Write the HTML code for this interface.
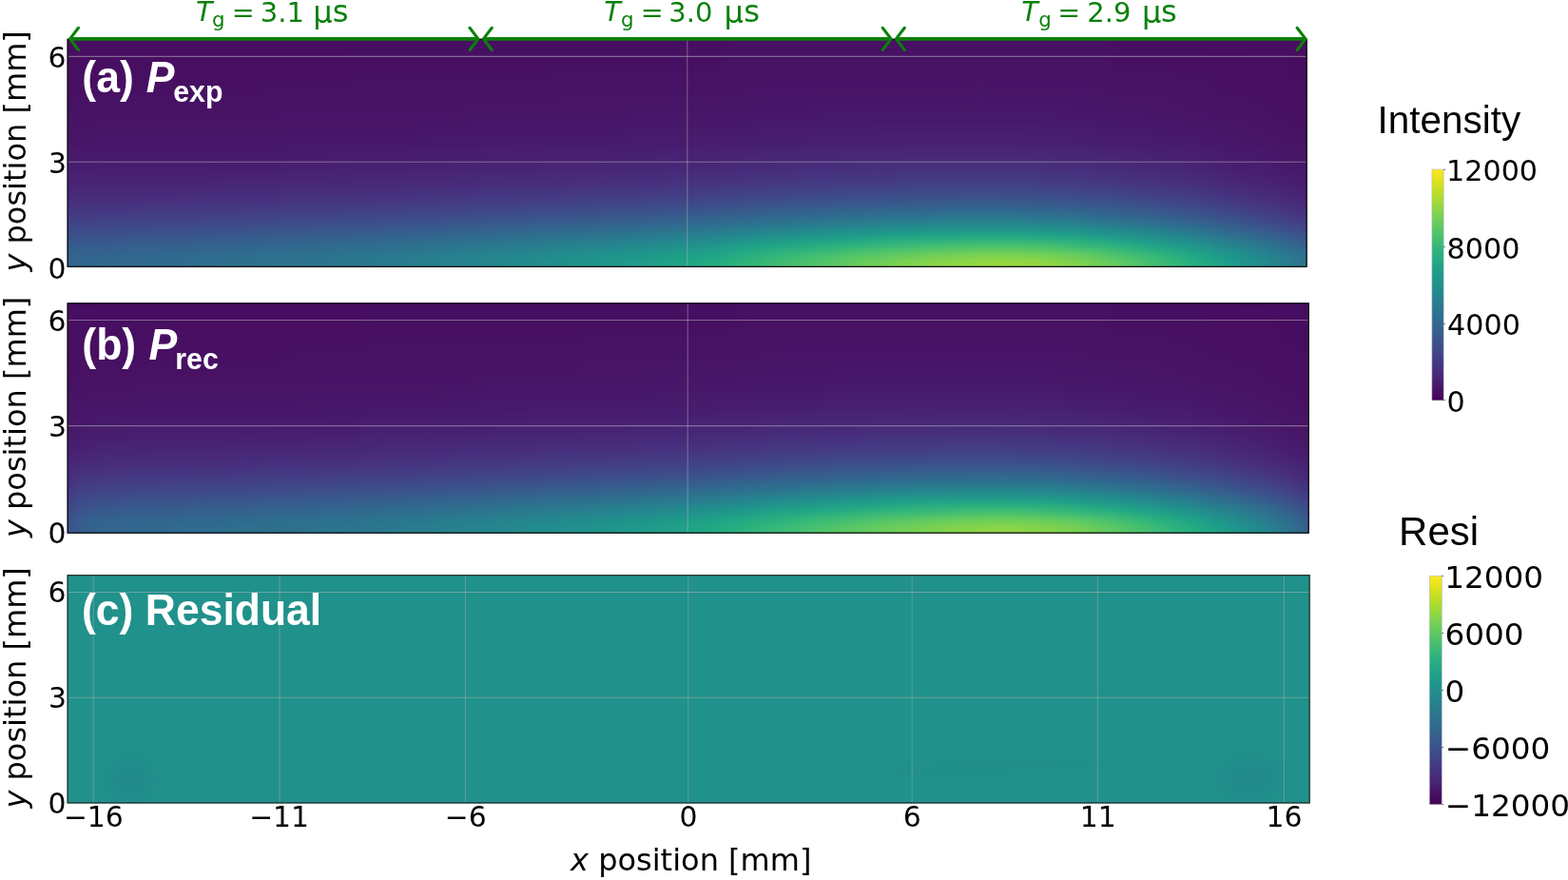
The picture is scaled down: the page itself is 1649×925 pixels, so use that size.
<!DOCTYPE html>
<html><head><meta charset="utf-8"><title>Figure</title><style>html,body{margin:0;padding:0;background:#fff;overflow:hidden}svg{display:block}</style></head><body>
<svg width="1649" height="925" viewBox="0 0 1649 925" role="img" aria-label="Intensity maps: (a) P exp, (b) P rec, (c) Residual">
<defs>
<filter id="hb" filterUnits="userSpaceOnUse" x="0" y="0" width="1649" height="925" color-interpolation-filters="sRGB"><feGaussianBlur stdDeviation="5 0"/></filter>
<linearGradient id="a0" x1="0" y1="0" x2="0" y2="1"><stop offset="0.00" stop-color="#470e61"/><stop offset="0.12" stop-color="#470e61"/><stop offset="0.24" stop-color="#471063"/><stop offset="0.36" stop-color="#471365"/><stop offset="0.46" stop-color="#481668"/><stop offset="0.55" stop-color="#481b6d"/><stop offset="0.63" stop-color="#482374"/><stop offset="0.70" stop-color="#472c7a"/><stop offset="0.76" stop-color="#453882"/><stop offset="0.81" stop-color="#414487"/><stop offset="0.86" stop-color="#3c508b"/><stop offset="0.90" stop-color="#375a8c"/><stop offset="0.94" stop-color="#34618d"/><stop offset="0.97" stop-color="#32648e"/><stop offset="1.00" stop-color="#31668e"/></linearGradient><linearGradient id="a1" x1="0" y1="0" x2="0" y2="1"><stop offset="0.00" stop-color="#470e61"/><stop offset="0.12" stop-color="#470e61"/><stop offset="0.24" stop-color="#471063"/><stop offset="0.36" stop-color="#471365"/><stop offset="0.46" stop-color="#481668"/><stop offset="0.55" stop-color="#481b6d"/><stop offset="0.63" stop-color="#482374"/><stop offset="0.70" stop-color="#472c7a"/><stop offset="0.76" stop-color="#453882"/><stop offset="0.81" stop-color="#414487"/><stop offset="0.86" stop-color="#3c508b"/><stop offset="0.90" stop-color="#375a8c"/><stop offset="0.94" stop-color="#34618d"/><stop offset="0.97" stop-color="#32648e"/><stop offset="1.00" stop-color="#31668e"/></linearGradient><linearGradient id="a2" x1="0" y1="0" x2="0" y2="1"><stop offset="0.00" stop-color="#470e61"/><stop offset="0.12" stop-color="#470e61"/><stop offset="0.24" stop-color="#471063"/><stop offset="0.36" stop-color="#471365"/><stop offset="0.46" stop-color="#481668"/><stop offset="0.55" stop-color="#481b6d"/><stop offset="0.63" stop-color="#482374"/><stop offset="0.70" stop-color="#472d7b"/><stop offset="0.76" stop-color="#453882"/><stop offset="0.81" stop-color="#414487"/><stop offset="0.86" stop-color="#3c508b"/><stop offset="0.90" stop-color="#375a8c"/><stop offset="0.94" stop-color="#34618d"/><stop offset="0.97" stop-color="#32658e"/><stop offset="1.00" stop-color="#31668e"/></linearGradient><linearGradient id="a3" x1="0" y1="0" x2="0" y2="1"><stop offset="0.00" stop-color="#470e61"/><stop offset="0.12" stop-color="#470e61"/><stop offset="0.24" stop-color="#471063"/><stop offset="0.36" stop-color="#471365"/><stop offset="0.46" stop-color="#481668"/><stop offset="0.55" stop-color="#481b6d"/><stop offset="0.63" stop-color="#482374"/><stop offset="0.70" stop-color="#472d7b"/><stop offset="0.76" stop-color="#453882"/><stop offset="0.81" stop-color="#414487"/><stop offset="0.86" stop-color="#3c508b"/><stop offset="0.90" stop-color="#375a8c"/><stop offset="0.94" stop-color="#33628d"/><stop offset="0.97" stop-color="#32658e"/><stop offset="1.00" stop-color="#31678e"/></linearGradient><linearGradient id="a4" x1="0" y1="0" x2="0" y2="1"><stop offset="0.00" stop-color="#470e61"/><stop offset="0.12" stop-color="#470e61"/><stop offset="0.24" stop-color="#471063"/><stop offset="0.36" stop-color="#471365"/><stop offset="0.46" stop-color="#481769"/><stop offset="0.55" stop-color="#481b6d"/><stop offset="0.63" stop-color="#482374"/><stop offset="0.70" stop-color="#472d7b"/><stop offset="0.76" stop-color="#453882"/><stop offset="0.81" stop-color="#414487"/><stop offset="0.86" stop-color="#3b518b"/><stop offset="0.90" stop-color="#375b8d"/><stop offset="0.94" stop-color="#33628d"/><stop offset="0.97" stop-color="#31668e"/><stop offset="1.00" stop-color="#31678e"/></linearGradient><linearGradient id="a5" x1="0" y1="0" x2="0" y2="1"><stop offset="0.00" stop-color="#470e61"/><stop offset="0.12" stop-color="#470e61"/><stop offset="0.24" stop-color="#471063"/><stop offset="0.36" stop-color="#471365"/><stop offset="0.46" stop-color="#481769"/><stop offset="0.55" stop-color="#481c6e"/><stop offset="0.63" stop-color="#482374"/><stop offset="0.70" stop-color="#472d7b"/><stop offset="0.76" stop-color="#443983"/><stop offset="0.81" stop-color="#404588"/><stop offset="0.86" stop-color="#3b518b"/><stop offset="0.90" stop-color="#375b8d"/><stop offset="0.94" stop-color="#33638d"/><stop offset="0.97" stop-color="#31678e"/><stop offset="1.00" stop-color="#31688e"/></linearGradient><linearGradient id="a6" x1="0" y1="0" x2="0" y2="1"><stop offset="0.00" stop-color="#470e61"/><stop offset="0.12" stop-color="#470e61"/><stop offset="0.24" stop-color="#471063"/><stop offset="0.36" stop-color="#471365"/><stop offset="0.46" stop-color="#481769"/><stop offset="0.55" stop-color="#481c6e"/><stop offset="0.63" stop-color="#482374"/><stop offset="0.70" stop-color="#472d7b"/><stop offset="0.76" stop-color="#443983"/><stop offset="0.81" stop-color="#404588"/><stop offset="0.86" stop-color="#3b528b"/><stop offset="0.90" stop-color="#365c8d"/><stop offset="0.94" stop-color="#32648e"/><stop offset="0.97" stop-color="#31678e"/><stop offset="1.00" stop-color="#30698e"/></linearGradient><linearGradient id="a7" x1="0" y1="0" x2="0" y2="1"><stop offset="0.00" stop-color="#470e61"/><stop offset="0.12" stop-color="#470e61"/><stop offset="0.24" stop-color="#471063"/><stop offset="0.36" stop-color="#471365"/><stop offset="0.46" stop-color="#481769"/><stop offset="0.55" stop-color="#481c6e"/><stop offset="0.63" stop-color="#482475"/><stop offset="0.70" stop-color="#472d7b"/><stop offset="0.76" stop-color="#443983"/><stop offset="0.81" stop-color="#404588"/><stop offset="0.86" stop-color="#3b528b"/><stop offset="0.90" stop-color="#365c8d"/><stop offset="0.94" stop-color="#32648e"/><stop offset="0.97" stop-color="#31688e"/><stop offset="1.00" stop-color="#30698e"/></linearGradient><linearGradient id="a8" x1="0" y1="0" x2="0" y2="1"><stop offset="0.00" stop-color="#470e61"/><stop offset="0.12" stop-color="#470e61"/><stop offset="0.24" stop-color="#471063"/><stop offset="0.36" stop-color="#471365"/><stop offset="0.46" stop-color="#481769"/><stop offset="0.55" stop-color="#481c6e"/><stop offset="0.63" stop-color="#482475"/><stop offset="0.70" stop-color="#472e7c"/><stop offset="0.76" stop-color="#443983"/><stop offset="0.81" stop-color="#404688"/><stop offset="0.86" stop-color="#3a538b"/><stop offset="0.90" stop-color="#365d8d"/><stop offset="0.94" stop-color="#32658e"/><stop offset="0.97" stop-color="#31688e"/><stop offset="1.00" stop-color="#306a8e"/></linearGradient><linearGradient id="a9" x1="0" y1="0" x2="0" y2="1"><stop offset="0.00" stop-color="#470e61"/><stop offset="0.12" stop-color="#470e61"/><stop offset="0.24" stop-color="#471063"/><stop offset="0.36" stop-color="#471365"/><stop offset="0.46" stop-color="#481769"/><stop offset="0.55" stop-color="#481c6e"/><stop offset="0.63" stop-color="#482475"/><stop offset="0.70" stop-color="#472e7c"/><stop offset="0.76" stop-color="#443a83"/><stop offset="0.81" stop-color="#404688"/><stop offset="0.86" stop-color="#3a538b"/><stop offset="0.90" stop-color="#365d8d"/><stop offset="0.94" stop-color="#32658e"/><stop offset="0.97" stop-color="#30698e"/><stop offset="1.00" stop-color="#306a8e"/></linearGradient><linearGradient id="a10" x1="0" y1="0" x2="0" y2="1"><stop offset="0.00" stop-color="#470e61"/><stop offset="0.12" stop-color="#470e61"/><stop offset="0.24" stop-color="#471063"/><stop offset="0.36" stop-color="#471365"/><stop offset="0.46" stop-color="#481769"/><stop offset="0.55" stop-color="#481c6e"/><stop offset="0.63" stop-color="#482475"/><stop offset="0.70" stop-color="#472e7c"/><stop offset="0.76" stop-color="#443a83"/><stop offset="0.81" stop-color="#404688"/><stop offset="0.86" stop-color="#3a538b"/><stop offset="0.90" stop-color="#355e8d"/><stop offset="0.94" stop-color="#31668e"/><stop offset="0.97" stop-color="#306a8e"/><stop offset="1.00" stop-color="#2f6b8e"/></linearGradient><linearGradient id="a11" x1="0" y1="0" x2="0" y2="1"><stop offset="0.00" stop-color="#470e61"/><stop offset="0.12" stop-color="#470e61"/><stop offset="0.24" stop-color="#471063"/><stop offset="0.36" stop-color="#471365"/><stop offset="0.46" stop-color="#481769"/><stop offset="0.55" stop-color="#481c6e"/><stop offset="0.63" stop-color="#482475"/><stop offset="0.70" stop-color="#472e7c"/><stop offset="0.76" stop-color="#443a83"/><stop offset="0.81" stop-color="#3f4788"/><stop offset="0.86" stop-color="#3a548c"/><stop offset="0.90" stop-color="#355e8d"/><stop offset="0.94" stop-color="#31668e"/><stop offset="0.97" stop-color="#306a8e"/><stop offset="1.00" stop-color="#2f6b8e"/></linearGradient><linearGradient id="a12" x1="0" y1="0" x2="0" y2="1"><stop offset="0.00" stop-color="#470e61"/><stop offset="0.12" stop-color="#470e61"/><stop offset="0.24" stop-color="#471063"/><stop offset="0.36" stop-color="#471365"/><stop offset="0.46" stop-color="#481769"/><stop offset="0.55" stop-color="#481c6e"/><stop offset="0.63" stop-color="#482475"/><stop offset="0.70" stop-color="#472e7c"/><stop offset="0.76" stop-color="#443a83"/><stop offset="0.81" stop-color="#3f4788"/><stop offset="0.86" stop-color="#3a548c"/><stop offset="0.90" stop-color="#355f8d"/><stop offset="0.94" stop-color="#31678e"/><stop offset="0.97" stop-color="#2f6b8e"/><stop offset="1.00" stop-color="#2f6c8e"/></linearGradient><linearGradient id="a13" x1="0" y1="0" x2="0" y2="1"><stop offset="0.00" stop-color="#470e61"/><stop offset="0.12" stop-color="#470e61"/><stop offset="0.24" stop-color="#471063"/><stop offset="0.36" stop-color="#471365"/><stop offset="0.46" stop-color="#481769"/><stop offset="0.55" stop-color="#481c6e"/><stop offset="0.63" stop-color="#482475"/><stop offset="0.70" stop-color="#472e7c"/><stop offset="0.76" stop-color="#443b84"/><stop offset="0.81" stop-color="#3f4788"/><stop offset="0.86" stop-color="#39558c"/><stop offset="0.90" stop-color="#355f8d"/><stop offset="0.94" stop-color="#31678e"/><stop offset="0.97" stop-color="#2f6b8e"/><stop offset="1.00" stop-color="#2e6d8e"/></linearGradient><linearGradient id="a14" x1="0" y1="0" x2="0" y2="1"><stop offset="0.00" stop-color="#470e61"/><stop offset="0.12" stop-color="#470e61"/><stop offset="0.24" stop-color="#471063"/><stop offset="0.36" stop-color="#471365"/><stop offset="0.46" stop-color="#481769"/><stop offset="0.55" stop-color="#481c6e"/><stop offset="0.63" stop-color="#482475"/><stop offset="0.70" stop-color="#472f7d"/><stop offset="0.76" stop-color="#443b84"/><stop offset="0.81" stop-color="#3f4889"/><stop offset="0.86" stop-color="#39558c"/><stop offset="0.90" stop-color="#34608d"/><stop offset="0.94" stop-color="#31688e"/><stop offset="0.97" stop-color="#2f6c8e"/><stop offset="1.00" stop-color="#2e6d8e"/></linearGradient><linearGradient id="a15" x1="0" y1="0" x2="0" y2="1"><stop offset="0.00" stop-color="#470e61"/><stop offset="0.12" stop-color="#470e61"/><stop offset="0.24" stop-color="#471063"/><stop offset="0.36" stop-color="#471365"/><stop offset="0.46" stop-color="#481769"/><stop offset="0.55" stop-color="#481c6e"/><stop offset="0.63" stop-color="#482475"/><stop offset="0.70" stop-color="#472f7d"/><stop offset="0.76" stop-color="#443b84"/><stop offset="0.81" stop-color="#3f4889"/><stop offset="0.86" stop-color="#39558c"/><stop offset="0.90" stop-color="#34608d"/><stop offset="0.94" stop-color="#30698e"/><stop offset="0.97" stop-color="#2f6c8e"/><stop offset="1.00" stop-color="#2e6e8e"/></linearGradient><linearGradient id="a16" x1="0" y1="0" x2="0" y2="1"><stop offset="0.00" stop-color="#470e61"/><stop offset="0.12" stop-color="#470e61"/><stop offset="0.24" stop-color="#471063"/><stop offset="0.36" stop-color="#471365"/><stop offset="0.46" stop-color="#481769"/><stop offset="0.55" stop-color="#481c6e"/><stop offset="0.63" stop-color="#482576"/><stop offset="0.70" stop-color="#472f7d"/><stop offset="0.76" stop-color="#443b84"/><stop offset="0.81" stop-color="#3f4889"/><stop offset="0.86" stop-color="#39568c"/><stop offset="0.90" stop-color="#34618d"/><stop offset="0.94" stop-color="#30698e"/><stop offset="0.97" stop-color="#2e6d8e"/><stop offset="1.00" stop-color="#2e6e8e"/></linearGradient><linearGradient id="a17" x1="0" y1="0" x2="0" y2="1"><stop offset="0.00" stop-color="#470e61"/><stop offset="0.12" stop-color="#470e61"/><stop offset="0.24" stop-color="#471063"/><stop offset="0.36" stop-color="#471365"/><stop offset="0.46" stop-color="#481769"/><stop offset="0.55" stop-color="#481c6e"/><stop offset="0.63" stop-color="#482576"/><stop offset="0.70" stop-color="#472f7d"/><stop offset="0.76" stop-color="#433d84"/><stop offset="0.81" stop-color="#3e4989"/><stop offset="0.86" stop-color="#39568c"/><stop offset="0.90" stop-color="#34618d"/><stop offset="0.94" stop-color="#306a8e"/><stop offset="0.97" stop-color="#2e6e8e"/><stop offset="1.00" stop-color="#2e6f8e"/></linearGradient><linearGradient id="a18" x1="0" y1="0" x2="0" y2="1"><stop offset="0.00" stop-color="#470e61"/><stop offset="0.12" stop-color="#470e61"/><stop offset="0.24" stop-color="#471063"/><stop offset="0.36" stop-color="#471365"/><stop offset="0.46" stop-color="#481769"/><stop offset="0.55" stop-color="#481d6f"/><stop offset="0.63" stop-color="#482576"/><stop offset="0.70" stop-color="#472f7d"/><stop offset="0.76" stop-color="#433d84"/><stop offset="0.81" stop-color="#3e4989"/><stop offset="0.86" stop-color="#38588c"/><stop offset="0.90" stop-color="#33628d"/><stop offset="0.94" stop-color="#306a8e"/><stop offset="0.97" stop-color="#2e6e8e"/><stop offset="1.00" stop-color="#2d708e"/></linearGradient><linearGradient id="a19" x1="0" y1="0" x2="0" y2="1"><stop offset="0.00" stop-color="#470e61"/><stop offset="0.12" stop-color="#470e61"/><stop offset="0.24" stop-color="#471063"/><stop offset="0.36" stop-color="#471365"/><stop offset="0.46" stop-color="#481769"/><stop offset="0.55" stop-color="#481d6f"/><stop offset="0.63" stop-color="#482576"/><stop offset="0.70" stop-color="#46307e"/><stop offset="0.76" stop-color="#433d84"/><stop offset="0.81" stop-color="#3e4989"/><stop offset="0.86" stop-color="#38588c"/><stop offset="0.90" stop-color="#33628d"/><stop offset="0.94" stop-color="#2f6b8e"/><stop offset="0.97" stop-color="#2e6f8e"/><stop offset="1.00" stop-color="#2d708e"/></linearGradient><linearGradient id="a20" x1="0" y1="0" x2="0" y2="1"><stop offset="0.00" stop-color="#470e61"/><stop offset="0.12" stop-color="#470e61"/><stop offset="0.24" stop-color="#471063"/><stop offset="0.36" stop-color="#471365"/><stop offset="0.46" stop-color="#481769"/><stop offset="0.55" stop-color="#481d6f"/><stop offset="0.63" stop-color="#482576"/><stop offset="0.70" stop-color="#46307e"/><stop offset="0.76" stop-color="#433d84"/><stop offset="0.81" stop-color="#3e4a89"/><stop offset="0.86" stop-color="#38598c"/><stop offset="0.90" stop-color="#33638d"/><stop offset="0.94" stop-color="#2f6c8e"/><stop offset="0.97" stop-color="#2d708e"/><stop offset="1.00" stop-color="#2d718e"/></linearGradient><linearGradient id="a21" x1="0" y1="0" x2="0" y2="1"><stop offset="0.00" stop-color="#470e61"/><stop offset="0.12" stop-color="#470e61"/><stop offset="0.24" stop-color="#471063"/><stop offset="0.36" stop-color="#471365"/><stop offset="0.46" stop-color="#481769"/><stop offset="0.55" stop-color="#481d6f"/><stop offset="0.63" stop-color="#482576"/><stop offset="0.70" stop-color="#46307e"/><stop offset="0.76" stop-color="#433e85"/><stop offset="0.81" stop-color="#3e4a89"/><stop offset="0.86" stop-color="#38598c"/><stop offset="0.90" stop-color="#32648e"/><stop offset="0.94" stop-color="#2f6c8e"/><stop offset="0.97" stop-color="#2d708e"/><stop offset="1.00" stop-color="#2c718e"/></linearGradient><linearGradient id="a22" x1="0" y1="0" x2="0" y2="1"><stop offset="0.00" stop-color="#470e61"/><stop offset="0.12" stop-color="#470e61"/><stop offset="0.24" stop-color="#471164"/><stop offset="0.36" stop-color="#471365"/><stop offset="0.46" stop-color="#481769"/><stop offset="0.55" stop-color="#481d6f"/><stop offset="0.63" stop-color="#482576"/><stop offset="0.70" stop-color="#46307e"/><stop offset="0.76" stop-color="#433e85"/><stop offset="0.81" stop-color="#3e4a89"/><stop offset="0.86" stop-color="#375a8c"/><stop offset="0.90" stop-color="#32648e"/><stop offset="0.94" stop-color="#2e6d8e"/><stop offset="0.97" stop-color="#2d718e"/><stop offset="1.00" stop-color="#2c718e"/></linearGradient><linearGradient id="a23" x1="0" y1="0" x2="0" y2="1"><stop offset="0.00" stop-color="#470e61"/><stop offset="0.12" stop-color="#470e61"/><stop offset="0.24" stop-color="#471164"/><stop offset="0.36" stop-color="#481467"/><stop offset="0.46" stop-color="#481769"/><stop offset="0.55" stop-color="#481d6f"/><stop offset="0.63" stop-color="#482576"/><stop offset="0.70" stop-color="#46307e"/><stop offset="0.76" stop-color="#433e85"/><stop offset="0.81" stop-color="#3e4c8a"/><stop offset="0.86" stop-color="#375a8c"/><stop offset="0.90" stop-color="#32658e"/><stop offset="0.94" stop-color="#2e6d8e"/><stop offset="0.97" stop-color="#2c718e"/><stop offset="1.00" stop-color="#2c728e"/></linearGradient><linearGradient id="a24" x1="0" y1="0" x2="0" y2="1"><stop offset="0.00" stop-color="#470e61"/><stop offset="0.12" stop-color="#470e61"/><stop offset="0.24" stop-color="#471164"/><stop offset="0.36" stop-color="#481467"/><stop offset="0.46" stop-color="#48186a"/><stop offset="0.55" stop-color="#481d6f"/><stop offset="0.63" stop-color="#482677"/><stop offset="0.70" stop-color="#46327e"/><stop offset="0.76" stop-color="#433e85"/><stop offset="0.81" stop-color="#3e4c8a"/><stop offset="0.86" stop-color="#375b8d"/><stop offset="0.90" stop-color="#32658e"/><stop offset="0.94" stop-color="#2e6e8e"/><stop offset="0.97" stop-color="#2c718e"/><stop offset="1.00" stop-color="#2c738e"/></linearGradient><linearGradient id="a25" x1="0" y1="0" x2="0" y2="1"><stop offset="0.00" stop-color="#470e61"/><stop offset="0.12" stop-color="#470e61"/><stop offset="0.24" stop-color="#471164"/><stop offset="0.36" stop-color="#481467"/><stop offset="0.46" stop-color="#48186a"/><stop offset="0.55" stop-color="#481d6f"/><stop offset="0.63" stop-color="#482677"/><stop offset="0.70" stop-color="#46327e"/><stop offset="0.76" stop-color="#423f85"/><stop offset="0.81" stop-color="#3d4d8a"/><stop offset="0.86" stop-color="#375b8d"/><stop offset="0.90" stop-color="#31668e"/><stop offset="0.94" stop-color="#2e6f8e"/><stop offset="0.97" stop-color="#2c728e"/><stop offset="1.00" stop-color="#2b748e"/></linearGradient><linearGradient id="a26" x1="0" y1="0" x2="0" y2="1"><stop offset="0.00" stop-color="#470e61"/><stop offset="0.12" stop-color="#470e61"/><stop offset="0.24" stop-color="#471164"/><stop offset="0.36" stop-color="#481467"/><stop offset="0.46" stop-color="#48186a"/><stop offset="0.55" stop-color="#481d6f"/><stop offset="0.63" stop-color="#482677"/><stop offset="0.70" stop-color="#46327e"/><stop offset="0.76" stop-color="#423f85"/><stop offset="0.81" stop-color="#3d4d8a"/><stop offset="0.86" stop-color="#365c8d"/><stop offset="0.90" stop-color="#31668e"/><stop offset="0.94" stop-color="#2e6f8e"/><stop offset="0.97" stop-color="#2c738e"/><stop offset="1.00" stop-color="#2b748e"/></linearGradient><linearGradient id="a27" x1="0" y1="0" x2="0" y2="1"><stop offset="0.00" stop-color="#470e61"/><stop offset="0.12" stop-color="#470e61"/><stop offset="0.24" stop-color="#471164"/><stop offset="0.36" stop-color="#481467"/><stop offset="0.46" stop-color="#48186a"/><stop offset="0.55" stop-color="#481d6f"/><stop offset="0.63" stop-color="#482677"/><stop offset="0.70" stop-color="#46327e"/><stop offset="0.76" stop-color="#423f85"/><stop offset="0.81" stop-color="#3d4d8a"/><stop offset="0.86" stop-color="#365c8d"/><stop offset="0.90" stop-color="#31678e"/><stop offset="0.94" stop-color="#2d708e"/><stop offset="0.97" stop-color="#2c738e"/><stop offset="1.00" stop-color="#2b758e"/></linearGradient><linearGradient id="a28" x1="0" y1="0" x2="0" y2="1"><stop offset="0.00" stop-color="#470e61"/><stop offset="0.12" stop-color="#470e61"/><stop offset="0.24" stop-color="#471164"/><stop offset="0.36" stop-color="#481467"/><stop offset="0.46" stop-color="#48186a"/><stop offset="0.55" stop-color="#481d6f"/><stop offset="0.63" stop-color="#482677"/><stop offset="0.70" stop-color="#46327e"/><stop offset="0.76" stop-color="#424086"/><stop offset="0.81" stop-color="#3d4e8a"/><stop offset="0.86" stop-color="#365d8d"/><stop offset="0.90" stop-color="#31688e"/><stop offset="0.94" stop-color="#2d718e"/><stop offset="0.97" stop-color="#2b748e"/><stop offset="1.00" stop-color="#2a768e"/></linearGradient><linearGradient id="a29" x1="0" y1="0" x2="0" y2="1"><stop offset="0.00" stop-color="#470e61"/><stop offset="0.12" stop-color="#470e61"/><stop offset="0.24" stop-color="#471164"/><stop offset="0.36" stop-color="#481467"/><stop offset="0.46" stop-color="#48186a"/><stop offset="0.55" stop-color="#481d6f"/><stop offset="0.63" stop-color="#482677"/><stop offset="0.70" stop-color="#46337f"/><stop offset="0.76" stop-color="#424086"/><stop offset="0.81" stop-color="#3d4e8a"/><stop offset="0.86" stop-color="#365d8d"/><stop offset="0.90" stop-color="#31688e"/><stop offset="0.94" stop-color="#2c718e"/><stop offset="0.97" stop-color="#2b758e"/><stop offset="1.00" stop-color="#2a778e"/></linearGradient><linearGradient id="a30" x1="0" y1="0" x2="0" y2="1"><stop offset="0.00" stop-color="#470e61"/><stop offset="0.12" stop-color="#470e61"/><stop offset="0.24" stop-color="#471164"/><stop offset="0.36" stop-color="#481467"/><stop offset="0.46" stop-color="#48186a"/><stop offset="0.55" stop-color="#481f70"/><stop offset="0.63" stop-color="#482677"/><stop offset="0.70" stop-color="#46337f"/><stop offset="0.76" stop-color="#424086"/><stop offset="0.81" stop-color="#3c4f8a"/><stop offset="0.86" stop-color="#355e8d"/><stop offset="0.90" stop-color="#30698e"/><stop offset="0.94" stop-color="#2c718e"/><stop offset="0.97" stop-color="#2a768e"/><stop offset="1.00" stop-color="#2a778e"/></linearGradient><linearGradient id="a31" x1="0" y1="0" x2="0" y2="1"><stop offset="0.00" stop-color="#470e61"/><stop offset="0.12" stop-color="#471063"/><stop offset="0.24" stop-color="#471164"/><stop offset="0.36" stop-color="#481467"/><stop offset="0.46" stop-color="#48186a"/><stop offset="0.55" stop-color="#481f70"/><stop offset="0.63" stop-color="#482878"/><stop offset="0.70" stop-color="#46337f"/><stop offset="0.76" stop-color="#424186"/><stop offset="0.81" stop-color="#3c4f8a"/><stop offset="0.86" stop-color="#355e8d"/><stop offset="0.90" stop-color="#306a8e"/><stop offset="0.94" stop-color="#2c728e"/><stop offset="0.97" stop-color="#2a778e"/><stop offset="1.00" stop-color="#2a788e"/></linearGradient><linearGradient id="a32" x1="0" y1="0" x2="0" y2="1"><stop offset="0.00" stop-color="#470e61"/><stop offset="0.12" stop-color="#471063"/><stop offset="0.24" stop-color="#471164"/><stop offset="0.36" stop-color="#481467"/><stop offset="0.46" stop-color="#48186a"/><stop offset="0.55" stop-color="#481f70"/><stop offset="0.63" stop-color="#482878"/><stop offset="0.70" stop-color="#46337f"/><stop offset="0.76" stop-color="#424186"/><stop offset="0.81" stop-color="#3c4f8a"/><stop offset="0.86" stop-color="#355f8d"/><stop offset="0.90" stop-color="#306a8e"/><stop offset="0.94" stop-color="#2c738e"/><stop offset="0.97" stop-color="#2a778e"/><stop offset="1.00" stop-color="#29798e"/></linearGradient><linearGradient id="a33" x1="0" y1="0" x2="0" y2="1"><stop offset="0.00" stop-color="#470e61"/><stop offset="0.12" stop-color="#471063"/><stop offset="0.24" stop-color="#471164"/><stop offset="0.36" stop-color="#481467"/><stop offset="0.46" stop-color="#48186a"/><stop offset="0.55" stop-color="#481f70"/><stop offset="0.63" stop-color="#482878"/><stop offset="0.70" stop-color="#463480"/><stop offset="0.76" stop-color="#424186"/><stop offset="0.81" stop-color="#3c508b"/><stop offset="0.86" stop-color="#355f8d"/><stop offset="0.90" stop-color="#2f6b8e"/><stop offset="0.94" stop-color="#2b748e"/><stop offset="0.97" stop-color="#2a788e"/><stop offset="1.00" stop-color="#297a8e"/></linearGradient><linearGradient id="a34" x1="0" y1="0" x2="0" y2="1"><stop offset="0.00" stop-color="#470e61"/><stop offset="0.12" stop-color="#471063"/><stop offset="0.24" stop-color="#471164"/><stop offset="0.36" stop-color="#481467"/><stop offset="0.46" stop-color="#48186a"/><stop offset="0.55" stop-color="#481f70"/><stop offset="0.63" stop-color="#482878"/><stop offset="0.70" stop-color="#463480"/><stop offset="0.76" stop-color="#414287"/><stop offset="0.81" stop-color="#3c508b"/><stop offset="0.86" stop-color="#34608d"/><stop offset="0.90" stop-color="#2f6c8e"/><stop offset="0.94" stop-color="#2b758e"/><stop offset="0.97" stop-color="#29798e"/><stop offset="1.00" stop-color="#297b8e"/></linearGradient><linearGradient id="a35" x1="0" y1="0" x2="0" y2="1"><stop offset="0.00" stop-color="#470e61"/><stop offset="0.12" stop-color="#471063"/><stop offset="0.24" stop-color="#471164"/><stop offset="0.36" stop-color="#481467"/><stop offset="0.46" stop-color="#48186a"/><stop offset="0.55" stop-color="#481f70"/><stop offset="0.63" stop-color="#482878"/><stop offset="0.70" stop-color="#463480"/><stop offset="0.76" stop-color="#414287"/><stop offset="0.81" stop-color="#3b518b"/><stop offset="0.86" stop-color="#34618d"/><stop offset="0.90" stop-color="#2e6d8e"/><stop offset="0.94" stop-color="#2b758e"/><stop offset="0.97" stop-color="#297a8e"/><stop offset="1.00" stop-color="#287c8e"/></linearGradient><linearGradient id="a36" x1="0" y1="0" x2="0" y2="1"><stop offset="0.00" stop-color="#470e61"/><stop offset="0.12" stop-color="#471063"/><stop offset="0.24" stop-color="#471164"/><stop offset="0.36" stop-color="#481467"/><stop offset="0.46" stop-color="#48186a"/><stop offset="0.55" stop-color="#481f70"/><stop offset="0.63" stop-color="#482878"/><stop offset="0.70" stop-color="#463480"/><stop offset="0.76" stop-color="#414487"/><stop offset="0.81" stop-color="#3b528b"/><stop offset="0.86" stop-color="#33628d"/><stop offset="0.90" stop-color="#2e6d8e"/><stop offset="0.94" stop-color="#2a768e"/><stop offset="0.97" stop-color="#297b8e"/><stop offset="1.00" stop-color="#287d8e"/></linearGradient><linearGradient id="a37" x1="0" y1="0" x2="0" y2="1"><stop offset="0.00" stop-color="#470e61"/><stop offset="0.12" stop-color="#471063"/><stop offset="0.24" stop-color="#471164"/><stop offset="0.36" stop-color="#481467"/><stop offset="0.46" stop-color="#48186a"/><stop offset="0.55" stop-color="#481f70"/><stop offset="0.63" stop-color="#482979"/><stop offset="0.70" stop-color="#453581"/><stop offset="0.76" stop-color="#414487"/><stop offset="0.81" stop-color="#3b528b"/><stop offset="0.86" stop-color="#33628d"/><stop offset="0.90" stop-color="#2e6e8e"/><stop offset="0.94" stop-color="#2a778e"/><stop offset="0.97" stop-color="#287c8e"/><stop offset="1.00" stop-color="#277e8e"/></linearGradient><linearGradient id="a38" x1="0" y1="0" x2="0" y2="1"><stop offset="0.00" stop-color="#470e61"/><stop offset="0.12" stop-color="#471063"/><stop offset="0.24" stop-color="#471164"/><stop offset="0.36" stop-color="#481467"/><stop offset="0.46" stop-color="#48186a"/><stop offset="0.55" stop-color="#482071"/><stop offset="0.63" stop-color="#482979"/><stop offset="0.70" stop-color="#453581"/><stop offset="0.76" stop-color="#414487"/><stop offset="0.81" stop-color="#3a538b"/><stop offset="0.86" stop-color="#33638d"/><stop offset="0.90" stop-color="#2e6f8e"/><stop offset="0.94" stop-color="#2a788e"/><stop offset="0.97" stop-color="#287d8e"/><stop offset="1.00" stop-color="#277f8e"/></linearGradient><linearGradient id="a39" x1="0" y1="0" x2="0" y2="1"><stop offset="0.00" stop-color="#470e61"/><stop offset="0.12" stop-color="#471063"/><stop offset="0.24" stop-color="#471164"/><stop offset="0.36" stop-color="#481467"/><stop offset="0.46" stop-color="#481a6c"/><stop offset="0.55" stop-color="#482071"/><stop offset="0.63" stop-color="#482979"/><stop offset="0.70" stop-color="#453581"/><stop offset="0.76" stop-color="#404588"/><stop offset="0.81" stop-color="#3a538b"/><stop offset="0.86" stop-color="#32648e"/><stop offset="0.90" stop-color="#2d708e"/><stop offset="0.94" stop-color="#297a8e"/><stop offset="0.97" stop-color="#277e8e"/><stop offset="1.00" stop-color="#27808e"/></linearGradient><linearGradient id="a40" x1="0" y1="0" x2="0" y2="1"><stop offset="0.00" stop-color="#470e61"/><stop offset="0.12" stop-color="#471063"/><stop offset="0.24" stop-color="#471164"/><stop offset="0.36" stop-color="#481467"/><stop offset="0.46" stop-color="#481a6c"/><stop offset="0.55" stop-color="#482071"/><stop offset="0.63" stop-color="#482979"/><stop offset="0.70" stop-color="#453781"/><stop offset="0.76" stop-color="#404588"/><stop offset="0.81" stop-color="#3a548c"/><stop offset="0.86" stop-color="#32658e"/><stop offset="0.90" stop-color="#2d718e"/><stop offset="0.94" stop-color="#297b8e"/><stop offset="0.97" stop-color="#27808e"/><stop offset="1.00" stop-color="#26818e"/></linearGradient><linearGradient id="a41" x1="0" y1="0" x2="0" y2="1"><stop offset="0.00" stop-color="#470e61"/><stop offset="0.12" stop-color="#471063"/><stop offset="0.24" stop-color="#471164"/><stop offset="0.36" stop-color="#481467"/><stop offset="0.46" stop-color="#481a6c"/><stop offset="0.55" stop-color="#482071"/><stop offset="0.63" stop-color="#472a7a"/><stop offset="0.70" stop-color="#453781"/><stop offset="0.76" stop-color="#404688"/><stop offset="0.81" stop-color="#39558c"/><stop offset="0.86" stop-color="#31668e"/><stop offset="0.90" stop-color="#2c718e"/><stop offset="0.94" stop-color="#287c8e"/><stop offset="0.97" stop-color="#26818e"/><stop offset="1.00" stop-color="#26828e"/></linearGradient><linearGradient id="a42" x1="0" y1="0" x2="0" y2="1"><stop offset="0.00" stop-color="#470e61"/><stop offset="0.12" stop-color="#471063"/><stop offset="0.24" stop-color="#471164"/><stop offset="0.36" stop-color="#481467"/><stop offset="0.46" stop-color="#481a6c"/><stop offset="0.55" stop-color="#482071"/><stop offset="0.63" stop-color="#472a7a"/><stop offset="0.70" stop-color="#453781"/><stop offset="0.76" stop-color="#404688"/><stop offset="0.81" stop-color="#39558c"/><stop offset="0.86" stop-color="#31678e"/><stop offset="0.90" stop-color="#2c728e"/><stop offset="0.94" stop-color="#287d8e"/><stop offset="0.97" stop-color="#26828e"/><stop offset="1.00" stop-color="#25838e"/></linearGradient><linearGradient id="a43" x1="0" y1="0" x2="0" y2="1"><stop offset="0.00" stop-color="#470e61"/><stop offset="0.12" stop-color="#471063"/><stop offset="0.24" stop-color="#471164"/><stop offset="0.36" stop-color="#481668"/><stop offset="0.46" stop-color="#481a6c"/><stop offset="0.55" stop-color="#482071"/><stop offset="0.63" stop-color="#472a7a"/><stop offset="0.70" stop-color="#453882"/><stop offset="0.76" stop-color="#3f4788"/><stop offset="0.81" stop-color="#39568c"/><stop offset="0.86" stop-color="#31678e"/><stop offset="0.90" stop-color="#2b748e"/><stop offset="0.94" stop-color="#277e8e"/><stop offset="0.97" stop-color="#25838e"/><stop offset="1.00" stop-color="#25848e"/></linearGradient><linearGradient id="a44" x1="0" y1="0" x2="0" y2="1"><stop offset="0.00" stop-color="#470e61"/><stop offset="0.12" stop-color="#471063"/><stop offset="0.24" stop-color="#471164"/><stop offset="0.36" stop-color="#481668"/><stop offset="0.46" stop-color="#481a6c"/><stop offset="0.55" stop-color="#482071"/><stop offset="0.63" stop-color="#472a7a"/><stop offset="0.70" stop-color="#453882"/><stop offset="0.76" stop-color="#3f4889"/><stop offset="0.81" stop-color="#38588c"/><stop offset="0.86" stop-color="#31688e"/><stop offset="0.90" stop-color="#2b758e"/><stop offset="0.94" stop-color="#27808e"/><stop offset="0.97" stop-color="#25848e"/><stop offset="1.00" stop-color="#24868e"/></linearGradient><linearGradient id="a45" x1="0" y1="0" x2="0" y2="1"><stop offset="0.00" stop-color="#470e61"/><stop offset="0.12" stop-color="#471063"/><stop offset="0.24" stop-color="#471164"/><stop offset="0.36" stop-color="#481668"/><stop offset="0.46" stop-color="#481a6c"/><stop offset="0.55" stop-color="#482173"/><stop offset="0.63" stop-color="#472c7a"/><stop offset="0.70" stop-color="#443983"/><stop offset="0.76" stop-color="#3f4889"/><stop offset="0.81" stop-color="#38598c"/><stop offset="0.86" stop-color="#30698e"/><stop offset="0.90" stop-color="#2a768e"/><stop offset="0.94" stop-color="#26818e"/><stop offset="0.97" stop-color="#25858e"/><stop offset="1.00" stop-color="#24878e"/></linearGradient><linearGradient id="a46" x1="0" y1="0" x2="0" y2="1"><stop offset="0.00" stop-color="#470e61"/><stop offset="0.12" stop-color="#471063"/><stop offset="0.24" stop-color="#471164"/><stop offset="0.36" stop-color="#481668"/><stop offset="0.46" stop-color="#481a6c"/><stop offset="0.55" stop-color="#482173"/><stop offset="0.63" stop-color="#472c7a"/><stop offset="0.70" stop-color="#443983"/><stop offset="0.76" stop-color="#3e4989"/><stop offset="0.81" stop-color="#38598c"/><stop offset="0.86" stop-color="#306a8e"/><stop offset="0.90" stop-color="#2a778e"/><stop offset="0.94" stop-color="#26828e"/><stop offset="0.97" stop-color="#24868e"/><stop offset="1.00" stop-color="#23888e"/></linearGradient><linearGradient id="a47" x1="0" y1="0" x2="0" y2="1"><stop offset="0.00" stop-color="#470e61"/><stop offset="0.12" stop-color="#471063"/><stop offset="0.24" stop-color="#471164"/><stop offset="0.36" stop-color="#481668"/><stop offset="0.46" stop-color="#481a6c"/><stop offset="0.55" stop-color="#482173"/><stop offset="0.63" stop-color="#472c7a"/><stop offset="0.70" stop-color="#443983"/><stop offset="0.76" stop-color="#3e4989"/><stop offset="0.81" stop-color="#375a8c"/><stop offset="0.86" stop-color="#2f6b8e"/><stop offset="0.90" stop-color="#2a788e"/><stop offset="0.94" stop-color="#26828e"/><stop offset="0.97" stop-color="#23888e"/><stop offset="1.00" stop-color="#238a8d"/></linearGradient><linearGradient id="a48" x1="0" y1="0" x2="0" y2="1"><stop offset="0.00" stop-color="#470e61"/><stop offset="0.12" stop-color="#471063"/><stop offset="0.24" stop-color="#471164"/><stop offset="0.36" stop-color="#481668"/><stop offset="0.46" stop-color="#481a6c"/><stop offset="0.55" stop-color="#482173"/><stop offset="0.63" stop-color="#472c7a"/><stop offset="0.70" stop-color="#443a83"/><stop offset="0.76" stop-color="#3e4a89"/><stop offset="0.81" stop-color="#375b8d"/><stop offset="0.86" stop-color="#2f6c8e"/><stop offset="0.90" stop-color="#29798e"/><stop offset="0.94" stop-color="#25848e"/><stop offset="0.97" stop-color="#23898e"/><stop offset="1.00" stop-color="#228b8d"/></linearGradient><linearGradient id="a49" x1="0" y1="0" x2="0" y2="1"><stop offset="0.00" stop-color="#470e61"/><stop offset="0.12" stop-color="#471063"/><stop offset="0.24" stop-color="#471164"/><stop offset="0.36" stop-color="#481668"/><stop offset="0.46" stop-color="#481b6d"/><stop offset="0.55" stop-color="#482173"/><stop offset="0.63" stop-color="#472d7b"/><stop offset="0.70" stop-color="#443a83"/><stop offset="0.76" stop-color="#3e4a89"/><stop offset="0.81" stop-color="#375b8d"/><stop offset="0.86" stop-color="#2e6d8e"/><stop offset="0.90" stop-color="#297a8e"/><stop offset="0.94" stop-color="#25858e"/><stop offset="0.97" stop-color="#228b8d"/><stop offset="1.00" stop-color="#228d8d"/></linearGradient><linearGradient id="a50" x1="0" y1="0" x2="0" y2="1"><stop offset="0.00" stop-color="#470e61"/><stop offset="0.12" stop-color="#471063"/><stop offset="0.24" stop-color="#471164"/><stop offset="0.36" stop-color="#481668"/><stop offset="0.46" stop-color="#481b6d"/><stop offset="0.55" stop-color="#482173"/><stop offset="0.63" stop-color="#472d7b"/><stop offset="0.70" stop-color="#443a83"/><stop offset="0.76" stop-color="#3e4c8a"/><stop offset="0.81" stop-color="#365c8d"/><stop offset="0.86" stop-color="#2e6e8e"/><stop offset="0.90" stop-color="#297b8e"/><stop offset="0.94" stop-color="#24868e"/><stop offset="0.97" stop-color="#228c8d"/><stop offset="1.00" stop-color="#218e8d"/></linearGradient><linearGradient id="a51" x1="0" y1="0" x2="0" y2="1"><stop offset="0.00" stop-color="#470e61"/><stop offset="0.12" stop-color="#471063"/><stop offset="0.24" stop-color="#471164"/><stop offset="0.36" stop-color="#481668"/><stop offset="0.46" stop-color="#481b6d"/><stop offset="0.55" stop-color="#482374"/><stop offset="0.63" stop-color="#472d7b"/><stop offset="0.70" stop-color="#443b84"/><stop offset="0.76" stop-color="#3e4c8a"/><stop offset="0.81" stop-color="#365d8d"/><stop offset="0.86" stop-color="#2e6f8e"/><stop offset="0.90" stop-color="#287c8e"/><stop offset="0.94" stop-color="#24878e"/><stop offset="0.97" stop-color="#228d8d"/><stop offset="1.00" stop-color="#218f8d"/></linearGradient><linearGradient id="a52" x1="0" y1="0" x2="0" y2="1"><stop offset="0.00" stop-color="#470e61"/><stop offset="0.12" stop-color="#471063"/><stop offset="0.24" stop-color="#471164"/><stop offset="0.36" stop-color="#481668"/><stop offset="0.46" stop-color="#481b6d"/><stop offset="0.55" stop-color="#482374"/><stop offset="0.63" stop-color="#472d7b"/><stop offset="0.70" stop-color="#443b84"/><stop offset="0.76" stop-color="#3d4d8a"/><stop offset="0.81" stop-color="#365d8d"/><stop offset="0.86" stop-color="#2d708e"/><stop offset="0.90" stop-color="#287d8e"/><stop offset="0.94" stop-color="#23898e"/><stop offset="0.97" stop-color="#218f8d"/><stop offset="1.00" stop-color="#21918c"/></linearGradient><linearGradient id="a53" x1="0" y1="0" x2="0" y2="1"><stop offset="0.00" stop-color="#470e61"/><stop offset="0.12" stop-color="#471063"/><stop offset="0.24" stop-color="#471365"/><stop offset="0.36" stop-color="#481668"/><stop offset="0.46" stop-color="#481b6d"/><stop offset="0.55" stop-color="#482374"/><stop offset="0.63" stop-color="#472d7b"/><stop offset="0.70" stop-color="#443b84"/><stop offset="0.76" stop-color="#3d4d8a"/><stop offset="0.81" stop-color="#355e8d"/><stop offset="0.86" stop-color="#2d718e"/><stop offset="0.90" stop-color="#277f8e"/><stop offset="0.94" stop-color="#238a8d"/><stop offset="0.97" stop-color="#21908d"/><stop offset="1.00" stop-color="#20928c"/></linearGradient><linearGradient id="a54" x1="0" y1="0" x2="0" y2="1"><stop offset="0.00" stop-color="#470e61"/><stop offset="0.12" stop-color="#471063"/><stop offset="0.24" stop-color="#471365"/><stop offset="0.36" stop-color="#481668"/><stop offset="0.46" stop-color="#481b6d"/><stop offset="0.55" stop-color="#482374"/><stop offset="0.63" stop-color="#472e7c"/><stop offset="0.70" stop-color="#433d84"/><stop offset="0.76" stop-color="#3d4e8a"/><stop offset="0.81" stop-color="#355f8d"/><stop offset="0.86" stop-color="#2c718e"/><stop offset="0.90" stop-color="#27808e"/><stop offset="0.94" stop-color="#228b8d"/><stop offset="0.97" stop-color="#21918c"/><stop offset="1.00" stop-color="#20928c"/></linearGradient><linearGradient id="a55" x1="0" y1="0" x2="0" y2="1"><stop offset="0.00" stop-color="#470e61"/><stop offset="0.12" stop-color="#471063"/><stop offset="0.24" stop-color="#471365"/><stop offset="0.36" stop-color="#481668"/><stop offset="0.46" stop-color="#481b6d"/><stop offset="0.55" stop-color="#482374"/><stop offset="0.63" stop-color="#472e7c"/><stop offset="0.70" stop-color="#433d84"/><stop offset="0.76" stop-color="#3d4e8a"/><stop offset="0.81" stop-color="#34608d"/><stop offset="0.86" stop-color="#2c718e"/><stop offset="0.90" stop-color="#26818e"/><stop offset="0.94" stop-color="#228d8d"/><stop offset="0.97" stop-color="#20928c"/><stop offset="1.00" stop-color="#1f948c"/></linearGradient><linearGradient id="a56" x1="0" y1="0" x2="0" y2="1"><stop offset="0.00" stop-color="#470e61"/><stop offset="0.12" stop-color="#471063"/><stop offset="0.24" stop-color="#471365"/><stop offset="0.36" stop-color="#481668"/><stop offset="0.46" stop-color="#481b6d"/><stop offset="0.55" stop-color="#482374"/><stop offset="0.63" stop-color="#472e7c"/><stop offset="0.70" stop-color="#433d84"/><stop offset="0.76" stop-color="#3c4f8a"/><stop offset="0.81" stop-color="#34608d"/><stop offset="0.86" stop-color="#2c728e"/><stop offset="0.90" stop-color="#26828e"/><stop offset="0.94" stop-color="#218e8d"/><stop offset="0.97" stop-color="#20938c"/><stop offset="1.00" stop-color="#1f958b"/></linearGradient><linearGradient id="a57" x1="0" y1="0" x2="0" y2="1"><stop offset="0.00" stop-color="#470e61"/><stop offset="0.12" stop-color="#471063"/><stop offset="0.24" stop-color="#471365"/><stop offset="0.36" stop-color="#481668"/><stop offset="0.46" stop-color="#481b6d"/><stop offset="0.55" stop-color="#482374"/><stop offset="0.63" stop-color="#472e7c"/><stop offset="0.70" stop-color="#433e85"/><stop offset="0.76" stop-color="#3c4f8a"/><stop offset="0.81" stop-color="#34618d"/><stop offset="0.86" stop-color="#2c738e"/><stop offset="0.90" stop-color="#26828e"/><stop offset="0.94" stop-color="#218f8d"/><stop offset="0.97" stop-color="#1f948c"/><stop offset="1.00" stop-color="#1f978b"/></linearGradient><linearGradient id="a58" x1="0" y1="0" x2="0" y2="1"><stop offset="0.00" stop-color="#470e61"/><stop offset="0.12" stop-color="#471063"/><stop offset="0.24" stop-color="#471365"/><stop offset="0.36" stop-color="#481668"/><stop offset="0.46" stop-color="#481b6d"/><stop offset="0.55" stop-color="#482475"/><stop offset="0.63" stop-color="#472f7d"/><stop offset="0.70" stop-color="#433e85"/><stop offset="0.76" stop-color="#3c508b"/><stop offset="0.81" stop-color="#33628d"/><stop offset="0.86" stop-color="#2b748e"/><stop offset="0.90" stop-color="#25838e"/><stop offset="0.94" stop-color="#21918c"/><stop offset="0.97" stop-color="#1f968b"/><stop offset="1.00" stop-color="#1f988b"/></linearGradient><linearGradient id="a59" x1="0" y1="0" x2="0" y2="1"><stop offset="0.00" stop-color="#470e61"/><stop offset="0.12" stop-color="#471063"/><stop offset="0.24" stop-color="#471365"/><stop offset="0.36" stop-color="#481668"/><stop offset="0.46" stop-color="#481b6d"/><stop offset="0.55" stop-color="#482475"/><stop offset="0.63" stop-color="#472f7d"/><stop offset="0.70" stop-color="#423f85"/><stop offset="0.76" stop-color="#3c508b"/><stop offset="0.81" stop-color="#33628d"/><stop offset="0.86" stop-color="#2b758e"/><stop offset="0.90" stop-color="#25848e"/><stop offset="0.94" stop-color="#20928c"/><stop offset="0.97" stop-color="#1f978b"/><stop offset="1.00" stop-color="#1f9a8a"/></linearGradient><linearGradient id="a60" x1="0" y1="0" x2="0" y2="1"><stop offset="0.00" stop-color="#470e61"/><stop offset="0.12" stop-color="#471063"/><stop offset="0.24" stop-color="#471365"/><stop offset="0.36" stop-color="#481769"/><stop offset="0.46" stop-color="#481c6e"/><stop offset="0.55" stop-color="#482475"/><stop offset="0.63" stop-color="#472f7d"/><stop offset="0.70" stop-color="#423f85"/><stop offset="0.76" stop-color="#3b518b"/><stop offset="0.81" stop-color="#33638d"/><stop offset="0.86" stop-color="#2a768e"/><stop offset="0.90" stop-color="#24868e"/><stop offset="0.94" stop-color="#20928c"/><stop offset="0.97" stop-color="#1f998a"/><stop offset="1.00" stop-color="#1e9b8a"/></linearGradient><linearGradient id="a61" x1="0" y1="0" x2="0" y2="1"><stop offset="0.00" stop-color="#470e61"/><stop offset="0.12" stop-color="#471063"/><stop offset="0.24" stop-color="#471365"/><stop offset="0.36" stop-color="#481769"/><stop offset="0.46" stop-color="#481c6e"/><stop offset="0.55" stop-color="#482475"/><stop offset="0.63" stop-color="#472f7d"/><stop offset="0.70" stop-color="#423f85"/><stop offset="0.76" stop-color="#3b518b"/><stop offset="0.81" stop-color="#32648e"/><stop offset="0.86" stop-color="#2a778e"/><stop offset="0.90" stop-color="#24878e"/><stop offset="0.94" stop-color="#1f948c"/><stop offset="0.97" stop-color="#1e9b8a"/><stop offset="1.00" stop-color="#1e9d89"/></linearGradient><linearGradient id="a62" x1="0" y1="0" x2="0" y2="1"><stop offset="0.00" stop-color="#470e61"/><stop offset="0.12" stop-color="#471063"/><stop offset="0.24" stop-color="#471365"/><stop offset="0.36" stop-color="#481769"/><stop offset="0.46" stop-color="#481c6e"/><stop offset="0.55" stop-color="#482475"/><stop offset="0.63" stop-color="#46307e"/><stop offset="0.70" stop-color="#424086"/><stop offset="0.76" stop-color="#3b528b"/><stop offset="0.81" stop-color="#32658e"/><stop offset="0.86" stop-color="#29798e"/><stop offset="0.90" stop-color="#23888e"/><stop offset="0.94" stop-color="#1f958b"/><stop offset="0.97" stop-color="#1e9c89"/><stop offset="1.00" stop-color="#1f9f88"/></linearGradient><linearGradient id="a63" x1="0" y1="0" x2="0" y2="1"><stop offset="0.00" stop-color="#470e61"/><stop offset="0.12" stop-color="#471063"/><stop offset="0.24" stop-color="#471365"/><stop offset="0.36" stop-color="#481769"/><stop offset="0.46" stop-color="#481c6e"/><stop offset="0.55" stop-color="#482475"/><stop offset="0.63" stop-color="#46307e"/><stop offset="0.70" stop-color="#424086"/><stop offset="0.76" stop-color="#3a538b"/><stop offset="0.81" stop-color="#31668e"/><stop offset="0.86" stop-color="#297a8e"/><stop offset="0.90" stop-color="#238a8d"/><stop offset="0.94" stop-color="#1f978b"/><stop offset="0.97" stop-color="#1f9e89"/><stop offset="1.00" stop-color="#1fa088"/></linearGradient><linearGradient id="a64" x1="0" y1="0" x2="0" y2="1"><stop offset="0.00" stop-color="#470e61"/><stop offset="0.12" stop-color="#471063"/><stop offset="0.24" stop-color="#471365"/><stop offset="0.36" stop-color="#481769"/><stop offset="0.46" stop-color="#481c6e"/><stop offset="0.55" stop-color="#482576"/><stop offset="0.63" stop-color="#46307e"/><stop offset="0.70" stop-color="#424186"/><stop offset="0.76" stop-color="#3a538b"/><stop offset="0.81" stop-color="#31678e"/><stop offset="0.86" stop-color="#297b8e"/><stop offset="0.90" stop-color="#228b8d"/><stop offset="0.94" stop-color="#1f998a"/><stop offset="0.97" stop-color="#1fa088"/><stop offset="1.00" stop-color="#1fa187"/></linearGradient><linearGradient id="a65" x1="0" y1="0" x2="0" y2="1"><stop offset="0.00" stop-color="#470e61"/><stop offset="0.12" stop-color="#471063"/><stop offset="0.24" stop-color="#471365"/><stop offset="0.36" stop-color="#481769"/><stop offset="0.46" stop-color="#481c6e"/><stop offset="0.55" stop-color="#482576"/><stop offset="0.63" stop-color="#46327e"/><stop offset="0.70" stop-color="#424186"/><stop offset="0.76" stop-color="#3a548c"/><stop offset="0.81" stop-color="#31688e"/><stop offset="0.86" stop-color="#287c8e"/><stop offset="0.90" stop-color="#228d8d"/><stop offset="0.94" stop-color="#1f9a8a"/><stop offset="0.97" stop-color="#1fa188"/><stop offset="1.00" stop-color="#20a386"/></linearGradient><linearGradient id="a66" x1="0" y1="0" x2="0" y2="1"><stop offset="0.00" stop-color="#470e61"/><stop offset="0.12" stop-color="#471063"/><stop offset="0.24" stop-color="#471365"/><stop offset="0.36" stop-color="#481769"/><stop offset="0.46" stop-color="#481c6e"/><stop offset="0.55" stop-color="#482576"/><stop offset="0.63" stop-color="#46327e"/><stop offset="0.70" stop-color="#414287"/><stop offset="0.76" stop-color="#39558c"/><stop offset="0.81" stop-color="#30698e"/><stop offset="0.86" stop-color="#287d8e"/><stop offset="0.90" stop-color="#218e8d"/><stop offset="0.94" stop-color="#1e9c89"/><stop offset="0.97" stop-color="#1fa287"/><stop offset="1.00" stop-color="#21a585"/></linearGradient><linearGradient id="a67" x1="0" y1="0" x2="0" y2="1"><stop offset="0.00" stop-color="#470e61"/><stop offset="0.12" stop-color="#471063"/><stop offset="0.24" stop-color="#471365"/><stop offset="0.36" stop-color="#481769"/><stop offset="0.46" stop-color="#481c6e"/><stop offset="0.55" stop-color="#482576"/><stop offset="0.63" stop-color="#46327e"/><stop offset="0.70" stop-color="#414287"/><stop offset="0.76" stop-color="#39568c"/><stop offset="0.81" stop-color="#306a8e"/><stop offset="0.86" stop-color="#277f8e"/><stop offset="0.90" stop-color="#21908d"/><stop offset="0.94" stop-color="#1f9e89"/><stop offset="0.97" stop-color="#21a585"/><stop offset="1.00" stop-color="#22a785"/></linearGradient><linearGradient id="a68" x1="0" y1="0" x2="0" y2="1"><stop offset="0.00" stop-color="#470e61"/><stop offset="0.12" stop-color="#471063"/><stop offset="0.24" stop-color="#471365"/><stop offset="0.36" stop-color="#481769"/><stop offset="0.46" stop-color="#481d6f"/><stop offset="0.55" stop-color="#482576"/><stop offset="0.63" stop-color="#46337f"/><stop offset="0.70" stop-color="#414487"/><stop offset="0.76" stop-color="#38588c"/><stop offset="0.81" stop-color="#2f6b8e"/><stop offset="0.86" stop-color="#26818e"/><stop offset="0.90" stop-color="#20928c"/><stop offset="0.94" stop-color="#1fa088"/><stop offset="0.97" stop-color="#22a785"/><stop offset="1.00" stop-color="#24aa83"/></linearGradient><linearGradient id="a69" x1="0" y1="0" x2="0" y2="1"><stop offset="0.00" stop-color="#470e61"/><stop offset="0.12" stop-color="#471063"/><stop offset="0.24" stop-color="#471365"/><stop offset="0.36" stop-color="#481769"/><stop offset="0.46" stop-color="#481d6f"/><stop offset="0.55" stop-color="#482677"/><stop offset="0.63" stop-color="#46337f"/><stop offset="0.70" stop-color="#414487"/><stop offset="0.76" stop-color="#38588c"/><stop offset="0.81" stop-color="#2f6c8e"/><stop offset="0.86" stop-color="#26828e"/><stop offset="0.90" stop-color="#20938c"/><stop offset="0.94" stop-color="#1fa287"/><stop offset="0.97" stop-color="#24aa83"/><stop offset="1.00" stop-color="#25ac82"/></linearGradient><linearGradient id="a70" x1="0" y1="0" x2="0" y2="1"><stop offset="0.00" stop-color="#470e61"/><stop offset="0.12" stop-color="#471164"/><stop offset="0.24" stop-color="#471365"/><stop offset="0.36" stop-color="#481769"/><stop offset="0.46" stop-color="#481d6f"/><stop offset="0.55" stop-color="#482677"/><stop offset="0.63" stop-color="#463480"/><stop offset="0.70" stop-color="#404588"/><stop offset="0.76" stop-color="#375a8c"/><stop offset="0.81" stop-color="#2e6e8e"/><stop offset="0.86" stop-color="#25838e"/><stop offset="0.90" stop-color="#1f958b"/><stop offset="0.94" stop-color="#20a486"/><stop offset="0.97" stop-color="#25ac82"/><stop offset="1.00" stop-color="#28ae80"/></linearGradient><linearGradient id="a71" x1="0" y1="0" x2="0" y2="1"><stop offset="0.00" stop-color="#471063"/><stop offset="0.12" stop-color="#471164"/><stop offset="0.24" stop-color="#471365"/><stop offset="0.36" stop-color="#48186a"/><stop offset="0.46" stop-color="#481d6f"/><stop offset="0.55" stop-color="#482677"/><stop offset="0.63" stop-color="#463480"/><stop offset="0.70" stop-color="#404688"/><stop offset="0.76" stop-color="#375b8d"/><stop offset="0.81" stop-color="#2e6f8e"/><stop offset="0.86" stop-color="#25858e"/><stop offset="0.90" stop-color="#1f988b"/><stop offset="0.94" stop-color="#22a785"/><stop offset="0.97" stop-color="#28ae80"/><stop offset="1.00" stop-color="#2cb17e"/></linearGradient><linearGradient id="a72" x1="0" y1="0" x2="0" y2="1"><stop offset="0.00" stop-color="#471063"/><stop offset="0.12" stop-color="#471164"/><stop offset="0.24" stop-color="#471365"/><stop offset="0.36" stop-color="#48186a"/><stop offset="0.46" stop-color="#481d6f"/><stop offset="0.55" stop-color="#482878"/><stop offset="0.63" stop-color="#453581"/><stop offset="0.70" stop-color="#3f4788"/><stop offset="0.76" stop-color="#365c8d"/><stop offset="0.81" stop-color="#2d718e"/><stop offset="0.86" stop-color="#24878e"/><stop offset="0.90" stop-color="#1f9a8a"/><stop offset="0.94" stop-color="#24aa83"/><stop offset="0.97" stop-color="#2cb17e"/><stop offset="1.00" stop-color="#2fb47c"/></linearGradient><linearGradient id="a73" x1="0" y1="0" x2="0" y2="1"><stop offset="0.00" stop-color="#471063"/><stop offset="0.12" stop-color="#471164"/><stop offset="0.24" stop-color="#481467"/><stop offset="0.36" stop-color="#48186a"/><stop offset="0.46" stop-color="#481f70"/><stop offset="0.55" stop-color="#482878"/><stop offset="0.63" stop-color="#453581"/><stop offset="0.70" stop-color="#3f4788"/><stop offset="0.76" stop-color="#365d8d"/><stop offset="0.81" stop-color="#2c718e"/><stop offset="0.86" stop-color="#23898e"/><stop offset="0.90" stop-color="#1e9c89"/><stop offset="0.94" stop-color="#26ad81"/><stop offset="0.97" stop-color="#2fb47c"/><stop offset="1.00" stop-color="#34b679"/></linearGradient><linearGradient id="a74" x1="0" y1="0" x2="0" y2="1"><stop offset="0.00" stop-color="#471063"/><stop offset="0.12" stop-color="#471164"/><stop offset="0.24" stop-color="#481467"/><stop offset="0.36" stop-color="#48186a"/><stop offset="0.46" stop-color="#481f70"/><stop offset="0.55" stop-color="#482878"/><stop offset="0.63" stop-color="#453781"/><stop offset="0.70" stop-color="#3f4889"/><stop offset="0.76" stop-color="#355e8d"/><stop offset="0.81" stop-color="#2c738e"/><stop offset="0.86" stop-color="#228b8d"/><stop offset="0.90" stop-color="#1f9f88"/><stop offset="0.94" stop-color="#28ae80"/><stop offset="0.97" stop-color="#34b679"/><stop offset="1.00" stop-color="#38b977"/></linearGradient><linearGradient id="a75" x1="0" y1="0" x2="0" y2="1"><stop offset="0.00" stop-color="#471063"/><stop offset="0.12" stop-color="#471164"/><stop offset="0.24" stop-color="#481467"/><stop offset="0.36" stop-color="#48186a"/><stop offset="0.46" stop-color="#481f70"/><stop offset="0.55" stop-color="#482979"/><stop offset="0.63" stop-color="#453781"/><stop offset="0.70" stop-color="#3e4989"/><stop offset="0.76" stop-color="#355f8d"/><stop offset="0.81" stop-color="#2b748e"/><stop offset="0.86" stop-color="#228d8d"/><stop offset="0.90" stop-color="#1fa188"/><stop offset="0.94" stop-color="#2cb17e"/><stop offset="0.97" stop-color="#37b878"/><stop offset="1.00" stop-color="#3dbc74"/></linearGradient><linearGradient id="a76" x1="0" y1="0" x2="0" y2="1"><stop offset="0.00" stop-color="#471063"/><stop offset="0.12" stop-color="#471164"/><stop offset="0.24" stop-color="#481467"/><stop offset="0.36" stop-color="#48186a"/><stop offset="0.46" stop-color="#481f70"/><stop offset="0.55" stop-color="#482979"/><stop offset="0.63" stop-color="#453781"/><stop offset="0.70" stop-color="#3e4a89"/><stop offset="0.76" stop-color="#34608d"/><stop offset="0.81" stop-color="#2b758e"/><stop offset="0.86" stop-color="#218f8d"/><stop offset="0.90" stop-color="#1fa287"/><stop offset="0.94" stop-color="#2eb37c"/><stop offset="0.97" stop-color="#3bbb75"/><stop offset="1.00" stop-color="#40bd72"/></linearGradient><linearGradient id="a77" x1="0" y1="0" x2="0" y2="1"><stop offset="0.00" stop-color="#471063"/><stop offset="0.12" stop-color="#471164"/><stop offset="0.24" stop-color="#481467"/><stop offset="0.36" stop-color="#48186a"/><stop offset="0.46" stop-color="#481f70"/><stop offset="0.55" stop-color="#482979"/><stop offset="0.63" stop-color="#453882"/><stop offset="0.70" stop-color="#3e4a89"/><stop offset="0.76" stop-color="#34618d"/><stop offset="0.81" stop-color="#2a768e"/><stop offset="0.86" stop-color="#21908d"/><stop offset="0.90" stop-color="#20a486"/><stop offset="0.94" stop-color="#32b67a"/><stop offset="0.97" stop-color="#40bd72"/><stop offset="1.00" stop-color="#46c06f"/></linearGradient><linearGradient id="a78" x1="0" y1="0" x2="0" y2="1"><stop offset="0.00" stop-color="#471063"/><stop offset="0.12" stop-color="#471164"/><stop offset="0.24" stop-color="#481467"/><stop offset="0.36" stop-color="#48186a"/><stop offset="0.46" stop-color="#481f70"/><stop offset="0.55" stop-color="#482979"/><stop offset="0.63" stop-color="#453882"/><stop offset="0.70" stop-color="#3e4c8a"/><stop offset="0.76" stop-color="#33628d"/><stop offset="0.81" stop-color="#2a788e"/><stop offset="0.86" stop-color="#20928c"/><stop offset="0.90" stop-color="#21a685"/><stop offset="0.94" stop-color="#35b779"/><stop offset="0.97" stop-color="#44bf70"/><stop offset="1.00" stop-color="#4ac16d"/></linearGradient><linearGradient id="a79" x1="0" y1="0" x2="0" y2="1"><stop offset="0.00" stop-color="#471063"/><stop offset="0.12" stop-color="#471164"/><stop offset="0.24" stop-color="#481467"/><stop offset="0.36" stop-color="#48186a"/><stop offset="0.46" stop-color="#482071"/><stop offset="0.55" stop-color="#472a7a"/><stop offset="0.63" stop-color="#443983"/><stop offset="0.70" stop-color="#3e4c8a"/><stop offset="0.76" stop-color="#33638d"/><stop offset="0.81" stop-color="#29798e"/><stop offset="0.86" stop-color="#20928c"/><stop offset="0.90" stop-color="#22a884"/><stop offset="0.94" stop-color="#38b977"/><stop offset="0.97" stop-color="#48c16e"/><stop offset="1.00" stop-color="#50c46a"/></linearGradient><linearGradient id="a80" x1="0" y1="0" x2="0" y2="1"><stop offset="0.00" stop-color="#471063"/><stop offset="0.12" stop-color="#471164"/><stop offset="0.24" stop-color="#481467"/><stop offset="0.36" stop-color="#481a6c"/><stop offset="0.46" stop-color="#482071"/><stop offset="0.55" stop-color="#472a7a"/><stop offset="0.63" stop-color="#443983"/><stop offset="0.70" stop-color="#3d4d8a"/><stop offset="0.76" stop-color="#33638d"/><stop offset="0.81" stop-color="#297a8e"/><stop offset="0.86" stop-color="#1f948c"/><stop offset="0.90" stop-color="#24aa83"/><stop offset="0.94" stop-color="#3bbb75"/><stop offset="0.97" stop-color="#4ec36b"/><stop offset="1.00" stop-color="#54c568"/></linearGradient><linearGradient id="a81" x1="0" y1="0" x2="0" y2="1"><stop offset="0.00" stop-color="#471063"/><stop offset="0.12" stop-color="#471164"/><stop offset="0.24" stop-color="#481467"/><stop offset="0.36" stop-color="#481a6c"/><stop offset="0.46" stop-color="#482071"/><stop offset="0.55" stop-color="#472a7a"/><stop offset="0.63" stop-color="#443983"/><stop offset="0.70" stop-color="#3d4e8a"/><stop offset="0.76" stop-color="#32648e"/><stop offset="0.81" stop-color="#297b8e"/><stop offset="0.86" stop-color="#1f968b"/><stop offset="0.90" stop-color="#25ac82"/><stop offset="0.94" stop-color="#3fbc73"/><stop offset="0.97" stop-color="#52c569"/><stop offset="1.00" stop-color="#58c765"/></linearGradient><linearGradient id="a82" x1="0" y1="0" x2="0" y2="1"><stop offset="0.00" stop-color="#471063"/><stop offset="0.12" stop-color="#471164"/><stop offset="0.24" stop-color="#481467"/><stop offset="0.36" stop-color="#481a6c"/><stop offset="0.46" stop-color="#482071"/><stop offset="0.55" stop-color="#472a7a"/><stop offset="0.63" stop-color="#443a83"/><stop offset="0.70" stop-color="#3d4e8a"/><stop offset="0.76" stop-color="#32658e"/><stop offset="0.81" stop-color="#287c8e"/><stop offset="0.86" stop-color="#1f978b"/><stop offset="0.90" stop-color="#27ad81"/><stop offset="0.94" stop-color="#42be71"/><stop offset="0.97" stop-color="#56c667"/><stop offset="1.00" stop-color="#5ec962"/></linearGradient><linearGradient id="a83" x1="0" y1="0" x2="0" y2="1"><stop offset="0.00" stop-color="#471063"/><stop offset="0.12" stop-color="#471164"/><stop offset="0.24" stop-color="#481467"/><stop offset="0.36" stop-color="#481a6c"/><stop offset="0.46" stop-color="#482071"/><stop offset="0.55" stop-color="#472c7a"/><stop offset="0.63" stop-color="#443a83"/><stop offset="0.70" stop-color="#3c4f8a"/><stop offset="0.76" stop-color="#31668e"/><stop offset="0.81" stop-color="#287d8e"/><stop offset="0.86" stop-color="#1f988b"/><stop offset="0.90" stop-color="#28ae80"/><stop offset="0.94" stop-color="#48c16e"/><stop offset="0.97" stop-color="#5ac864"/><stop offset="1.00" stop-color="#63cb5f"/></linearGradient><linearGradient id="a84" x1="0" y1="0" x2="0" y2="1"><stop offset="0.00" stop-color="#471063"/><stop offset="0.12" stop-color="#471164"/><stop offset="0.24" stop-color="#481467"/><stop offset="0.36" stop-color="#481a6c"/><stop offset="0.46" stop-color="#482071"/><stop offset="0.55" stop-color="#472c7a"/><stop offset="0.63" stop-color="#443a83"/><stop offset="0.70" stop-color="#3c4f8a"/><stop offset="0.76" stop-color="#31678e"/><stop offset="0.81" stop-color="#277e8e"/><stop offset="0.86" stop-color="#1f9a8a"/><stop offset="0.90" stop-color="#2ab07f"/><stop offset="0.94" stop-color="#4cc26c"/><stop offset="0.97" stop-color="#60ca60"/><stop offset="1.00" stop-color="#67cc5c"/></linearGradient><linearGradient id="a85" x1="0" y1="0" x2="0" y2="1"><stop offset="0.00" stop-color="#471063"/><stop offset="0.12" stop-color="#471164"/><stop offset="0.24" stop-color="#481467"/><stop offset="0.36" stop-color="#481a6c"/><stop offset="0.46" stop-color="#482071"/><stop offset="0.55" stop-color="#472c7a"/><stop offset="0.63" stop-color="#443b84"/><stop offset="0.70" stop-color="#3c508b"/><stop offset="0.76" stop-color="#31678e"/><stop offset="0.81" stop-color="#277f8e"/><stop offset="0.86" stop-color="#1e9b8a"/><stop offset="0.90" stop-color="#2db27d"/><stop offset="0.94" stop-color="#4ec36b"/><stop offset="0.97" stop-color="#65cb5e"/><stop offset="1.00" stop-color="#6ccd5a"/></linearGradient><linearGradient id="a86" x1="0" y1="0" x2="0" y2="1"><stop offset="0.00" stop-color="#471063"/><stop offset="0.12" stop-color="#471164"/><stop offset="0.24" stop-color="#481467"/><stop offset="0.36" stop-color="#481a6c"/><stop offset="0.46" stop-color="#482173"/><stop offset="0.55" stop-color="#472c7a"/><stop offset="0.63" stop-color="#443b84"/><stop offset="0.70" stop-color="#3c508b"/><stop offset="0.76" stop-color="#31688e"/><stop offset="0.81" stop-color="#27808e"/><stop offset="0.86" stop-color="#1e9c89"/><stop offset="0.90" stop-color="#2eb37c"/><stop offset="0.94" stop-color="#52c569"/><stop offset="0.97" stop-color="#69cd5b"/><stop offset="1.00" stop-color="#70cf57"/></linearGradient><linearGradient id="a87" x1="0" y1="0" x2="0" y2="1"><stop offset="0.00" stop-color="#471063"/><stop offset="0.12" stop-color="#471164"/><stop offset="0.24" stop-color="#481467"/><stop offset="0.36" stop-color="#481a6c"/><stop offset="0.46" stop-color="#482173"/><stop offset="0.55" stop-color="#472c7a"/><stop offset="0.63" stop-color="#443b84"/><stop offset="0.70" stop-color="#3c508b"/><stop offset="0.76" stop-color="#30698e"/><stop offset="0.81" stop-color="#26818e"/><stop offset="0.86" stop-color="#1f9e89"/><stop offset="0.90" stop-color="#31b57b"/><stop offset="0.94" stop-color="#56c667"/><stop offset="0.97" stop-color="#6ccd5a"/><stop offset="1.00" stop-color="#75d054"/></linearGradient><linearGradient id="a88" x1="0" y1="0" x2="0" y2="1"><stop offset="0.00" stop-color="#471063"/><stop offset="0.12" stop-color="#471164"/><stop offset="0.24" stop-color="#481467"/><stop offset="0.36" stop-color="#481a6c"/><stop offset="0.46" stop-color="#482173"/><stop offset="0.55" stop-color="#472c7a"/><stop offset="0.63" stop-color="#443b84"/><stop offset="0.70" stop-color="#3b518b"/><stop offset="0.76" stop-color="#30698e"/><stop offset="0.81" stop-color="#26828e"/><stop offset="0.86" stop-color="#1f9f88"/><stop offset="0.90" stop-color="#32b67a"/><stop offset="0.94" stop-color="#5ac864"/><stop offset="0.97" stop-color="#70cf57"/><stop offset="1.00" stop-color="#7ad151"/></linearGradient><linearGradient id="a89" x1="0" y1="0" x2="0" y2="1"><stop offset="0.00" stop-color="#471063"/><stop offset="0.12" stop-color="#471164"/><stop offset="0.24" stop-color="#481467"/><stop offset="0.36" stop-color="#481a6c"/><stop offset="0.46" stop-color="#482173"/><stop offset="0.55" stop-color="#472d7b"/><stop offset="0.63" stop-color="#433d84"/><stop offset="0.70" stop-color="#3b518b"/><stop offset="0.76" stop-color="#306a8e"/><stop offset="0.81" stop-color="#26828e"/><stop offset="0.86" stop-color="#1fa088"/><stop offset="0.90" stop-color="#35b779"/><stop offset="0.94" stop-color="#5cc863"/><stop offset="0.97" stop-color="#75d054"/><stop offset="1.00" stop-color="#7fd34e"/></linearGradient><linearGradient id="a90" x1="0" y1="0" x2="0" y2="1"><stop offset="0.00" stop-color="#471063"/><stop offset="0.12" stop-color="#471164"/><stop offset="0.24" stop-color="#481467"/><stop offset="0.36" stop-color="#481a6c"/><stop offset="0.46" stop-color="#482173"/><stop offset="0.55" stop-color="#472d7b"/><stop offset="0.63" stop-color="#433d84"/><stop offset="0.70" stop-color="#3b528b"/><stop offset="0.76" stop-color="#306a8e"/><stop offset="0.81" stop-color="#25838e"/><stop offset="0.86" stop-color="#1fa188"/><stop offset="0.90" stop-color="#37b878"/><stop offset="0.94" stop-color="#60ca60"/><stop offset="0.97" stop-color="#7ad151"/><stop offset="1.00" stop-color="#81d34d"/></linearGradient><linearGradient id="a91" x1="0" y1="0" x2="0" y2="1"><stop offset="0.00" stop-color="#471063"/><stop offset="0.12" stop-color="#471164"/><stop offset="0.24" stop-color="#481467"/><stop offset="0.36" stop-color="#481a6c"/><stop offset="0.46" stop-color="#482173"/><stop offset="0.55" stop-color="#472d7b"/><stop offset="0.63" stop-color="#433d84"/><stop offset="0.70" stop-color="#3b528b"/><stop offset="0.76" stop-color="#2f6b8e"/><stop offset="0.81" stop-color="#25838e"/><stop offset="0.86" stop-color="#1fa187"/><stop offset="0.90" stop-color="#38b977"/><stop offset="0.94" stop-color="#63cb5f"/><stop offset="0.97" stop-color="#7cd250"/><stop offset="1.00" stop-color="#86d549"/></linearGradient><linearGradient id="a92" x1="0" y1="0" x2="0" y2="1"><stop offset="0.00" stop-color="#471063"/><stop offset="0.12" stop-color="#471164"/><stop offset="0.24" stop-color="#481467"/><stop offset="0.36" stop-color="#481a6c"/><stop offset="0.46" stop-color="#482173"/><stop offset="0.55" stop-color="#472d7b"/><stop offset="0.63" stop-color="#433d84"/><stop offset="0.70" stop-color="#3b528b"/><stop offset="0.76" stop-color="#2f6b8e"/><stop offset="0.81" stop-color="#25848e"/><stop offset="0.86" stop-color="#1fa287"/><stop offset="0.90" stop-color="#3aba76"/><stop offset="0.94" stop-color="#67cc5c"/><stop offset="0.97" stop-color="#81d34d"/><stop offset="1.00" stop-color="#8bd646"/></linearGradient><linearGradient id="a93" x1="0" y1="0" x2="0" y2="1"><stop offset="0.00" stop-color="#471063"/><stop offset="0.12" stop-color="#471164"/><stop offset="0.24" stop-color="#481467"/><stop offset="0.36" stop-color="#481a6c"/><stop offset="0.46" stop-color="#482173"/><stop offset="0.55" stop-color="#472d7b"/><stop offset="0.63" stop-color="#433d84"/><stop offset="0.70" stop-color="#3b528b"/><stop offset="0.76" stop-color="#2f6c8e"/><stop offset="0.81" stop-color="#25858e"/><stop offset="0.86" stop-color="#20a386"/><stop offset="0.90" stop-color="#3bbb75"/><stop offset="0.94" stop-color="#69cd5b"/><stop offset="0.97" stop-color="#84d44b"/><stop offset="1.00" stop-color="#8ed645"/></linearGradient><linearGradient id="a94" x1="0" y1="0" x2="0" y2="1"><stop offset="0.00" stop-color="#471063"/><stop offset="0.12" stop-color="#471164"/><stop offset="0.24" stop-color="#481467"/><stop offset="0.36" stop-color="#481a6c"/><stop offset="0.46" stop-color="#482173"/><stop offset="0.55" stop-color="#472d7b"/><stop offset="0.63" stop-color="#433e85"/><stop offset="0.70" stop-color="#3a538b"/><stop offset="0.76" stop-color="#2f6c8e"/><stop offset="0.81" stop-color="#25858e"/><stop offset="0.86" stop-color="#20a386"/><stop offset="0.90" stop-color="#3dbc74"/><stop offset="0.94" stop-color="#6ccd5a"/><stop offset="0.97" stop-color="#86d549"/><stop offset="1.00" stop-color="#90d743"/></linearGradient><linearGradient id="a95" x1="0" y1="0" x2="0" y2="1"><stop offset="0.00" stop-color="#471063"/><stop offset="0.12" stop-color="#471164"/><stop offset="0.24" stop-color="#481467"/><stop offset="0.36" stop-color="#481a6c"/><stop offset="0.46" stop-color="#482173"/><stop offset="0.55" stop-color="#472d7b"/><stop offset="0.63" stop-color="#433e85"/><stop offset="0.70" stop-color="#3a538b"/><stop offset="0.76" stop-color="#2f6c8e"/><stop offset="0.81" stop-color="#25858e"/><stop offset="0.86" stop-color="#20a486"/><stop offset="0.90" stop-color="#3fbc73"/><stop offset="0.94" stop-color="#6ece58"/><stop offset="0.97" stop-color="#89d548"/><stop offset="1.00" stop-color="#93d741"/></linearGradient><linearGradient id="a96" x1="0" y1="0" x2="0" y2="1"><stop offset="0.00" stop-color="#471063"/><stop offset="0.12" stop-color="#471164"/><stop offset="0.24" stop-color="#481467"/><stop offset="0.36" stop-color="#481a6c"/><stop offset="0.46" stop-color="#482173"/><stop offset="0.55" stop-color="#472d7b"/><stop offset="0.63" stop-color="#433e85"/><stop offset="0.70" stop-color="#3a538b"/><stop offset="0.76" stop-color="#2f6c8e"/><stop offset="0.81" stop-color="#24868e"/><stop offset="0.86" stop-color="#21a585"/><stop offset="0.90" stop-color="#40bd72"/><stop offset="0.94" stop-color="#70cf57"/><stop offset="0.97" stop-color="#8bd646"/><stop offset="1.00" stop-color="#95d840"/></linearGradient><linearGradient id="a97" x1="0" y1="0" x2="0" y2="1"><stop offset="0.00" stop-color="#471063"/><stop offset="0.12" stop-color="#471164"/><stop offset="0.24" stop-color="#481668"/><stop offset="0.36" stop-color="#481a6c"/><stop offset="0.46" stop-color="#482173"/><stop offset="0.55" stop-color="#472d7b"/><stop offset="0.63" stop-color="#433e85"/><stop offset="0.70" stop-color="#3a538b"/><stop offset="0.76" stop-color="#2e6d8e"/><stop offset="0.81" stop-color="#24868e"/><stop offset="0.86" stop-color="#21a585"/><stop offset="0.90" stop-color="#40bd72"/><stop offset="0.94" stop-color="#73d056"/><stop offset="0.97" stop-color="#8ed645"/><stop offset="1.00" stop-color="#98d83e"/></linearGradient><linearGradient id="a98" x1="0" y1="0" x2="0" y2="1"><stop offset="0.00" stop-color="#471063"/><stop offset="0.12" stop-color="#471164"/><stop offset="0.24" stop-color="#481467"/><stop offset="0.36" stop-color="#481a6c"/><stop offset="0.46" stop-color="#482173"/><stop offset="0.55" stop-color="#472d7b"/><stop offset="0.63" stop-color="#433e85"/><stop offset="0.70" stop-color="#3a538b"/><stop offset="0.76" stop-color="#2e6d8e"/><stop offset="0.81" stop-color="#24868e"/><stop offset="0.86" stop-color="#21a585"/><stop offset="0.90" stop-color="#42be71"/><stop offset="0.94" stop-color="#73d056"/><stop offset="0.97" stop-color="#90d743"/><stop offset="1.00" stop-color="#9bd93c"/></linearGradient><linearGradient id="a99" x1="0" y1="0" x2="0" y2="1"><stop offset="0.00" stop-color="#471063"/><stop offset="0.12" stop-color="#471164"/><stop offset="0.24" stop-color="#481467"/><stop offset="0.36" stop-color="#481a6c"/><stop offset="0.46" stop-color="#482173"/><stop offset="0.55" stop-color="#472d7b"/><stop offset="0.63" stop-color="#433e85"/><stop offset="0.70" stop-color="#3a538b"/><stop offset="0.76" stop-color="#2e6d8e"/><stop offset="0.81" stop-color="#24868e"/><stop offset="0.86" stop-color="#21a585"/><stop offset="0.90" stop-color="#42be71"/><stop offset="0.94" stop-color="#73d056"/><stop offset="0.97" stop-color="#90d743"/><stop offset="1.00" stop-color="#9bd93c"/></linearGradient><linearGradient id="a100" x1="0" y1="0" x2="0" y2="1"><stop offset="0.00" stop-color="#471063"/><stop offset="0.12" stop-color="#471164"/><stop offset="0.24" stop-color="#481467"/><stop offset="0.36" stop-color="#481a6c"/><stop offset="0.46" stop-color="#482173"/><stop offset="0.55" stop-color="#472d7b"/><stop offset="0.63" stop-color="#433e85"/><stop offset="0.70" stop-color="#3a538b"/><stop offset="0.76" stop-color="#2e6d8e"/><stop offset="0.81" stop-color="#24868e"/><stop offset="0.86" stop-color="#21a585"/><stop offset="0.90" stop-color="#42be71"/><stop offset="0.94" stop-color="#73d056"/><stop offset="0.97" stop-color="#90d743"/><stop offset="1.00" stop-color="#9bd93c"/></linearGradient><linearGradient id="a101" x1="0" y1="0" x2="0" y2="1"><stop offset="0.00" stop-color="#471063"/><stop offset="0.12" stop-color="#471164"/><stop offset="0.24" stop-color="#481467"/><stop offset="0.36" stop-color="#481a6c"/><stop offset="0.46" stop-color="#482173"/><stop offset="0.55" stop-color="#472d7b"/><stop offset="0.63" stop-color="#433d84"/><stop offset="0.70" stop-color="#3b528b"/><stop offset="0.76" stop-color="#2f6c8e"/><stop offset="0.81" stop-color="#24868e"/><stop offset="0.86" stop-color="#21a585"/><stop offset="0.90" stop-color="#40bd72"/><stop offset="0.94" stop-color="#73d056"/><stop offset="0.97" stop-color="#8ed645"/><stop offset="1.00" stop-color="#9bd93c"/></linearGradient><linearGradient id="a102" x1="0" y1="0" x2="0" y2="1"><stop offset="0.00" stop-color="#471063"/><stop offset="0.12" stop-color="#471164"/><stop offset="0.24" stop-color="#481467"/><stop offset="0.36" stop-color="#481a6c"/><stop offset="0.46" stop-color="#482173"/><stop offset="0.55" stop-color="#472d7b"/><stop offset="0.63" stop-color="#433d84"/><stop offset="0.70" stop-color="#3b528b"/><stop offset="0.76" stop-color="#2f6b8e"/><stop offset="0.81" stop-color="#25858e"/><stop offset="0.86" stop-color="#20a486"/><stop offset="0.90" stop-color="#40bd72"/><stop offset="0.94" stop-color="#70cf57"/><stop offset="0.97" stop-color="#8ed645"/><stop offset="1.00" stop-color="#98d83e"/></linearGradient><linearGradient id="a103" x1="0" y1="0" x2="0" y2="1"><stop offset="0.00" stop-color="#471063"/><stop offset="0.12" stop-color="#471164"/><stop offset="0.24" stop-color="#481467"/><stop offset="0.36" stop-color="#481a6c"/><stop offset="0.46" stop-color="#482173"/><stop offset="0.55" stop-color="#472c7a"/><stop offset="0.63" stop-color="#433d84"/><stop offset="0.70" stop-color="#3b518b"/><stop offset="0.76" stop-color="#2f6b8e"/><stop offset="0.81" stop-color="#25848e"/><stop offset="0.86" stop-color="#20a386"/><stop offset="0.90" stop-color="#3fbc73"/><stop offset="0.94" stop-color="#6ece58"/><stop offset="0.97" stop-color="#8bd646"/><stop offset="1.00" stop-color="#95d840"/></linearGradient><linearGradient id="a104" x1="0" y1="0" x2="0" y2="1"><stop offset="0.00" stop-color="#471063"/><stop offset="0.12" stop-color="#471164"/><stop offset="0.24" stop-color="#481467"/><stop offset="0.36" stop-color="#481a6c"/><stop offset="0.46" stop-color="#482071"/><stop offset="0.55" stop-color="#472c7a"/><stop offset="0.63" stop-color="#443b84"/><stop offset="0.70" stop-color="#3b518b"/><stop offset="0.76" stop-color="#306a8e"/><stop offset="0.81" stop-color="#25838e"/><stop offset="0.86" stop-color="#1fa287"/><stop offset="0.90" stop-color="#3dbc74"/><stop offset="0.94" stop-color="#6ccd5a"/><stop offset="0.97" stop-color="#89d548"/><stop offset="1.00" stop-color="#93d741"/></linearGradient><linearGradient id="a105" x1="0" y1="0" x2="0" y2="1"><stop offset="0.00" stop-color="#471063"/><stop offset="0.12" stop-color="#471164"/><stop offset="0.24" stop-color="#481467"/><stop offset="0.36" stop-color="#481a6c"/><stop offset="0.46" stop-color="#482071"/><stop offset="0.55" stop-color="#472c7a"/><stop offset="0.63" stop-color="#443b84"/><stop offset="0.70" stop-color="#3c508b"/><stop offset="0.76" stop-color="#30698e"/><stop offset="0.81" stop-color="#26828e"/><stop offset="0.86" stop-color="#1fa187"/><stop offset="0.90" stop-color="#3aba76"/><stop offset="0.94" stop-color="#69cd5b"/><stop offset="0.97" stop-color="#84d44b"/><stop offset="1.00" stop-color="#90d743"/></linearGradient><linearGradient id="a106" x1="0" y1="0" x2="0" y2="1"><stop offset="0.00" stop-color="#471063"/><stop offset="0.12" stop-color="#471164"/><stop offset="0.24" stop-color="#481467"/><stop offset="0.36" stop-color="#481a6c"/><stop offset="0.46" stop-color="#482071"/><stop offset="0.55" stop-color="#472a7a"/><stop offset="0.63" stop-color="#443a83"/><stop offset="0.70" stop-color="#3c508b"/><stop offset="0.76" stop-color="#31688e"/><stop offset="0.81" stop-color="#26828e"/><stop offset="0.86" stop-color="#1fa188"/><stop offset="0.90" stop-color="#38b977"/><stop offset="0.94" stop-color="#65cb5e"/><stop offset="0.97" stop-color="#81d34d"/><stop offset="1.00" stop-color="#8bd646"/></linearGradient><linearGradient id="a107" x1="0" y1="0" x2="0" y2="1"><stop offset="0.00" stop-color="#471063"/><stop offset="0.12" stop-color="#471164"/><stop offset="0.24" stop-color="#481467"/><stop offset="0.36" stop-color="#48186a"/><stop offset="0.46" stop-color="#482071"/><stop offset="0.55" stop-color="#472a7a"/><stop offset="0.63" stop-color="#443a83"/><stop offset="0.70" stop-color="#3c4f8a"/><stop offset="0.76" stop-color="#31678e"/><stop offset="0.81" stop-color="#26818e"/><stop offset="0.86" stop-color="#1f9f88"/><stop offset="0.90" stop-color="#35b779"/><stop offset="0.94" stop-color="#60ca60"/><stop offset="0.97" stop-color="#7ad151"/><stop offset="1.00" stop-color="#86d549"/></linearGradient><linearGradient id="a108" x1="0" y1="0" x2="0" y2="1"><stop offset="0.00" stop-color="#471063"/><stop offset="0.12" stop-color="#471164"/><stop offset="0.24" stop-color="#481467"/><stop offset="0.36" stop-color="#48186a"/><stop offset="0.46" stop-color="#481f70"/><stop offset="0.55" stop-color="#472a7a"/><stop offset="0.63" stop-color="#443983"/><stop offset="0.70" stop-color="#3d4e8a"/><stop offset="0.76" stop-color="#31668e"/><stop offset="0.81" stop-color="#277f8e"/><stop offset="0.86" stop-color="#1e9d89"/><stop offset="0.90" stop-color="#31b57b"/><stop offset="0.94" stop-color="#5cc863"/><stop offset="0.97" stop-color="#75d054"/><stop offset="1.00" stop-color="#7fd34e"/></linearGradient><linearGradient id="a109" x1="0" y1="0" x2="0" y2="1"><stop offset="0.00" stop-color="#471063"/><stop offset="0.12" stop-color="#471164"/><stop offset="0.24" stop-color="#481467"/><stop offset="0.36" stop-color="#48186a"/><stop offset="0.46" stop-color="#481f70"/><stop offset="0.55" stop-color="#482979"/><stop offset="0.63" stop-color="#453882"/><stop offset="0.70" stop-color="#3d4d8a"/><stop offset="0.76" stop-color="#32648e"/><stop offset="0.81" stop-color="#287d8e"/><stop offset="0.86" stop-color="#1e9b8a"/><stop offset="0.90" stop-color="#2eb37c"/><stop offset="0.94" stop-color="#56c667"/><stop offset="0.97" stop-color="#6ece58"/><stop offset="1.00" stop-color="#77d153"/></linearGradient><linearGradient id="a110" x1="0" y1="0" x2="0" y2="1"><stop offset="0.00" stop-color="#471063"/><stop offset="0.12" stop-color="#471164"/><stop offset="0.24" stop-color="#481467"/><stop offset="0.36" stop-color="#48186a"/><stop offset="0.46" stop-color="#481f70"/><stop offset="0.55" stop-color="#482979"/><stop offset="0.63" stop-color="#453882"/><stop offset="0.70" stop-color="#3e4c8a"/><stop offset="0.76" stop-color="#33638d"/><stop offset="0.81" stop-color="#297b8e"/><stop offset="0.86" stop-color="#1f988b"/><stop offset="0.90" stop-color="#2cb17e"/><stop offset="0.94" stop-color="#50c46a"/><stop offset="0.97" stop-color="#67cc5c"/><stop offset="1.00" stop-color="#70cf57"/></linearGradient><linearGradient id="a111" x1="0" y1="0" x2="0" y2="1"><stop offset="0.00" stop-color="#471063"/><stop offset="0.12" stop-color="#471164"/><stop offset="0.24" stop-color="#471365"/><stop offset="0.36" stop-color="#48186a"/><stop offset="0.46" stop-color="#481d6f"/><stop offset="0.55" stop-color="#482878"/><stop offset="0.63" stop-color="#453781"/><stop offset="0.70" stop-color="#3e4a89"/><stop offset="0.76" stop-color="#33628d"/><stop offset="0.81" stop-color="#297a8e"/><stop offset="0.86" stop-color="#1f968b"/><stop offset="0.90" stop-color="#28ae80"/><stop offset="0.94" stop-color="#4ac16d"/><stop offset="0.97" stop-color="#60ca60"/><stop offset="1.00" stop-color="#69cd5b"/></linearGradient><linearGradient id="a112" x1="0" y1="0" x2="0" y2="1"><stop offset="0.00" stop-color="#470e61"/><stop offset="0.12" stop-color="#471063"/><stop offset="0.24" stop-color="#471365"/><stop offset="0.36" stop-color="#481769"/><stop offset="0.46" stop-color="#481d6f"/><stop offset="0.55" stop-color="#482878"/><stop offset="0.63" stop-color="#453581"/><stop offset="0.70" stop-color="#3e4989"/><stop offset="0.76" stop-color="#34608d"/><stop offset="0.81" stop-color="#2a778e"/><stop offset="0.86" stop-color="#20938c"/><stop offset="0.90" stop-color="#25ac82"/><stop offset="0.94" stop-color="#44bf70"/><stop offset="0.97" stop-color="#5ac864"/><stop offset="1.00" stop-color="#63cb5f"/></linearGradient><linearGradient id="a113" x1="0" y1="0" x2="0" y2="1"><stop offset="0.00" stop-color="#470e61"/><stop offset="0.12" stop-color="#471063"/><stop offset="0.24" stop-color="#471365"/><stop offset="0.36" stop-color="#481769"/><stop offset="0.46" stop-color="#481d6f"/><stop offset="0.55" stop-color="#482677"/><stop offset="0.63" stop-color="#463480"/><stop offset="0.70" stop-color="#3f4788"/><stop offset="0.76" stop-color="#355e8d"/><stop offset="0.81" stop-color="#2b758e"/><stop offset="0.86" stop-color="#20928c"/><stop offset="0.90" stop-color="#23a983"/><stop offset="0.94" stop-color="#3dbc74"/><stop offset="0.97" stop-color="#52c569"/><stop offset="1.00" stop-color="#5ac864"/></linearGradient><linearGradient id="a114" x1="0" y1="0" x2="0" y2="1"><stop offset="0.00" stop-color="#470e61"/><stop offset="0.12" stop-color="#471063"/><stop offset="0.24" stop-color="#471365"/><stop offset="0.36" stop-color="#481769"/><stop offset="0.46" stop-color="#481c6e"/><stop offset="0.55" stop-color="#482677"/><stop offset="0.63" stop-color="#46337f"/><stop offset="0.70" stop-color="#404688"/><stop offset="0.76" stop-color="#365d8d"/><stop offset="0.81" stop-color="#2c738e"/><stop offset="0.86" stop-color="#218f8d"/><stop offset="0.90" stop-color="#21a585"/><stop offset="0.94" stop-color="#38b977"/><stop offset="0.97" stop-color="#4ac16d"/><stop offset="1.00" stop-color="#52c569"/></linearGradient><linearGradient id="a115" x1="0" y1="0" x2="0" y2="1"><stop offset="0.00" stop-color="#470e61"/><stop offset="0.12" stop-color="#471063"/><stop offset="0.24" stop-color="#471365"/><stop offset="0.36" stop-color="#481769"/><stop offset="0.46" stop-color="#481c6e"/><stop offset="0.55" stop-color="#482576"/><stop offset="0.63" stop-color="#46337f"/><stop offset="0.70" stop-color="#404588"/><stop offset="0.76" stop-color="#375b8d"/><stop offset="0.81" stop-color="#2c718e"/><stop offset="0.86" stop-color="#228c8d"/><stop offset="0.90" stop-color="#1fa287"/><stop offset="0.94" stop-color="#32b67a"/><stop offset="0.97" stop-color="#42be71"/><stop offset="1.00" stop-color="#4ac16d"/></linearGradient><linearGradient id="a116" x1="0" y1="0" x2="0" y2="1"><stop offset="0.00" stop-color="#470e61"/><stop offset="0.12" stop-color="#471063"/><stop offset="0.24" stop-color="#471365"/><stop offset="0.36" stop-color="#481668"/><stop offset="0.46" stop-color="#481c6e"/><stop offset="0.55" stop-color="#482475"/><stop offset="0.63" stop-color="#46327e"/><stop offset="0.70" stop-color="#414287"/><stop offset="0.76" stop-color="#38598c"/><stop offset="0.81" stop-color="#2e6f8e"/><stop offset="0.86" stop-color="#23898e"/><stop offset="0.90" stop-color="#1f9f88"/><stop offset="0.94" stop-color="#2db27d"/><stop offset="0.97" stop-color="#3bbb75"/><stop offset="1.00" stop-color="#42be71"/></linearGradient><linearGradient id="a117" x1="0" y1="0" x2="0" y2="1"><stop offset="0.00" stop-color="#470e61"/><stop offset="0.12" stop-color="#471063"/><stop offset="0.24" stop-color="#471365"/><stop offset="0.36" stop-color="#481668"/><stop offset="0.46" stop-color="#481b6d"/><stop offset="0.55" stop-color="#482475"/><stop offset="0.63" stop-color="#46307e"/><stop offset="0.70" stop-color="#424186"/><stop offset="0.76" stop-color="#39568c"/><stop offset="0.81" stop-color="#2e6d8e"/><stop offset="0.86" stop-color="#24868e"/><stop offset="0.90" stop-color="#1e9c89"/><stop offset="0.94" stop-color="#28ae80"/><stop offset="0.97" stop-color="#35b779"/><stop offset="1.00" stop-color="#3bbb75"/></linearGradient><linearGradient id="a118" x1="0" y1="0" x2="0" y2="1"><stop offset="0.00" stop-color="#470e61"/><stop offset="0.12" stop-color="#471063"/><stop offset="0.24" stop-color="#471164"/><stop offset="0.36" stop-color="#481668"/><stop offset="0.46" stop-color="#481b6d"/><stop offset="0.55" stop-color="#482374"/><stop offset="0.63" stop-color="#472f7d"/><stop offset="0.70" stop-color="#424086"/><stop offset="0.76" stop-color="#3a548c"/><stop offset="0.81" stop-color="#2f6b8e"/><stop offset="0.86" stop-color="#25838e"/><stop offset="0.90" stop-color="#1f988b"/><stop offset="0.94" stop-color="#25ab82"/><stop offset="0.97" stop-color="#2fb47c"/><stop offset="1.00" stop-color="#34b679"/></linearGradient><linearGradient id="a119" x1="0" y1="0" x2="0" y2="1"><stop offset="0.00" stop-color="#470e61"/><stop offset="0.12" stop-color="#471063"/><stop offset="0.24" stop-color="#471164"/><stop offset="0.36" stop-color="#481668"/><stop offset="0.46" stop-color="#481b6d"/><stop offset="0.55" stop-color="#482374"/><stop offset="0.63" stop-color="#472e7c"/><stop offset="0.70" stop-color="#423f85"/><stop offset="0.76" stop-color="#3b528b"/><stop offset="0.81" stop-color="#31688e"/><stop offset="0.86" stop-color="#26818e"/><stop offset="0.90" stop-color="#1f958b"/><stop offset="0.94" stop-color="#22a785"/><stop offset="0.97" stop-color="#29af7f"/><stop offset="1.00" stop-color="#2eb37c"/></linearGradient><linearGradient id="a120" x1="0" y1="0" x2="0" y2="1"><stop offset="0.00" stop-color="#470e61"/><stop offset="0.12" stop-color="#471063"/><stop offset="0.24" stop-color="#471164"/><stop offset="0.36" stop-color="#481467"/><stop offset="0.46" stop-color="#481a6c"/><stop offset="0.55" stop-color="#482173"/><stop offset="0.63" stop-color="#472d7b"/><stop offset="0.70" stop-color="#433d84"/><stop offset="0.76" stop-color="#3c508b"/><stop offset="0.81" stop-color="#32658e"/><stop offset="0.86" stop-color="#287d8e"/><stop offset="0.90" stop-color="#21918c"/><stop offset="0.94" stop-color="#1fa287"/><stop offset="0.97" stop-color="#25ab82"/><stop offset="1.00" stop-color="#28ae80"/></linearGradient><linearGradient id="a121" x1="0" y1="0" x2="0" y2="1"><stop offset="0.00" stop-color="#470e61"/><stop offset="0.12" stop-color="#471063"/><stop offset="0.24" stop-color="#471164"/><stop offset="0.36" stop-color="#481467"/><stop offset="0.46" stop-color="#481a6c"/><stop offset="0.55" stop-color="#482071"/><stop offset="0.63" stop-color="#472c7a"/><stop offset="0.70" stop-color="#443a83"/><stop offset="0.76" stop-color="#3d4d8a"/><stop offset="0.81" stop-color="#33628d"/><stop offset="0.86" stop-color="#29798e"/><stop offset="0.90" stop-color="#228d8d"/><stop offset="0.94" stop-color="#1f9e89"/><stop offset="0.97" stop-color="#21a685"/><stop offset="1.00" stop-color="#24aa83"/></linearGradient><linearGradient id="a122" x1="0" y1="0" x2="0" y2="1"><stop offset="0.00" stop-color="#470e61"/><stop offset="0.12" stop-color="#470e61"/><stop offset="0.24" stop-color="#471164"/><stop offset="0.36" stop-color="#481467"/><stop offset="0.46" stop-color="#48186a"/><stop offset="0.55" stop-color="#481f70"/><stop offset="0.63" stop-color="#482979"/><stop offset="0.70" stop-color="#453882"/><stop offset="0.76" stop-color="#3e4a89"/><stop offset="0.81" stop-color="#355f8d"/><stop offset="0.86" stop-color="#2b758e"/><stop offset="0.90" stop-color="#23888e"/><stop offset="0.94" stop-color="#1f998a"/><stop offset="0.97" stop-color="#1fa187"/><stop offset="1.00" stop-color="#21a585"/></linearGradient><linearGradient id="a123" x1="0" y1="0" x2="0" y2="1"><stop offset="0.00" stop-color="#470e61"/><stop offset="0.12" stop-color="#470e61"/><stop offset="0.24" stop-color="#471063"/><stop offset="0.36" stop-color="#471365"/><stop offset="0.46" stop-color="#48186a"/><stop offset="0.55" stop-color="#481d6f"/><stop offset="0.63" stop-color="#482878"/><stop offset="0.70" stop-color="#453581"/><stop offset="0.76" stop-color="#3f4889"/><stop offset="0.81" stop-color="#365c8d"/><stop offset="0.86" stop-color="#2c718e"/><stop offset="0.90" stop-color="#25848e"/><stop offset="0.94" stop-color="#1f958b"/><stop offset="0.97" stop-color="#1e9d89"/><stop offset="1.00" stop-color="#1fa188"/></linearGradient><linearGradient id="a124" x1="0" y1="0" x2="0" y2="1"><stop offset="0.00" stop-color="#470e61"/><stop offset="0.12" stop-color="#470e61"/><stop offset="0.24" stop-color="#471063"/><stop offset="0.36" stop-color="#471365"/><stop offset="0.46" stop-color="#481769"/><stop offset="0.55" stop-color="#481d6f"/><stop offset="0.63" stop-color="#482677"/><stop offset="0.70" stop-color="#463480"/><stop offset="0.76" stop-color="#404588"/><stop offset="0.81" stop-color="#38598c"/><stop offset="0.86" stop-color="#2e6e8e"/><stop offset="0.90" stop-color="#26818e"/><stop offset="0.94" stop-color="#21918c"/><stop offset="0.97" stop-color="#1f988b"/><stop offset="1.00" stop-color="#1e9b8a"/></linearGradient><linearGradient id="a125" x1="0" y1="0" x2="0" y2="1"><stop offset="0.00" stop-color="#470d60"/><stop offset="0.12" stop-color="#470e61"/><stop offset="0.24" stop-color="#471063"/><stop offset="0.36" stop-color="#471365"/><stop offset="0.46" stop-color="#481769"/><stop offset="0.55" stop-color="#481c6e"/><stop offset="0.63" stop-color="#482576"/><stop offset="0.70" stop-color="#46327e"/><stop offset="0.76" stop-color="#414287"/><stop offset="0.81" stop-color="#3a548c"/><stop offset="0.86" stop-color="#2f6b8e"/><stop offset="0.90" stop-color="#287c8e"/><stop offset="0.94" stop-color="#228c8d"/><stop offset="0.97" stop-color="#20938c"/><stop offset="1.00" stop-color="#1f968b"/></linearGradient><linearGradient id="a126" x1="0" y1="0" x2="0" y2="1"><stop offset="0.00" stop-color="#470d60"/><stop offset="0.12" stop-color="#470e61"/><stop offset="0.24" stop-color="#471063"/><stop offset="0.36" stop-color="#471365"/><stop offset="0.46" stop-color="#481668"/><stop offset="0.55" stop-color="#481b6d"/><stop offset="0.63" stop-color="#482475"/><stop offset="0.70" stop-color="#472f7d"/><stop offset="0.76" stop-color="#424086"/><stop offset="0.81" stop-color="#3b518b"/><stop offset="0.86" stop-color="#31678e"/><stop offset="0.90" stop-color="#2a788e"/><stop offset="0.94" stop-color="#24878e"/><stop offset="0.97" stop-color="#218f8d"/><stop offset="1.00" stop-color="#20928c"/></linearGradient><linearGradient id="a127" x1="0" y1="0" x2="0" y2="1"><stop offset="0.00" stop-color="#470d60"/><stop offset="0.12" stop-color="#470e61"/><stop offset="0.24" stop-color="#471063"/><stop offset="0.36" stop-color="#471164"/><stop offset="0.46" stop-color="#481668"/><stop offset="0.55" stop-color="#481b6d"/><stop offset="0.63" stop-color="#482374"/><stop offset="0.70" stop-color="#472e7c"/><stop offset="0.76" stop-color="#433d84"/><stop offset="0.81" stop-color="#3d4e8a"/><stop offset="0.86" stop-color="#33638d"/><stop offset="0.90" stop-color="#2c738e"/><stop offset="0.94" stop-color="#26828e"/><stop offset="0.97" stop-color="#238a8d"/><stop offset="1.00" stop-color="#228c8d"/></linearGradient><linearGradient id="a128" x1="0" y1="0" x2="0" y2="1"><stop offset="0.00" stop-color="#470d60"/><stop offset="0.12" stop-color="#470e61"/><stop offset="0.24" stop-color="#470e61"/><stop offset="0.36" stop-color="#471164"/><stop offset="0.46" stop-color="#481467"/><stop offset="0.55" stop-color="#481a6c"/><stop offset="0.63" stop-color="#482173"/><stop offset="0.70" stop-color="#472c7a"/><stop offset="0.76" stop-color="#443a83"/><stop offset="0.81" stop-color="#3e4a89"/><stop offset="0.86" stop-color="#355f8d"/><stop offset="0.90" stop-color="#2e6f8e"/><stop offset="0.94" stop-color="#287d8e"/><stop offset="0.97" stop-color="#25848e"/><stop offset="1.00" stop-color="#24878e"/></linearGradient><linearGradient id="a129" x1="0" y1="0" x2="0" y2="1"><stop offset="0.00" stop-color="#470d60"/><stop offset="0.12" stop-color="#470e61"/><stop offset="0.24" stop-color="#470e61"/><stop offset="0.36" stop-color="#471164"/><stop offset="0.46" stop-color="#481467"/><stop offset="0.55" stop-color="#48186a"/><stop offset="0.63" stop-color="#482071"/><stop offset="0.70" stop-color="#472a7a"/><stop offset="0.76" stop-color="#453882"/><stop offset="0.81" stop-color="#3f4788"/><stop offset="0.86" stop-color="#375b8d"/><stop offset="0.90" stop-color="#2f6b8e"/><stop offset="0.94" stop-color="#2a788e"/><stop offset="0.97" stop-color="#277f8e"/><stop offset="1.00" stop-color="#26828e"/></linearGradient><linearGradient id="a130" x1="0" y1="0" x2="0" y2="1"><stop offset="0.00" stop-color="#470d60"/><stop offset="0.12" stop-color="#470d60"/><stop offset="0.24" stop-color="#470e61"/><stop offset="0.36" stop-color="#471063"/><stop offset="0.46" stop-color="#471365"/><stop offset="0.55" stop-color="#481769"/><stop offset="0.63" stop-color="#481d6f"/><stop offset="0.70" stop-color="#482878"/><stop offset="0.76" stop-color="#463480"/><stop offset="0.81" stop-color="#414487"/><stop offset="0.86" stop-color="#39568c"/><stop offset="0.90" stop-color="#31668e"/><stop offset="0.94" stop-color="#2c738e"/><stop offset="0.97" stop-color="#297a8e"/><stop offset="1.00" stop-color="#287c8e"/></linearGradient><linearGradient id="a131" x1="0" y1="0" x2="0" y2="1"><stop offset="0.00" stop-color="#470d60"/><stop offset="0.12" stop-color="#470d60"/><stop offset="0.24" stop-color="#470e61"/><stop offset="0.36" stop-color="#471063"/><stop offset="0.46" stop-color="#471365"/><stop offset="0.55" stop-color="#481769"/><stop offset="0.63" stop-color="#481c6e"/><stop offset="0.70" stop-color="#482576"/><stop offset="0.76" stop-color="#46327e"/><stop offset="0.81" stop-color="#424086"/><stop offset="0.86" stop-color="#3b528b"/><stop offset="0.90" stop-color="#34618d"/><stop offset="0.94" stop-color="#2e6e8e"/><stop offset="0.97" stop-color="#2b748e"/><stop offset="1.00" stop-color="#2a768e"/></linearGradient><linearGradient id="a132" x1="0" y1="0" x2="0" y2="1"><stop offset="0.00" stop-color="#470d60"/><stop offset="0.12" stop-color="#470d60"/><stop offset="0.24" stop-color="#470e61"/><stop offset="0.36" stop-color="#471063"/><stop offset="0.46" stop-color="#471365"/><stop offset="0.55" stop-color="#481769"/><stop offset="0.63" stop-color="#481c6e"/><stop offset="0.70" stop-color="#482576"/><stop offset="0.76" stop-color="#46307e"/><stop offset="0.81" stop-color="#423f85"/><stop offset="0.86" stop-color="#3c508b"/><stop offset="0.90" stop-color="#355f8d"/><stop offset="0.94" stop-color="#2f6c8e"/><stop offset="0.97" stop-color="#2c718e"/><stop offset="1.00" stop-color="#2b748e"/></linearGradient><linearGradient id="a133" x1="0" y1="0" x2="0" y2="1"><stop offset="0.00" stop-color="#470d60"/><stop offset="0.12" stop-color="#470d60"/><stop offset="0.24" stop-color="#470e61"/><stop offset="0.36" stop-color="#471063"/><stop offset="0.46" stop-color="#471365"/><stop offset="0.55" stop-color="#481769"/><stop offset="0.63" stop-color="#481c6e"/><stop offset="0.70" stop-color="#482576"/><stop offset="0.76" stop-color="#46307e"/><stop offset="0.81" stop-color="#423f85"/><stop offset="0.86" stop-color="#3c508b"/><stop offset="0.90" stop-color="#355f8d"/><stop offset="0.94" stop-color="#2f6c8e"/><stop offset="0.97" stop-color="#2c718e"/><stop offset="1.00" stop-color="#2b748e"/></linearGradient><clipPath id="clipa"><rect x="70.60" y="40.50" width="1304.10" height="240.50"/></clipPath>
<linearGradient id="b0" x1="0" y1="0" x2="0" y2="1"><stop offset="0.00" stop-color="#470d60"/><stop offset="0.12" stop-color="#470e61"/><stop offset="0.24" stop-color="#470e61"/><stop offset="0.36" stop-color="#471164"/><stop offset="0.46" stop-color="#471365"/><stop offset="0.55" stop-color="#481769"/><stop offset="0.63" stop-color="#481c6e"/><stop offset="0.70" stop-color="#482475"/><stop offset="0.76" stop-color="#472c7a"/><stop offset="0.81" stop-color="#463480"/><stop offset="0.86" stop-color="#433e85"/><stop offset="0.90" stop-color="#404688"/><stop offset="0.94" stop-color="#3e4c8a"/><stop offset="0.97" stop-color="#3c4f8a"/><stop offset="1.00" stop-color="#3c4f8a"/></linearGradient><linearGradient id="b1" x1="0" y1="0" x2="0" y2="1"><stop offset="0.00" stop-color="#470d60"/><stop offset="0.12" stop-color="#470e61"/><stop offset="0.24" stop-color="#470e61"/><stop offset="0.36" stop-color="#471164"/><stop offset="0.46" stop-color="#471365"/><stop offset="0.55" stop-color="#481769"/><stop offset="0.63" stop-color="#481c6e"/><stop offset="0.70" stop-color="#482475"/><stop offset="0.76" stop-color="#472c7a"/><stop offset="0.81" stop-color="#463480"/><stop offset="0.86" stop-color="#433e85"/><stop offset="0.90" stop-color="#404688"/><stop offset="0.94" stop-color="#3e4c8a"/><stop offset="0.97" stop-color="#3c4f8a"/><stop offset="1.00" stop-color="#3c4f8a"/></linearGradient><linearGradient id="b2" x1="0" y1="0" x2="0" y2="1"><stop offset="0.00" stop-color="#470d60"/><stop offset="0.12" stop-color="#470e61"/><stop offset="0.24" stop-color="#471063"/><stop offset="0.36" stop-color="#471164"/><stop offset="0.46" stop-color="#481467"/><stop offset="0.55" stop-color="#48186a"/><stop offset="0.63" stop-color="#481f70"/><stop offset="0.70" stop-color="#482677"/><stop offset="0.76" stop-color="#472f7d"/><stop offset="0.81" stop-color="#443983"/><stop offset="0.86" stop-color="#414487"/><stop offset="0.90" stop-color="#3e4c8a"/><stop offset="0.94" stop-color="#3b528b"/><stop offset="0.97" stop-color="#39558c"/><stop offset="1.00" stop-color="#39568c"/></linearGradient><linearGradient id="b3" x1="0" y1="0" x2="0" y2="1"><stop offset="0.00" stop-color="#470d60"/><stop offset="0.12" stop-color="#470e61"/><stop offset="0.24" stop-color="#471063"/><stop offset="0.36" stop-color="#471164"/><stop offset="0.46" stop-color="#481668"/><stop offset="0.55" stop-color="#481a6c"/><stop offset="0.63" stop-color="#482071"/><stop offset="0.70" stop-color="#482979"/><stop offset="0.76" stop-color="#463480"/><stop offset="0.81" stop-color="#423f85"/><stop offset="0.86" stop-color="#3e4a89"/><stop offset="0.90" stop-color="#3a538b"/><stop offset="0.94" stop-color="#375b8d"/><stop offset="0.97" stop-color="#355e8d"/><stop offset="1.00" stop-color="#355f8d"/></linearGradient><linearGradient id="b4" x1="0" y1="0" x2="0" y2="1"><stop offset="0.00" stop-color="#470d60"/><stop offset="0.12" stop-color="#470e61"/><stop offset="0.24" stop-color="#471063"/><stop offset="0.36" stop-color="#471365"/><stop offset="0.46" stop-color="#481668"/><stop offset="0.55" stop-color="#481b6d"/><stop offset="0.63" stop-color="#482173"/><stop offset="0.70" stop-color="#472c7a"/><stop offset="0.76" stop-color="#453781"/><stop offset="0.81" stop-color="#424186"/><stop offset="0.86" stop-color="#3d4e8a"/><stop offset="0.90" stop-color="#39568c"/><stop offset="0.94" stop-color="#355f8d"/><stop offset="0.97" stop-color="#33628d"/><stop offset="1.00" stop-color="#33638d"/></linearGradient><linearGradient id="b5" x1="0" y1="0" x2="0" y2="1"><stop offset="0.00" stop-color="#470d60"/><stop offset="0.12" stop-color="#470e61"/><stop offset="0.24" stop-color="#471063"/><stop offset="0.36" stop-color="#471365"/><stop offset="0.46" stop-color="#481668"/><stop offset="0.55" stop-color="#481b6d"/><stop offset="0.63" stop-color="#482374"/><stop offset="0.70" stop-color="#472c7a"/><stop offset="0.76" stop-color="#453781"/><stop offset="0.81" stop-color="#414287"/><stop offset="0.86" stop-color="#3c4f8a"/><stop offset="0.90" stop-color="#38598c"/><stop offset="0.94" stop-color="#34608d"/><stop offset="0.97" stop-color="#32648e"/><stop offset="1.00" stop-color="#32658e"/></linearGradient><linearGradient id="b6" x1="0" y1="0" x2="0" y2="1"><stop offset="0.00" stop-color="#470e61"/><stop offset="0.12" stop-color="#470e61"/><stop offset="0.24" stop-color="#471063"/><stop offset="0.36" stop-color="#471365"/><stop offset="0.46" stop-color="#481668"/><stop offset="0.55" stop-color="#481b6d"/><stop offset="0.63" stop-color="#482374"/><stop offset="0.70" stop-color="#472d7b"/><stop offset="0.76" stop-color="#453882"/><stop offset="0.81" stop-color="#414487"/><stop offset="0.86" stop-color="#3c508b"/><stop offset="0.90" stop-color="#375a8c"/><stop offset="0.94" stop-color="#33628d"/><stop offset="0.97" stop-color="#32658e"/><stop offset="1.00" stop-color="#31668e"/></linearGradient><linearGradient id="b7" x1="0" y1="0" x2="0" y2="1"><stop offset="0.00" stop-color="#470e61"/><stop offset="0.12" stop-color="#470e61"/><stop offset="0.24" stop-color="#471063"/><stop offset="0.36" stop-color="#471365"/><stop offset="0.46" stop-color="#481668"/><stop offset="0.55" stop-color="#481b6d"/><stop offset="0.63" stop-color="#482374"/><stop offset="0.70" stop-color="#472d7b"/><stop offset="0.76" stop-color="#453882"/><stop offset="0.81" stop-color="#414487"/><stop offset="0.86" stop-color="#3b518b"/><stop offset="0.90" stop-color="#375b8d"/><stop offset="0.94" stop-color="#33628d"/><stop offset="0.97" stop-color="#31668e"/><stop offset="1.00" stop-color="#31678e"/></linearGradient><linearGradient id="b8" x1="0" y1="0" x2="0" y2="1"><stop offset="0.00" stop-color="#470e61"/><stop offset="0.12" stop-color="#470e61"/><stop offset="0.24" stop-color="#471063"/><stop offset="0.36" stop-color="#471365"/><stop offset="0.46" stop-color="#481769"/><stop offset="0.55" stop-color="#481c6e"/><stop offset="0.63" stop-color="#482374"/><stop offset="0.70" stop-color="#472d7b"/><stop offset="0.76" stop-color="#443983"/><stop offset="0.81" stop-color="#404588"/><stop offset="0.86" stop-color="#3b518b"/><stop offset="0.90" stop-color="#365c8d"/><stop offset="0.94" stop-color="#33638d"/><stop offset="0.97" stop-color="#31678e"/><stop offset="1.00" stop-color="#31688e"/></linearGradient><linearGradient id="b9" x1="0" y1="0" x2="0" y2="1"><stop offset="0.00" stop-color="#470e61"/><stop offset="0.12" stop-color="#470e61"/><stop offset="0.24" stop-color="#471063"/><stop offset="0.36" stop-color="#471365"/><stop offset="0.46" stop-color="#481769"/><stop offset="0.55" stop-color="#481c6e"/><stop offset="0.63" stop-color="#482374"/><stop offset="0.70" stop-color="#472d7b"/><stop offset="0.76" stop-color="#443983"/><stop offset="0.81" stop-color="#404588"/><stop offset="0.86" stop-color="#3b528b"/><stop offset="0.90" stop-color="#365c8d"/><stop offset="0.94" stop-color="#32648e"/><stop offset="0.97" stop-color="#31678e"/><stop offset="1.00" stop-color="#30698e"/></linearGradient><linearGradient id="b10" x1="0" y1="0" x2="0" y2="1"><stop offset="0.00" stop-color="#470e61"/><stop offset="0.12" stop-color="#470e61"/><stop offset="0.24" stop-color="#471063"/><stop offset="0.36" stop-color="#471365"/><stop offset="0.46" stop-color="#481769"/><stop offset="0.55" stop-color="#481c6e"/><stop offset="0.63" stop-color="#482475"/><stop offset="0.70" stop-color="#472d7b"/><stop offset="0.76" stop-color="#443983"/><stop offset="0.81" stop-color="#404588"/><stop offset="0.86" stop-color="#3b528b"/><stop offset="0.90" stop-color="#365d8d"/><stop offset="0.94" stop-color="#32648e"/><stop offset="0.97" stop-color="#31688e"/><stop offset="1.00" stop-color="#30698e"/></linearGradient><linearGradient id="b11" x1="0" y1="0" x2="0" y2="1"><stop offset="0.00" stop-color="#470e61"/><stop offset="0.12" stop-color="#470e61"/><stop offset="0.24" stop-color="#471063"/><stop offset="0.36" stop-color="#471365"/><stop offset="0.46" stop-color="#481769"/><stop offset="0.55" stop-color="#481c6e"/><stop offset="0.63" stop-color="#482475"/><stop offset="0.70" stop-color="#472e7c"/><stop offset="0.76" stop-color="#443983"/><stop offset="0.81" stop-color="#404688"/><stop offset="0.86" stop-color="#3a538b"/><stop offset="0.90" stop-color="#365d8d"/><stop offset="0.94" stop-color="#32658e"/><stop offset="0.97" stop-color="#31688e"/><stop offset="1.00" stop-color="#306a8e"/></linearGradient><linearGradient id="b12" x1="0" y1="0" x2="0" y2="1"><stop offset="0.00" stop-color="#470e61"/><stop offset="0.12" stop-color="#470e61"/><stop offset="0.24" stop-color="#471063"/><stop offset="0.36" stop-color="#471365"/><stop offset="0.46" stop-color="#481769"/><stop offset="0.55" stop-color="#481c6e"/><stop offset="0.63" stop-color="#482475"/><stop offset="0.70" stop-color="#472e7c"/><stop offset="0.76" stop-color="#443a83"/><stop offset="0.81" stop-color="#404688"/><stop offset="0.86" stop-color="#3a538b"/><stop offset="0.90" stop-color="#365d8d"/><stop offset="0.94" stop-color="#32658e"/><stop offset="0.97" stop-color="#30698e"/><stop offset="1.00" stop-color="#306a8e"/></linearGradient><linearGradient id="b13" x1="0" y1="0" x2="0" y2="1"><stop offset="0.00" stop-color="#470e61"/><stop offset="0.12" stop-color="#470e61"/><stop offset="0.24" stop-color="#471063"/><stop offset="0.36" stop-color="#471365"/><stop offset="0.46" stop-color="#481769"/><stop offset="0.55" stop-color="#481c6e"/><stop offset="0.63" stop-color="#482475"/><stop offset="0.70" stop-color="#472e7c"/><stop offset="0.76" stop-color="#443a83"/><stop offset="0.81" stop-color="#404688"/><stop offset="0.86" stop-color="#3a538b"/><stop offset="0.90" stop-color="#355e8d"/><stop offset="0.94" stop-color="#31668e"/><stop offset="0.97" stop-color="#306a8e"/><stop offset="1.00" stop-color="#2f6b8e"/></linearGradient><linearGradient id="b14" x1="0" y1="0" x2="0" y2="1"><stop offset="0.00" stop-color="#470e61"/><stop offset="0.12" stop-color="#470e61"/><stop offset="0.24" stop-color="#471063"/><stop offset="0.36" stop-color="#471365"/><stop offset="0.46" stop-color="#481769"/><stop offset="0.55" stop-color="#481c6e"/><stop offset="0.63" stop-color="#482475"/><stop offset="0.70" stop-color="#472e7c"/><stop offset="0.76" stop-color="#443a83"/><stop offset="0.81" stop-color="#3f4788"/><stop offset="0.86" stop-color="#3a548c"/><stop offset="0.90" stop-color="#355e8d"/><stop offset="0.94" stop-color="#31668e"/><stop offset="0.97" stop-color="#306a8e"/><stop offset="1.00" stop-color="#2f6b8e"/></linearGradient><linearGradient id="b15" x1="0" y1="0" x2="0" y2="1"><stop offset="0.00" stop-color="#470e61"/><stop offset="0.12" stop-color="#470e61"/><stop offset="0.24" stop-color="#471063"/><stop offset="0.36" stop-color="#471365"/><stop offset="0.46" stop-color="#481769"/><stop offset="0.55" stop-color="#481c6e"/><stop offset="0.63" stop-color="#482475"/><stop offset="0.70" stop-color="#472e7c"/><stop offset="0.76" stop-color="#443a83"/><stop offset="0.81" stop-color="#3f4788"/><stop offset="0.86" stop-color="#3a548c"/><stop offset="0.90" stop-color="#355f8d"/><stop offset="0.94" stop-color="#31678e"/><stop offset="0.97" stop-color="#2f6b8e"/><stop offset="1.00" stop-color="#2f6c8e"/></linearGradient><linearGradient id="b16" x1="0" y1="0" x2="0" y2="1"><stop offset="0.00" stop-color="#470e61"/><stop offset="0.12" stop-color="#470e61"/><stop offset="0.24" stop-color="#471063"/><stop offset="0.36" stop-color="#471365"/><stop offset="0.46" stop-color="#481769"/><stop offset="0.55" stop-color="#481c6e"/><stop offset="0.63" stop-color="#482475"/><stop offset="0.70" stop-color="#472e7c"/><stop offset="0.76" stop-color="#443b84"/><stop offset="0.81" stop-color="#3f4788"/><stop offset="0.86" stop-color="#39558c"/><stop offset="0.90" stop-color="#355f8d"/><stop offset="0.94" stop-color="#31678e"/><stop offset="0.97" stop-color="#2f6b8e"/><stop offset="1.00" stop-color="#2e6d8e"/></linearGradient><linearGradient id="b17" x1="0" y1="0" x2="0" y2="1"><stop offset="0.00" stop-color="#470e61"/><stop offset="0.12" stop-color="#470e61"/><stop offset="0.24" stop-color="#471063"/><stop offset="0.36" stop-color="#471365"/><stop offset="0.46" stop-color="#481769"/><stop offset="0.55" stop-color="#481c6e"/><stop offset="0.63" stop-color="#482475"/><stop offset="0.70" stop-color="#472f7d"/><stop offset="0.76" stop-color="#443b84"/><stop offset="0.81" stop-color="#3f4889"/><stop offset="0.86" stop-color="#39558c"/><stop offset="0.90" stop-color="#34608d"/><stop offset="0.94" stop-color="#31688e"/><stop offset="0.97" stop-color="#2f6c8e"/><stop offset="1.00" stop-color="#2e6d8e"/></linearGradient><linearGradient id="b18" x1="0" y1="0" x2="0" y2="1"><stop offset="0.00" stop-color="#470e61"/><stop offset="0.12" stop-color="#470e61"/><stop offset="0.24" stop-color="#471063"/><stop offset="0.36" stop-color="#471365"/><stop offset="0.46" stop-color="#481769"/><stop offset="0.55" stop-color="#481c6e"/><stop offset="0.63" stop-color="#482475"/><stop offset="0.70" stop-color="#472f7d"/><stop offset="0.76" stop-color="#443b84"/><stop offset="0.81" stop-color="#3f4889"/><stop offset="0.86" stop-color="#39568c"/><stop offset="0.90" stop-color="#34608d"/><stop offset="0.94" stop-color="#30698e"/><stop offset="0.97" stop-color="#2e6d8e"/><stop offset="1.00" stop-color="#2e6e8e"/></linearGradient><linearGradient id="b19" x1="0" y1="0" x2="0" y2="1"><stop offset="0.00" stop-color="#470e61"/><stop offset="0.12" stop-color="#470e61"/><stop offset="0.24" stop-color="#471063"/><stop offset="0.36" stop-color="#471365"/><stop offset="0.46" stop-color="#481769"/><stop offset="0.55" stop-color="#481c6e"/><stop offset="0.63" stop-color="#482576"/><stop offset="0.70" stop-color="#472f7d"/><stop offset="0.76" stop-color="#443b84"/><stop offset="0.81" stop-color="#3f4889"/><stop offset="0.86" stop-color="#39568c"/><stop offset="0.90" stop-color="#34618d"/><stop offset="0.94" stop-color="#30698e"/><stop offset="0.97" stop-color="#2e6d8e"/><stop offset="1.00" stop-color="#2e6f8e"/></linearGradient><linearGradient id="b20" x1="0" y1="0" x2="0" y2="1"><stop offset="0.00" stop-color="#470e61"/><stop offset="0.12" stop-color="#470e61"/><stop offset="0.24" stop-color="#471063"/><stop offset="0.36" stop-color="#471365"/><stop offset="0.46" stop-color="#481769"/><stop offset="0.55" stop-color="#481c6e"/><stop offset="0.63" stop-color="#482576"/><stop offset="0.70" stop-color="#472f7d"/><stop offset="0.76" stop-color="#433d84"/><stop offset="0.81" stop-color="#3e4989"/><stop offset="0.86" stop-color="#39568c"/><stop offset="0.90" stop-color="#33628d"/><stop offset="0.94" stop-color="#306a8e"/><stop offset="0.97" stop-color="#2e6e8e"/><stop offset="1.00" stop-color="#2e6f8e"/></linearGradient><linearGradient id="b21" x1="0" y1="0" x2="0" y2="1"><stop offset="0.00" stop-color="#470e61"/><stop offset="0.12" stop-color="#470e61"/><stop offset="0.24" stop-color="#471063"/><stop offset="0.36" stop-color="#471365"/><stop offset="0.46" stop-color="#481769"/><stop offset="0.55" stop-color="#481c6e"/><stop offset="0.63" stop-color="#482576"/><stop offset="0.70" stop-color="#472f7d"/><stop offset="0.76" stop-color="#433d84"/><stop offset="0.81" stop-color="#3e4989"/><stop offset="0.86" stop-color="#38588c"/><stop offset="0.90" stop-color="#33628d"/><stop offset="0.94" stop-color="#306a8e"/><stop offset="0.97" stop-color="#2e6f8e"/><stop offset="1.00" stop-color="#2d708e"/></linearGradient><linearGradient id="b22" x1="0" y1="0" x2="0" y2="1"><stop offset="0.00" stop-color="#470e61"/><stop offset="0.12" stop-color="#470e61"/><stop offset="0.24" stop-color="#471063"/><stop offset="0.36" stop-color="#471365"/><stop offset="0.46" stop-color="#481769"/><stop offset="0.55" stop-color="#481d6f"/><stop offset="0.63" stop-color="#482576"/><stop offset="0.70" stop-color="#46307e"/><stop offset="0.76" stop-color="#433d84"/><stop offset="0.81" stop-color="#3e4989"/><stop offset="0.86" stop-color="#38588c"/><stop offset="0.90" stop-color="#33638d"/><stop offset="0.94" stop-color="#2f6b8e"/><stop offset="0.97" stop-color="#2e6f8e"/><stop offset="1.00" stop-color="#2d718e"/></linearGradient><linearGradient id="b23" x1="0" y1="0" x2="0" y2="1"><stop offset="0.00" stop-color="#470e61"/><stop offset="0.12" stop-color="#470e61"/><stop offset="0.24" stop-color="#471063"/><stop offset="0.36" stop-color="#471365"/><stop offset="0.46" stop-color="#481769"/><stop offset="0.55" stop-color="#481d6f"/><stop offset="0.63" stop-color="#482576"/><stop offset="0.70" stop-color="#46307e"/><stop offset="0.76" stop-color="#433d84"/><stop offset="0.81" stop-color="#3e4a89"/><stop offset="0.86" stop-color="#38598c"/><stop offset="0.90" stop-color="#33638d"/><stop offset="0.94" stop-color="#2f6c8e"/><stop offset="0.97" stop-color="#2d708e"/><stop offset="1.00" stop-color="#2d718e"/></linearGradient><linearGradient id="b24" x1="0" y1="0" x2="0" y2="1"><stop offset="0.00" stop-color="#470e61"/><stop offset="0.12" stop-color="#470e61"/><stop offset="0.24" stop-color="#471063"/><stop offset="0.36" stop-color="#471365"/><stop offset="0.46" stop-color="#481769"/><stop offset="0.55" stop-color="#481d6f"/><stop offset="0.63" stop-color="#482576"/><stop offset="0.70" stop-color="#46307e"/><stop offset="0.76" stop-color="#433e85"/><stop offset="0.81" stop-color="#3e4a89"/><stop offset="0.86" stop-color="#38598c"/><stop offset="0.90" stop-color="#32648e"/><stop offset="0.94" stop-color="#2f6c8e"/><stop offset="0.97" stop-color="#2d708e"/><stop offset="1.00" stop-color="#2c718e"/></linearGradient><linearGradient id="b25" x1="0" y1="0" x2="0" y2="1"><stop offset="0.00" stop-color="#470e61"/><stop offset="0.12" stop-color="#470e61"/><stop offset="0.24" stop-color="#471164"/><stop offset="0.36" stop-color="#471365"/><stop offset="0.46" stop-color="#481769"/><stop offset="0.55" stop-color="#481d6f"/><stop offset="0.63" stop-color="#482576"/><stop offset="0.70" stop-color="#46307e"/><stop offset="0.76" stop-color="#433e85"/><stop offset="0.81" stop-color="#3e4a89"/><stop offset="0.86" stop-color="#375a8c"/><stop offset="0.90" stop-color="#32648e"/><stop offset="0.94" stop-color="#2e6d8e"/><stop offset="0.97" stop-color="#2d718e"/><stop offset="1.00" stop-color="#2c728e"/></linearGradient><linearGradient id="b26" x1="0" y1="0" x2="0" y2="1"><stop offset="0.00" stop-color="#470e61"/><stop offset="0.12" stop-color="#470e61"/><stop offset="0.24" stop-color="#471164"/><stop offset="0.36" stop-color="#481467"/><stop offset="0.46" stop-color="#481769"/><stop offset="0.55" stop-color="#481d6f"/><stop offset="0.63" stop-color="#482576"/><stop offset="0.70" stop-color="#46307e"/><stop offset="0.76" stop-color="#433e85"/><stop offset="0.81" stop-color="#3e4c8a"/><stop offset="0.86" stop-color="#375a8c"/><stop offset="0.90" stop-color="#32658e"/><stop offset="0.94" stop-color="#2e6e8e"/><stop offset="0.97" stop-color="#2c718e"/><stop offset="1.00" stop-color="#2c728e"/></linearGradient><linearGradient id="b27" x1="0" y1="0" x2="0" y2="1"><stop offset="0.00" stop-color="#470e61"/><stop offset="0.12" stop-color="#470e61"/><stop offset="0.24" stop-color="#471164"/><stop offset="0.36" stop-color="#481467"/><stop offset="0.46" stop-color="#481769"/><stop offset="0.55" stop-color="#481d6f"/><stop offset="0.63" stop-color="#482677"/><stop offset="0.70" stop-color="#46327e"/><stop offset="0.76" stop-color="#433e85"/><stop offset="0.81" stop-color="#3e4c8a"/><stop offset="0.86" stop-color="#375b8d"/><stop offset="0.90" stop-color="#32658e"/><stop offset="0.94" stop-color="#2e6e8e"/><stop offset="0.97" stop-color="#2c728e"/><stop offset="1.00" stop-color="#2c738e"/></linearGradient><linearGradient id="b28" x1="0" y1="0" x2="0" y2="1"><stop offset="0.00" stop-color="#470e61"/><stop offset="0.12" stop-color="#470e61"/><stop offset="0.24" stop-color="#471164"/><stop offset="0.36" stop-color="#481467"/><stop offset="0.46" stop-color="#48186a"/><stop offset="0.55" stop-color="#481d6f"/><stop offset="0.63" stop-color="#482677"/><stop offset="0.70" stop-color="#46327e"/><stop offset="0.76" stop-color="#423f85"/><stop offset="0.81" stop-color="#3d4d8a"/><stop offset="0.86" stop-color="#375b8d"/><stop offset="0.90" stop-color="#31668e"/><stop offset="0.94" stop-color="#2e6f8e"/><stop offset="0.97" stop-color="#2c728e"/><stop offset="1.00" stop-color="#2b748e"/></linearGradient><linearGradient id="b29" x1="0" y1="0" x2="0" y2="1"><stop offset="0.00" stop-color="#470e61"/><stop offset="0.12" stop-color="#470e61"/><stop offset="0.24" stop-color="#471164"/><stop offset="0.36" stop-color="#481467"/><stop offset="0.46" stop-color="#48186a"/><stop offset="0.55" stop-color="#481d6f"/><stop offset="0.63" stop-color="#482677"/><stop offset="0.70" stop-color="#46327e"/><stop offset="0.76" stop-color="#423f85"/><stop offset="0.81" stop-color="#3d4d8a"/><stop offset="0.86" stop-color="#365c8d"/><stop offset="0.90" stop-color="#31678e"/><stop offset="0.94" stop-color="#2d708e"/><stop offset="0.97" stop-color="#2c738e"/><stop offset="1.00" stop-color="#2b748e"/></linearGradient><linearGradient id="b30" x1="0" y1="0" x2="0" y2="1"><stop offset="0.00" stop-color="#470e61"/><stop offset="0.12" stop-color="#470e61"/><stop offset="0.24" stop-color="#471164"/><stop offset="0.36" stop-color="#481467"/><stop offset="0.46" stop-color="#48186a"/><stop offset="0.55" stop-color="#481d6f"/><stop offset="0.63" stop-color="#482677"/><stop offset="0.70" stop-color="#46327e"/><stop offset="0.76" stop-color="#423f85"/><stop offset="0.81" stop-color="#3d4d8a"/><stop offset="0.86" stop-color="#365c8d"/><stop offset="0.90" stop-color="#31678e"/><stop offset="0.94" stop-color="#2d708e"/><stop offset="0.97" stop-color="#2b748e"/><stop offset="1.00" stop-color="#2b758e"/></linearGradient><linearGradient id="b31" x1="0" y1="0" x2="0" y2="1"><stop offset="0.00" stop-color="#470e61"/><stop offset="0.12" stop-color="#470e61"/><stop offset="0.24" stop-color="#471164"/><stop offset="0.36" stop-color="#481467"/><stop offset="0.46" stop-color="#48186a"/><stop offset="0.55" stop-color="#481d6f"/><stop offset="0.63" stop-color="#482677"/><stop offset="0.70" stop-color="#46327e"/><stop offset="0.76" stop-color="#424086"/><stop offset="0.81" stop-color="#3d4e8a"/><stop offset="0.86" stop-color="#365d8d"/><stop offset="0.90" stop-color="#31688e"/><stop offset="0.94" stop-color="#2d718e"/><stop offset="0.97" stop-color="#2b758e"/><stop offset="1.00" stop-color="#2a768e"/></linearGradient><linearGradient id="b32" x1="0" y1="0" x2="0" y2="1"><stop offset="0.00" stop-color="#470e61"/><stop offset="0.12" stop-color="#470e61"/><stop offset="0.24" stop-color="#471164"/><stop offset="0.36" stop-color="#481467"/><stop offset="0.46" stop-color="#48186a"/><stop offset="0.55" stop-color="#481d6f"/><stop offset="0.63" stop-color="#482677"/><stop offset="0.70" stop-color="#46337f"/><stop offset="0.76" stop-color="#424086"/><stop offset="0.81" stop-color="#3d4e8a"/><stop offset="0.86" stop-color="#365d8d"/><stop offset="0.90" stop-color="#30698e"/><stop offset="0.94" stop-color="#2c718e"/><stop offset="0.97" stop-color="#2b758e"/><stop offset="1.00" stop-color="#2a778e"/></linearGradient><linearGradient id="b33" x1="0" y1="0" x2="0" y2="1"><stop offset="0.00" stop-color="#470e61"/><stop offset="0.12" stop-color="#471063"/><stop offset="0.24" stop-color="#471164"/><stop offset="0.36" stop-color="#481467"/><stop offset="0.46" stop-color="#48186a"/><stop offset="0.55" stop-color="#481f70"/><stop offset="0.63" stop-color="#482677"/><stop offset="0.70" stop-color="#46337f"/><stop offset="0.76" stop-color="#424086"/><stop offset="0.81" stop-color="#3c4f8a"/><stop offset="0.86" stop-color="#355e8d"/><stop offset="0.90" stop-color="#30698e"/><stop offset="0.94" stop-color="#2c728e"/><stop offset="0.97" stop-color="#2a768e"/><stop offset="1.00" stop-color="#2a788e"/></linearGradient><linearGradient id="b34" x1="0" y1="0" x2="0" y2="1"><stop offset="0.00" stop-color="#470e61"/><stop offset="0.12" stop-color="#471063"/><stop offset="0.24" stop-color="#471164"/><stop offset="0.36" stop-color="#481467"/><stop offset="0.46" stop-color="#48186a"/><stop offset="0.55" stop-color="#481f70"/><stop offset="0.63" stop-color="#482878"/><stop offset="0.70" stop-color="#46337f"/><stop offset="0.76" stop-color="#424186"/><stop offset="0.81" stop-color="#3c4f8a"/><stop offset="0.86" stop-color="#355f8d"/><stop offset="0.90" stop-color="#306a8e"/><stop offset="0.94" stop-color="#2c738e"/><stop offset="0.97" stop-color="#2a778e"/><stop offset="1.00" stop-color="#29798e"/></linearGradient><linearGradient id="b35" x1="0" y1="0" x2="0" y2="1"><stop offset="0.00" stop-color="#470e61"/><stop offset="0.12" stop-color="#471063"/><stop offset="0.24" stop-color="#471164"/><stop offset="0.36" stop-color="#481467"/><stop offset="0.46" stop-color="#48186a"/><stop offset="0.55" stop-color="#481f70"/><stop offset="0.63" stop-color="#482878"/><stop offset="0.70" stop-color="#46337f"/><stop offset="0.76" stop-color="#424186"/><stop offset="0.81" stop-color="#3c508b"/><stop offset="0.86" stop-color="#355f8d"/><stop offset="0.90" stop-color="#2f6b8e"/><stop offset="0.94" stop-color="#2c738e"/><stop offset="0.97" stop-color="#2a788e"/><stop offset="1.00" stop-color="#297a8e"/></linearGradient><linearGradient id="b36" x1="0" y1="0" x2="0" y2="1"><stop offset="0.00" stop-color="#470e61"/><stop offset="0.12" stop-color="#471063"/><stop offset="0.24" stop-color="#471164"/><stop offset="0.36" stop-color="#481467"/><stop offset="0.46" stop-color="#48186a"/><stop offset="0.55" stop-color="#481f70"/><stop offset="0.63" stop-color="#482878"/><stop offset="0.70" stop-color="#463480"/><stop offset="0.76" stop-color="#414287"/><stop offset="0.81" stop-color="#3c508b"/><stop offset="0.86" stop-color="#34608d"/><stop offset="0.90" stop-color="#2f6c8e"/><stop offset="0.94" stop-color="#2b748e"/><stop offset="0.97" stop-color="#29798e"/><stop offset="1.00" stop-color="#297b8e"/></linearGradient><linearGradient id="b37" x1="0" y1="0" x2="0" y2="1"><stop offset="0.00" stop-color="#470e61"/><stop offset="0.12" stop-color="#471063"/><stop offset="0.24" stop-color="#471164"/><stop offset="0.36" stop-color="#481467"/><stop offset="0.46" stop-color="#48186a"/><stop offset="0.55" stop-color="#481f70"/><stop offset="0.63" stop-color="#482878"/><stop offset="0.70" stop-color="#463480"/><stop offset="0.76" stop-color="#414287"/><stop offset="0.81" stop-color="#3b518b"/><stop offset="0.86" stop-color="#34618d"/><stop offset="0.90" stop-color="#2e6d8e"/><stop offset="0.94" stop-color="#2b758e"/><stop offset="0.97" stop-color="#297a8e"/><stop offset="1.00" stop-color="#287c8e"/></linearGradient><linearGradient id="b38" x1="0" y1="0" x2="0" y2="1"><stop offset="0.00" stop-color="#470e61"/><stop offset="0.12" stop-color="#471063"/><stop offset="0.24" stop-color="#471164"/><stop offset="0.36" stop-color="#481467"/><stop offset="0.46" stop-color="#48186a"/><stop offset="0.55" stop-color="#481f70"/><stop offset="0.63" stop-color="#482878"/><stop offset="0.70" stop-color="#463480"/><stop offset="0.76" stop-color="#414287"/><stop offset="0.81" stop-color="#3b518b"/><stop offset="0.86" stop-color="#34618d"/><stop offset="0.90" stop-color="#2e6d8e"/><stop offset="0.94" stop-color="#2a768e"/><stop offset="0.97" stop-color="#297b8e"/><stop offset="1.00" stop-color="#287d8e"/></linearGradient><linearGradient id="b39" x1="0" y1="0" x2="0" y2="1"><stop offset="0.00" stop-color="#470e61"/><stop offset="0.12" stop-color="#471063"/><stop offset="0.24" stop-color="#471164"/><stop offset="0.36" stop-color="#481467"/><stop offset="0.46" stop-color="#48186a"/><stop offset="0.55" stop-color="#481f70"/><stop offset="0.63" stop-color="#482979"/><stop offset="0.70" stop-color="#453581"/><stop offset="0.76" stop-color="#414487"/><stop offset="0.81" stop-color="#3b528b"/><stop offset="0.86" stop-color="#33628d"/><stop offset="0.90" stop-color="#2e6e8e"/><stop offset="0.94" stop-color="#2a778e"/><stop offset="0.97" stop-color="#287c8e"/><stop offset="1.00" stop-color="#277e8e"/></linearGradient><linearGradient id="b40" x1="0" y1="0" x2="0" y2="1"><stop offset="0.00" stop-color="#470e61"/><stop offset="0.12" stop-color="#471063"/><stop offset="0.24" stop-color="#471164"/><stop offset="0.36" stop-color="#481467"/><stop offset="0.46" stop-color="#48186a"/><stop offset="0.55" stop-color="#482071"/><stop offset="0.63" stop-color="#482979"/><stop offset="0.70" stop-color="#453581"/><stop offset="0.76" stop-color="#414487"/><stop offset="0.81" stop-color="#3a538b"/><stop offset="0.86" stop-color="#33638d"/><stop offset="0.90" stop-color="#2e6f8e"/><stop offset="0.94" stop-color="#2a788e"/><stop offset="0.97" stop-color="#287d8e"/><stop offset="1.00" stop-color="#277f8e"/></linearGradient><linearGradient id="b41" x1="0" y1="0" x2="0" y2="1"><stop offset="0.00" stop-color="#470e61"/><stop offset="0.12" stop-color="#471063"/><stop offset="0.24" stop-color="#471164"/><stop offset="0.36" stop-color="#481467"/><stop offset="0.46" stop-color="#481a6c"/><stop offset="0.55" stop-color="#482071"/><stop offset="0.63" stop-color="#482979"/><stop offset="0.70" stop-color="#453581"/><stop offset="0.76" stop-color="#404588"/><stop offset="0.81" stop-color="#3a538b"/><stop offset="0.86" stop-color="#32648e"/><stop offset="0.90" stop-color="#2d708e"/><stop offset="0.94" stop-color="#297a8e"/><stop offset="0.97" stop-color="#277f8e"/><stop offset="1.00" stop-color="#27808e"/></linearGradient><linearGradient id="b42" x1="0" y1="0" x2="0" y2="1"><stop offset="0.00" stop-color="#470e61"/><stop offset="0.12" stop-color="#471063"/><stop offset="0.24" stop-color="#471164"/><stop offset="0.36" stop-color="#481467"/><stop offset="0.46" stop-color="#481a6c"/><stop offset="0.55" stop-color="#482071"/><stop offset="0.63" stop-color="#482979"/><stop offset="0.70" stop-color="#453781"/><stop offset="0.76" stop-color="#404588"/><stop offset="0.81" stop-color="#3a548c"/><stop offset="0.86" stop-color="#32658e"/><stop offset="0.90" stop-color="#2d718e"/><stop offset="0.94" stop-color="#297b8e"/><stop offset="0.97" stop-color="#27808e"/><stop offset="1.00" stop-color="#26828e"/></linearGradient><linearGradient id="b43" x1="0" y1="0" x2="0" y2="1"><stop offset="0.00" stop-color="#470e61"/><stop offset="0.12" stop-color="#471063"/><stop offset="0.24" stop-color="#471164"/><stop offset="0.36" stop-color="#481467"/><stop offset="0.46" stop-color="#481a6c"/><stop offset="0.55" stop-color="#482071"/><stop offset="0.63" stop-color="#472a7a"/><stop offset="0.70" stop-color="#453781"/><stop offset="0.76" stop-color="#404688"/><stop offset="0.81" stop-color="#39558c"/><stop offset="0.86" stop-color="#31668e"/><stop offset="0.90" stop-color="#2c718e"/><stop offset="0.94" stop-color="#287c8e"/><stop offset="0.97" stop-color="#26818e"/><stop offset="1.00" stop-color="#26828e"/></linearGradient><linearGradient id="b44" x1="0" y1="0" x2="0" y2="1"><stop offset="0.00" stop-color="#470e61"/><stop offset="0.12" stop-color="#471063"/><stop offset="0.24" stop-color="#471164"/><stop offset="0.36" stop-color="#481467"/><stop offset="0.46" stop-color="#481a6c"/><stop offset="0.55" stop-color="#482071"/><stop offset="0.63" stop-color="#472a7a"/><stop offset="0.70" stop-color="#453781"/><stop offset="0.76" stop-color="#404688"/><stop offset="0.81" stop-color="#39558c"/><stop offset="0.86" stop-color="#31678e"/><stop offset="0.90" stop-color="#2c728e"/><stop offset="0.94" stop-color="#287d8e"/><stop offset="0.97" stop-color="#26828e"/><stop offset="1.00" stop-color="#25838e"/></linearGradient><linearGradient id="b45" x1="0" y1="0" x2="0" y2="1"><stop offset="0.00" stop-color="#470e61"/><stop offset="0.12" stop-color="#471063"/><stop offset="0.24" stop-color="#471164"/><stop offset="0.36" stop-color="#481668"/><stop offset="0.46" stop-color="#481a6c"/><stop offset="0.55" stop-color="#482071"/><stop offset="0.63" stop-color="#472a7a"/><stop offset="0.70" stop-color="#453882"/><stop offset="0.76" stop-color="#3f4788"/><stop offset="0.81" stop-color="#39568c"/><stop offset="0.86" stop-color="#31678e"/><stop offset="0.90" stop-color="#2b748e"/><stop offset="0.94" stop-color="#277e8e"/><stop offset="0.97" stop-color="#25838e"/><stop offset="1.00" stop-color="#25848e"/></linearGradient><linearGradient id="b46" x1="0" y1="0" x2="0" y2="1"><stop offset="0.00" stop-color="#470e61"/><stop offset="0.12" stop-color="#471063"/><stop offset="0.24" stop-color="#471164"/><stop offset="0.36" stop-color="#481668"/><stop offset="0.46" stop-color="#481a6c"/><stop offset="0.55" stop-color="#482071"/><stop offset="0.63" stop-color="#472a7a"/><stop offset="0.70" stop-color="#453882"/><stop offset="0.76" stop-color="#3f4788"/><stop offset="0.81" stop-color="#38588c"/><stop offset="0.86" stop-color="#31688e"/><stop offset="0.90" stop-color="#2b758e"/><stop offset="0.94" stop-color="#27808e"/><stop offset="0.97" stop-color="#25848e"/><stop offset="1.00" stop-color="#24868e"/></linearGradient><linearGradient id="b47" x1="0" y1="0" x2="0" y2="1"><stop offset="0.00" stop-color="#470e61"/><stop offset="0.12" stop-color="#471063"/><stop offset="0.24" stop-color="#471164"/><stop offset="0.36" stop-color="#481668"/><stop offset="0.46" stop-color="#481a6c"/><stop offset="0.55" stop-color="#482173"/><stop offset="0.63" stop-color="#472c7a"/><stop offset="0.70" stop-color="#453882"/><stop offset="0.76" stop-color="#3f4889"/><stop offset="0.81" stop-color="#38588c"/><stop offset="0.86" stop-color="#30698e"/><stop offset="0.90" stop-color="#2a768e"/><stop offset="0.94" stop-color="#26818e"/><stop offset="0.97" stop-color="#25858e"/><stop offset="1.00" stop-color="#24878e"/></linearGradient><linearGradient id="b48" x1="0" y1="0" x2="0" y2="1"><stop offset="0.00" stop-color="#470e61"/><stop offset="0.12" stop-color="#471063"/><stop offset="0.24" stop-color="#471164"/><stop offset="0.36" stop-color="#481668"/><stop offset="0.46" stop-color="#481a6c"/><stop offset="0.55" stop-color="#482173"/><stop offset="0.63" stop-color="#472c7a"/><stop offset="0.70" stop-color="#443983"/><stop offset="0.76" stop-color="#3f4889"/><stop offset="0.81" stop-color="#38598c"/><stop offset="0.86" stop-color="#306a8e"/><stop offset="0.90" stop-color="#2a778e"/><stop offset="0.94" stop-color="#26828e"/><stop offset="0.97" stop-color="#24878e"/><stop offset="1.00" stop-color="#23888e"/></linearGradient><linearGradient id="b49" x1="0" y1="0" x2="0" y2="1"><stop offset="0.00" stop-color="#470e61"/><stop offset="0.12" stop-color="#471063"/><stop offset="0.24" stop-color="#471164"/><stop offset="0.36" stop-color="#481668"/><stop offset="0.46" stop-color="#481a6c"/><stop offset="0.55" stop-color="#482173"/><stop offset="0.63" stop-color="#472c7a"/><stop offset="0.70" stop-color="#443983"/><stop offset="0.76" stop-color="#3e4989"/><stop offset="0.81" stop-color="#375a8c"/><stop offset="0.86" stop-color="#2f6b8e"/><stop offset="0.90" stop-color="#2a788e"/><stop offset="0.94" stop-color="#26828e"/><stop offset="0.97" stop-color="#23888e"/><stop offset="1.00" stop-color="#238a8d"/></linearGradient><linearGradient id="b50" x1="0" y1="0" x2="0" y2="1"><stop offset="0.00" stop-color="#470e61"/><stop offset="0.12" stop-color="#471063"/><stop offset="0.24" stop-color="#471164"/><stop offset="0.36" stop-color="#481668"/><stop offset="0.46" stop-color="#481a6c"/><stop offset="0.55" stop-color="#482173"/><stop offset="0.63" stop-color="#472c7a"/><stop offset="0.70" stop-color="#443a83"/><stop offset="0.76" stop-color="#3e4989"/><stop offset="0.81" stop-color="#375b8d"/><stop offset="0.86" stop-color="#2f6c8e"/><stop offset="0.90" stop-color="#29798e"/><stop offset="0.94" stop-color="#25848e"/><stop offset="0.97" stop-color="#23898e"/><stop offset="1.00" stop-color="#228b8d"/></linearGradient><linearGradient id="b51" x1="0" y1="0" x2="0" y2="1"><stop offset="0.00" stop-color="#470e61"/><stop offset="0.12" stop-color="#471063"/><stop offset="0.24" stop-color="#471164"/><stop offset="0.36" stop-color="#481668"/><stop offset="0.46" stop-color="#481b6d"/><stop offset="0.55" stop-color="#482173"/><stop offset="0.63" stop-color="#472c7a"/><stop offset="0.70" stop-color="#443a83"/><stop offset="0.76" stop-color="#3e4a89"/><stop offset="0.81" stop-color="#375b8d"/><stop offset="0.86" stop-color="#2e6d8e"/><stop offset="0.90" stop-color="#297a8e"/><stop offset="0.94" stop-color="#25858e"/><stop offset="0.97" stop-color="#228b8d"/><stop offset="1.00" stop-color="#228d8d"/></linearGradient><linearGradient id="b52" x1="0" y1="0" x2="0" y2="1"><stop offset="0.00" stop-color="#470e61"/><stop offset="0.12" stop-color="#471063"/><stop offset="0.24" stop-color="#471164"/><stop offset="0.36" stop-color="#481668"/><stop offset="0.46" stop-color="#481b6d"/><stop offset="0.55" stop-color="#482173"/><stop offset="0.63" stop-color="#472d7b"/><stop offset="0.70" stop-color="#443a83"/><stop offset="0.76" stop-color="#3e4a89"/><stop offset="0.81" stop-color="#365c8d"/><stop offset="0.86" stop-color="#2e6e8e"/><stop offset="0.90" stop-color="#297b8e"/><stop offset="0.94" stop-color="#24868e"/><stop offset="0.97" stop-color="#228c8d"/><stop offset="1.00" stop-color="#218e8d"/></linearGradient><linearGradient id="b53" x1="0" y1="0" x2="0" y2="1"><stop offset="0.00" stop-color="#470e61"/><stop offset="0.12" stop-color="#471063"/><stop offset="0.24" stop-color="#471164"/><stop offset="0.36" stop-color="#481668"/><stop offset="0.46" stop-color="#481b6d"/><stop offset="0.55" stop-color="#482173"/><stop offset="0.63" stop-color="#472d7b"/><stop offset="0.70" stop-color="#443b84"/><stop offset="0.76" stop-color="#3e4c8a"/><stop offset="0.81" stop-color="#365d8d"/><stop offset="0.86" stop-color="#2e6f8e"/><stop offset="0.90" stop-color="#287c8e"/><stop offset="0.94" stop-color="#24878e"/><stop offset="0.97" stop-color="#228d8d"/><stop offset="1.00" stop-color="#218f8d"/></linearGradient><linearGradient id="b54" x1="0" y1="0" x2="0" y2="1"><stop offset="0.00" stop-color="#470e61"/><stop offset="0.12" stop-color="#471063"/><stop offset="0.24" stop-color="#471164"/><stop offset="0.36" stop-color="#481668"/><stop offset="0.46" stop-color="#481b6d"/><stop offset="0.55" stop-color="#482374"/><stop offset="0.63" stop-color="#472d7b"/><stop offset="0.70" stop-color="#443b84"/><stop offset="0.76" stop-color="#3e4c8a"/><stop offset="0.81" stop-color="#365d8d"/><stop offset="0.86" stop-color="#2d708e"/><stop offset="0.90" stop-color="#287d8e"/><stop offset="0.94" stop-color="#23898e"/><stop offset="0.97" stop-color="#218e8d"/><stop offset="1.00" stop-color="#21918c"/></linearGradient><linearGradient id="b55" x1="0" y1="0" x2="0" y2="1"><stop offset="0.00" stop-color="#470e61"/><stop offset="0.12" stop-color="#471063"/><stop offset="0.24" stop-color="#471164"/><stop offset="0.36" stop-color="#481668"/><stop offset="0.46" stop-color="#481b6d"/><stop offset="0.55" stop-color="#482374"/><stop offset="0.63" stop-color="#472d7b"/><stop offset="0.70" stop-color="#443b84"/><stop offset="0.76" stop-color="#3d4d8a"/><stop offset="0.81" stop-color="#355e8d"/><stop offset="0.86" stop-color="#2d708e"/><stop offset="0.90" stop-color="#277e8e"/><stop offset="0.94" stop-color="#238a8d"/><stop offset="0.97" stop-color="#21908d"/><stop offset="1.00" stop-color="#20928c"/></linearGradient><linearGradient id="b56" x1="0" y1="0" x2="0" y2="1"><stop offset="0.00" stop-color="#470e61"/><stop offset="0.12" stop-color="#471063"/><stop offset="0.24" stop-color="#471365"/><stop offset="0.36" stop-color="#481668"/><stop offset="0.46" stop-color="#481b6d"/><stop offset="0.55" stop-color="#482374"/><stop offset="0.63" stop-color="#472e7c"/><stop offset="0.70" stop-color="#433d84"/><stop offset="0.76" stop-color="#3d4d8a"/><stop offset="0.81" stop-color="#355f8d"/><stop offset="0.86" stop-color="#2d718e"/><stop offset="0.90" stop-color="#277f8e"/><stop offset="0.94" stop-color="#228b8d"/><stop offset="0.97" stop-color="#21918c"/><stop offset="1.00" stop-color="#20928c"/></linearGradient><linearGradient id="b57" x1="0" y1="0" x2="0" y2="1"><stop offset="0.00" stop-color="#470e61"/><stop offset="0.12" stop-color="#471063"/><stop offset="0.24" stop-color="#471365"/><stop offset="0.36" stop-color="#481668"/><stop offset="0.46" stop-color="#481b6d"/><stop offset="0.55" stop-color="#482374"/><stop offset="0.63" stop-color="#472e7c"/><stop offset="0.70" stop-color="#433d84"/><stop offset="0.76" stop-color="#3d4e8a"/><stop offset="0.81" stop-color="#355f8d"/><stop offset="0.86" stop-color="#2c718e"/><stop offset="0.90" stop-color="#26818e"/><stop offset="0.94" stop-color="#228c8d"/><stop offset="0.97" stop-color="#20928c"/><stop offset="1.00" stop-color="#1f948c"/></linearGradient><linearGradient id="b58" x1="0" y1="0" x2="0" y2="1"><stop offset="0.00" stop-color="#470e61"/><stop offset="0.12" stop-color="#471063"/><stop offset="0.24" stop-color="#471365"/><stop offset="0.36" stop-color="#481668"/><stop offset="0.46" stop-color="#481b6d"/><stop offset="0.55" stop-color="#482374"/><stop offset="0.63" stop-color="#472e7c"/><stop offset="0.70" stop-color="#433d84"/><stop offset="0.76" stop-color="#3c4f8a"/><stop offset="0.81" stop-color="#34608d"/><stop offset="0.86" stop-color="#2c728e"/><stop offset="0.90" stop-color="#26828e"/><stop offset="0.94" stop-color="#218e8d"/><stop offset="0.97" stop-color="#20938c"/><stop offset="1.00" stop-color="#1f958b"/></linearGradient><linearGradient id="b59" x1="0" y1="0" x2="0" y2="1"><stop offset="0.00" stop-color="#470e61"/><stop offset="0.12" stop-color="#471063"/><stop offset="0.24" stop-color="#471365"/><stop offset="0.36" stop-color="#481668"/><stop offset="0.46" stop-color="#481b6d"/><stop offset="0.55" stop-color="#482374"/><stop offset="0.63" stop-color="#472e7c"/><stop offset="0.70" stop-color="#433e85"/><stop offset="0.76" stop-color="#3c4f8a"/><stop offset="0.81" stop-color="#34618d"/><stop offset="0.86" stop-color="#2c738e"/><stop offset="0.90" stop-color="#26828e"/><stop offset="0.94" stop-color="#218f8d"/><stop offset="0.97" stop-color="#1f948c"/><stop offset="1.00" stop-color="#1f978b"/></linearGradient><linearGradient id="b60" x1="0" y1="0" x2="0" y2="1"><stop offset="0.00" stop-color="#470e61"/><stop offset="0.12" stop-color="#471063"/><stop offset="0.24" stop-color="#471365"/><stop offset="0.36" stop-color="#481668"/><stop offset="0.46" stop-color="#481b6d"/><stop offset="0.55" stop-color="#482374"/><stop offset="0.63" stop-color="#472f7d"/><stop offset="0.70" stop-color="#433e85"/><stop offset="0.76" stop-color="#3c508b"/><stop offset="0.81" stop-color="#33628d"/><stop offset="0.86" stop-color="#2b748e"/><stop offset="0.90" stop-color="#25838e"/><stop offset="0.94" stop-color="#21908d"/><stop offset="0.97" stop-color="#1f968b"/><stop offset="1.00" stop-color="#1f988b"/></linearGradient><linearGradient id="b61" x1="0" y1="0" x2="0" y2="1"><stop offset="0.00" stop-color="#470e61"/><stop offset="0.12" stop-color="#471063"/><stop offset="0.24" stop-color="#471365"/><stop offset="0.36" stop-color="#481668"/><stop offset="0.46" stop-color="#481b6d"/><stop offset="0.55" stop-color="#482475"/><stop offset="0.63" stop-color="#472f7d"/><stop offset="0.70" stop-color="#433e85"/><stop offset="0.76" stop-color="#3c508b"/><stop offset="0.81" stop-color="#33628d"/><stop offset="0.86" stop-color="#2b758e"/><stop offset="0.90" stop-color="#25848e"/><stop offset="0.94" stop-color="#20928c"/><stop offset="0.97" stop-color="#1f978b"/><stop offset="1.00" stop-color="#1f9a8a"/></linearGradient><linearGradient id="b62" x1="0" y1="0" x2="0" y2="1"><stop offset="0.00" stop-color="#470e61"/><stop offset="0.12" stop-color="#471063"/><stop offset="0.24" stop-color="#471365"/><stop offset="0.36" stop-color="#481668"/><stop offset="0.46" stop-color="#481c6e"/><stop offset="0.55" stop-color="#482475"/><stop offset="0.63" stop-color="#472f7d"/><stop offset="0.70" stop-color="#423f85"/><stop offset="0.76" stop-color="#3b518b"/><stop offset="0.81" stop-color="#33638d"/><stop offset="0.86" stop-color="#2a768e"/><stop offset="0.90" stop-color="#24868e"/><stop offset="0.94" stop-color="#20928c"/><stop offset="0.97" stop-color="#1f998a"/><stop offset="1.00" stop-color="#1e9b8a"/></linearGradient><linearGradient id="b63" x1="0" y1="0" x2="0" y2="1"><stop offset="0.00" stop-color="#470e61"/><stop offset="0.12" stop-color="#471063"/><stop offset="0.24" stop-color="#471365"/><stop offset="0.36" stop-color="#481769"/><stop offset="0.46" stop-color="#481c6e"/><stop offset="0.55" stop-color="#482475"/><stop offset="0.63" stop-color="#472f7d"/><stop offset="0.70" stop-color="#423f85"/><stop offset="0.76" stop-color="#3b518b"/><stop offset="0.81" stop-color="#32648e"/><stop offset="0.86" stop-color="#2a778e"/><stop offset="0.90" stop-color="#24878e"/><stop offset="0.94" stop-color="#1f948c"/><stop offset="0.97" stop-color="#1e9b8a"/><stop offset="1.00" stop-color="#1e9d89"/></linearGradient><linearGradient id="b64" x1="0" y1="0" x2="0" y2="1"><stop offset="0.00" stop-color="#470e61"/><stop offset="0.12" stop-color="#471063"/><stop offset="0.24" stop-color="#471365"/><stop offset="0.36" stop-color="#481769"/><stop offset="0.46" stop-color="#481c6e"/><stop offset="0.55" stop-color="#482475"/><stop offset="0.63" stop-color="#46307e"/><stop offset="0.70" stop-color="#424086"/><stop offset="0.76" stop-color="#3b528b"/><stop offset="0.81" stop-color="#32658e"/><stop offset="0.86" stop-color="#29798e"/><stop offset="0.90" stop-color="#23888e"/><stop offset="0.94" stop-color="#1f968b"/><stop offset="0.97" stop-color="#1e9c89"/><stop offset="1.00" stop-color="#1f9f88"/></linearGradient><linearGradient id="b65" x1="0" y1="0" x2="0" y2="1"><stop offset="0.00" stop-color="#470e61"/><stop offset="0.12" stop-color="#471063"/><stop offset="0.24" stop-color="#471365"/><stop offset="0.36" stop-color="#481769"/><stop offset="0.46" stop-color="#481c6e"/><stop offset="0.55" stop-color="#482475"/><stop offset="0.63" stop-color="#46307e"/><stop offset="0.70" stop-color="#424086"/><stop offset="0.76" stop-color="#3a538b"/><stop offset="0.81" stop-color="#31668e"/><stop offset="0.86" stop-color="#297a8e"/><stop offset="0.90" stop-color="#238a8d"/><stop offset="0.94" stop-color="#1f978b"/><stop offset="0.97" stop-color="#1f9e89"/><stop offset="1.00" stop-color="#1fa188"/></linearGradient><linearGradient id="b66" x1="0" y1="0" x2="0" y2="1"><stop offset="0.00" stop-color="#470e61"/><stop offset="0.12" stop-color="#471063"/><stop offset="0.24" stop-color="#471365"/><stop offset="0.36" stop-color="#481769"/><stop offset="0.46" stop-color="#481c6e"/><stop offset="0.55" stop-color="#482576"/><stop offset="0.63" stop-color="#46307e"/><stop offset="0.70" stop-color="#424186"/><stop offset="0.76" stop-color="#3a538b"/><stop offset="0.81" stop-color="#31678e"/><stop offset="0.86" stop-color="#297b8e"/><stop offset="0.90" stop-color="#228b8d"/><stop offset="0.94" stop-color="#1f998a"/><stop offset="0.97" stop-color="#1fa088"/><stop offset="1.00" stop-color="#1fa187"/></linearGradient><linearGradient id="b67" x1="0" y1="0" x2="0" y2="1"><stop offset="0.00" stop-color="#470e61"/><stop offset="0.12" stop-color="#471063"/><stop offset="0.24" stop-color="#471365"/><stop offset="0.36" stop-color="#481769"/><stop offset="0.46" stop-color="#481c6e"/><stop offset="0.55" stop-color="#482576"/><stop offset="0.63" stop-color="#46327e"/><stop offset="0.70" stop-color="#424186"/><stop offset="0.76" stop-color="#3a548c"/><stop offset="0.81" stop-color="#31688e"/><stop offset="0.86" stop-color="#287c8e"/><stop offset="0.90" stop-color="#228d8d"/><stop offset="0.94" stop-color="#1e9b8a"/><stop offset="0.97" stop-color="#1fa187"/><stop offset="1.00" stop-color="#20a386"/></linearGradient><linearGradient id="b68" x1="0" y1="0" x2="0" y2="1"><stop offset="0.00" stop-color="#470e61"/><stop offset="0.12" stop-color="#471063"/><stop offset="0.24" stop-color="#471365"/><stop offset="0.36" stop-color="#481769"/><stop offset="0.46" stop-color="#481c6e"/><stop offset="0.55" stop-color="#482576"/><stop offset="0.63" stop-color="#46327e"/><stop offset="0.70" stop-color="#414287"/><stop offset="0.76" stop-color="#39558c"/><stop offset="0.81" stop-color="#30698e"/><stop offset="0.86" stop-color="#277e8e"/><stop offset="0.90" stop-color="#218f8d"/><stop offset="0.94" stop-color="#1e9d89"/><stop offset="0.97" stop-color="#20a386"/><stop offset="1.00" stop-color="#21a585"/></linearGradient><linearGradient id="b69" x1="0" y1="0" x2="0" y2="1"><stop offset="0.00" stop-color="#470e61"/><stop offset="0.12" stop-color="#471063"/><stop offset="0.24" stop-color="#471365"/><stop offset="0.36" stop-color="#481769"/><stop offset="0.46" stop-color="#481c6e"/><stop offset="0.55" stop-color="#482576"/><stop offset="0.63" stop-color="#46327e"/><stop offset="0.70" stop-color="#414287"/><stop offset="0.76" stop-color="#39568c"/><stop offset="0.81" stop-color="#306a8e"/><stop offset="0.86" stop-color="#277f8e"/><stop offset="0.90" stop-color="#21918c"/><stop offset="0.94" stop-color="#1f9f88"/><stop offset="0.97" stop-color="#21a585"/><stop offset="1.00" stop-color="#22a884"/></linearGradient><linearGradient id="b70" x1="0" y1="0" x2="0" y2="1"><stop offset="0.00" stop-color="#470e61"/><stop offset="0.12" stop-color="#471063"/><stop offset="0.24" stop-color="#471365"/><stop offset="0.36" stop-color="#481769"/><stop offset="0.46" stop-color="#481d6f"/><stop offset="0.55" stop-color="#482576"/><stop offset="0.63" stop-color="#46337f"/><stop offset="0.70" stop-color="#414487"/><stop offset="0.76" stop-color="#38588c"/><stop offset="0.81" stop-color="#2f6b8e"/><stop offset="0.86" stop-color="#26818e"/><stop offset="0.90" stop-color="#20928c"/><stop offset="0.94" stop-color="#1fa188"/><stop offset="0.97" stop-color="#22a884"/><stop offset="1.00" stop-color="#25ab82"/></linearGradient><linearGradient id="b71" x1="0" y1="0" x2="0" y2="1"><stop offset="0.00" stop-color="#470e61"/><stop offset="0.12" stop-color="#471063"/><stop offset="0.24" stop-color="#471365"/><stop offset="0.36" stop-color="#481769"/><stop offset="0.46" stop-color="#481d6f"/><stop offset="0.55" stop-color="#482677"/><stop offset="0.63" stop-color="#46337f"/><stop offset="0.70" stop-color="#404588"/><stop offset="0.76" stop-color="#38598c"/><stop offset="0.81" stop-color="#2e6d8e"/><stop offset="0.86" stop-color="#26828e"/><stop offset="0.90" stop-color="#1f948c"/><stop offset="0.94" stop-color="#20a386"/><stop offset="0.97" stop-color="#25ab82"/><stop offset="1.00" stop-color="#26ad81"/></linearGradient><linearGradient id="b72" x1="0" y1="0" x2="0" y2="1"><stop offset="0.00" stop-color="#470e61"/><stop offset="0.12" stop-color="#471164"/><stop offset="0.24" stop-color="#471365"/><stop offset="0.36" stop-color="#481769"/><stop offset="0.46" stop-color="#481d6f"/><stop offset="0.55" stop-color="#482677"/><stop offset="0.63" stop-color="#463480"/><stop offset="0.70" stop-color="#404588"/><stop offset="0.76" stop-color="#375a8c"/><stop offset="0.81" stop-color="#2e6e8e"/><stop offset="0.86" stop-color="#25848e"/><stop offset="0.90" stop-color="#1f968b"/><stop offset="0.94" stop-color="#21a685"/><stop offset="0.97" stop-color="#26ad81"/><stop offset="1.00" stop-color="#29af7f"/></linearGradient><linearGradient id="b73" x1="0" y1="0" x2="0" y2="1"><stop offset="0.00" stop-color="#471063"/><stop offset="0.12" stop-color="#471164"/><stop offset="0.24" stop-color="#471365"/><stop offset="0.36" stop-color="#48186a"/><stop offset="0.46" stop-color="#481d6f"/><stop offset="0.55" stop-color="#482677"/><stop offset="0.63" stop-color="#463480"/><stop offset="0.70" stop-color="#404688"/><stop offset="0.76" stop-color="#375b8d"/><stop offset="0.81" stop-color="#2d708e"/><stop offset="0.86" stop-color="#24868e"/><stop offset="0.90" stop-color="#1f998a"/><stop offset="0.94" stop-color="#22a884"/><stop offset="0.97" stop-color="#29af7f"/><stop offset="1.00" stop-color="#2db27d"/></linearGradient><linearGradient id="b74" x1="0" y1="0" x2="0" y2="1"><stop offset="0.00" stop-color="#471063"/><stop offset="0.12" stop-color="#471164"/><stop offset="0.24" stop-color="#471365"/><stop offset="0.36" stop-color="#48186a"/><stop offset="0.46" stop-color="#481d6f"/><stop offset="0.55" stop-color="#482878"/><stop offset="0.63" stop-color="#453581"/><stop offset="0.70" stop-color="#3f4788"/><stop offset="0.76" stop-color="#365c8d"/><stop offset="0.81" stop-color="#2d718e"/><stop offset="0.86" stop-color="#23888e"/><stop offset="0.90" stop-color="#1e9b8a"/><stop offset="0.94" stop-color="#25ab82"/><stop offset="0.97" stop-color="#2db27d"/><stop offset="1.00" stop-color="#31b57b"/></linearGradient><linearGradient id="b75" x1="0" y1="0" x2="0" y2="1"><stop offset="0.00" stop-color="#471063"/><stop offset="0.12" stop-color="#471164"/><stop offset="0.24" stop-color="#481467"/><stop offset="0.36" stop-color="#48186a"/><stop offset="0.46" stop-color="#481f70"/><stop offset="0.55" stop-color="#482878"/><stop offset="0.63" stop-color="#453581"/><stop offset="0.70" stop-color="#3f4889"/><stop offset="0.76" stop-color="#365d8d"/><stop offset="0.81" stop-color="#2c718e"/><stop offset="0.86" stop-color="#238a8d"/><stop offset="0.90" stop-color="#1e9d89"/><stop offset="0.94" stop-color="#26ad81"/><stop offset="0.97" stop-color="#31b57b"/><stop offset="1.00" stop-color="#35b779"/></linearGradient><linearGradient id="b76" x1="0" y1="0" x2="0" y2="1"><stop offset="0.00" stop-color="#471063"/><stop offset="0.12" stop-color="#471164"/><stop offset="0.24" stop-color="#481467"/><stop offset="0.36" stop-color="#48186a"/><stop offset="0.46" stop-color="#481f70"/><stop offset="0.55" stop-color="#482878"/><stop offset="0.63" stop-color="#453781"/><stop offset="0.70" stop-color="#3f4889"/><stop offset="0.76" stop-color="#355e8d"/><stop offset="0.81" stop-color="#2c738e"/><stop offset="0.86" stop-color="#228b8d"/><stop offset="0.90" stop-color="#1f9f88"/><stop offset="0.94" stop-color="#29af7f"/><stop offset="0.97" stop-color="#34b679"/><stop offset="1.00" stop-color="#3aba76"/></linearGradient><linearGradient id="b77" x1="0" y1="0" x2="0" y2="1"><stop offset="0.00" stop-color="#471063"/><stop offset="0.12" stop-color="#471164"/><stop offset="0.24" stop-color="#481467"/><stop offset="0.36" stop-color="#48186a"/><stop offset="0.46" stop-color="#481f70"/><stop offset="0.55" stop-color="#482979"/><stop offset="0.63" stop-color="#453781"/><stop offset="0.70" stop-color="#3e4989"/><stop offset="0.76" stop-color="#355f8d"/><stop offset="0.81" stop-color="#2b748e"/><stop offset="0.86" stop-color="#228d8d"/><stop offset="0.90" stop-color="#1fa188"/><stop offset="0.94" stop-color="#2cb17e"/><stop offset="0.97" stop-color="#38b977"/><stop offset="1.00" stop-color="#3dbc74"/></linearGradient><linearGradient id="b78" x1="0" y1="0" x2="0" y2="1"><stop offset="0.00" stop-color="#471063"/><stop offset="0.12" stop-color="#471164"/><stop offset="0.24" stop-color="#481467"/><stop offset="0.36" stop-color="#48186a"/><stop offset="0.46" stop-color="#481f70"/><stop offset="0.55" stop-color="#482979"/><stop offset="0.63" stop-color="#453781"/><stop offset="0.70" stop-color="#3e4a89"/><stop offset="0.76" stop-color="#34608d"/><stop offset="0.81" stop-color="#2b758e"/><stop offset="0.86" stop-color="#218f8d"/><stop offset="0.90" stop-color="#1fa287"/><stop offset="0.94" stop-color="#2eb37c"/><stop offset="0.97" stop-color="#3bbb75"/><stop offset="1.00" stop-color="#40bd72"/></linearGradient><linearGradient id="b79" x1="0" y1="0" x2="0" y2="1"><stop offset="0.00" stop-color="#471063"/><stop offset="0.12" stop-color="#471164"/><stop offset="0.24" stop-color="#481467"/><stop offset="0.36" stop-color="#48186a"/><stop offset="0.46" stop-color="#481f70"/><stop offset="0.55" stop-color="#482979"/><stop offset="0.63" stop-color="#453882"/><stop offset="0.70" stop-color="#3e4a89"/><stop offset="0.76" stop-color="#34618d"/><stop offset="0.81" stop-color="#2a768e"/><stop offset="0.86" stop-color="#21908d"/><stop offset="0.90" stop-color="#20a486"/><stop offset="0.94" stop-color="#32b67a"/><stop offset="0.97" stop-color="#40bd72"/><stop offset="1.00" stop-color="#46c06f"/></linearGradient><linearGradient id="b80" x1="0" y1="0" x2="0" y2="1"><stop offset="0.00" stop-color="#471063"/><stop offset="0.12" stop-color="#471164"/><stop offset="0.24" stop-color="#481467"/><stop offset="0.36" stop-color="#48186a"/><stop offset="0.46" stop-color="#481f70"/><stop offset="0.55" stop-color="#482979"/><stop offset="0.63" stop-color="#453882"/><stop offset="0.70" stop-color="#3e4c8a"/><stop offset="0.76" stop-color="#33628d"/><stop offset="0.81" stop-color="#2a788e"/><stop offset="0.86" stop-color="#20928c"/><stop offset="0.90" stop-color="#21a685"/><stop offset="0.94" stop-color="#35b779"/><stop offset="0.97" stop-color="#44bf70"/><stop offset="1.00" stop-color="#4ac16d"/></linearGradient><linearGradient id="b81" x1="0" y1="0" x2="0" y2="1"><stop offset="0.00" stop-color="#471063"/><stop offset="0.12" stop-color="#471164"/><stop offset="0.24" stop-color="#481467"/><stop offset="0.36" stop-color="#48186a"/><stop offset="0.46" stop-color="#482071"/><stop offset="0.55" stop-color="#472a7a"/><stop offset="0.63" stop-color="#453882"/><stop offset="0.70" stop-color="#3e4c8a"/><stop offset="0.76" stop-color="#33628d"/><stop offset="0.81" stop-color="#29798e"/><stop offset="0.86" stop-color="#20928c"/><stop offset="0.90" stop-color="#22a884"/><stop offset="0.94" stop-color="#38b977"/><stop offset="0.97" stop-color="#48c16e"/><stop offset="1.00" stop-color="#4ec36b"/></linearGradient><linearGradient id="b82" x1="0" y1="0" x2="0" y2="1"><stop offset="0.00" stop-color="#471063"/><stop offset="0.12" stop-color="#471164"/><stop offset="0.24" stop-color="#481467"/><stop offset="0.36" stop-color="#48186a"/><stop offset="0.46" stop-color="#482071"/><stop offset="0.55" stop-color="#472a7a"/><stop offset="0.63" stop-color="#443983"/><stop offset="0.70" stop-color="#3d4d8a"/><stop offset="0.76" stop-color="#33638d"/><stop offset="0.81" stop-color="#297a8e"/><stop offset="0.86" stop-color="#1f948c"/><stop offset="0.90" stop-color="#24aa83"/><stop offset="0.94" stop-color="#3bbb75"/><stop offset="0.97" stop-color="#4cc26c"/><stop offset="1.00" stop-color="#54c568"/></linearGradient><linearGradient id="b83" x1="0" y1="0" x2="0" y2="1"><stop offset="0.00" stop-color="#471063"/><stop offset="0.12" stop-color="#471164"/><stop offset="0.24" stop-color="#481467"/><stop offset="0.36" stop-color="#481a6c"/><stop offset="0.46" stop-color="#482071"/><stop offset="0.55" stop-color="#472a7a"/><stop offset="0.63" stop-color="#443983"/><stop offset="0.70" stop-color="#3d4d8a"/><stop offset="0.76" stop-color="#32648e"/><stop offset="0.81" stop-color="#297b8e"/><stop offset="0.86" stop-color="#1f958b"/><stop offset="0.90" stop-color="#25ab82"/><stop offset="0.94" stop-color="#3fbc73"/><stop offset="0.97" stop-color="#52c569"/><stop offset="1.00" stop-color="#58c765"/></linearGradient><linearGradient id="b84" x1="0" y1="0" x2="0" y2="1"><stop offset="0.00" stop-color="#471063"/><stop offset="0.12" stop-color="#471164"/><stop offset="0.24" stop-color="#481467"/><stop offset="0.36" stop-color="#481a6c"/><stop offset="0.46" stop-color="#482071"/><stop offset="0.55" stop-color="#472a7a"/><stop offset="0.63" stop-color="#443983"/><stop offset="0.70" stop-color="#3d4e8a"/><stop offset="0.76" stop-color="#32658e"/><stop offset="0.81" stop-color="#287c8e"/><stop offset="0.86" stop-color="#1f978b"/><stop offset="0.90" stop-color="#26ad81"/><stop offset="0.94" stop-color="#42be71"/><stop offset="0.97" stop-color="#56c667"/><stop offset="1.00" stop-color="#5cc863"/></linearGradient><linearGradient id="b85" x1="0" y1="0" x2="0" y2="1"><stop offset="0.00" stop-color="#471063"/><stop offset="0.12" stop-color="#471164"/><stop offset="0.24" stop-color="#481467"/><stop offset="0.36" stop-color="#481a6c"/><stop offset="0.46" stop-color="#482071"/><stop offset="0.55" stop-color="#472a7a"/><stop offset="0.63" stop-color="#443a83"/><stop offset="0.70" stop-color="#3d4e8a"/><stop offset="0.76" stop-color="#32658e"/><stop offset="0.81" stop-color="#287d8e"/><stop offset="0.86" stop-color="#1f988b"/><stop offset="0.90" stop-color="#28ae80"/><stop offset="0.94" stop-color="#46c06f"/><stop offset="0.97" stop-color="#5ac864"/><stop offset="1.00" stop-color="#60ca60"/></linearGradient><linearGradient id="b86" x1="0" y1="0" x2="0" y2="1"><stop offset="0.00" stop-color="#471063"/><stop offset="0.12" stop-color="#471164"/><stop offset="0.24" stop-color="#481467"/><stop offset="0.36" stop-color="#481a6c"/><stop offset="0.46" stop-color="#482071"/><stop offset="0.55" stop-color="#472c7a"/><stop offset="0.63" stop-color="#443a83"/><stop offset="0.70" stop-color="#3c4f8a"/><stop offset="0.76" stop-color="#31668e"/><stop offset="0.81" stop-color="#277e8e"/><stop offset="0.86" stop-color="#1f998a"/><stop offset="0.90" stop-color="#29af7f"/><stop offset="0.94" stop-color="#4ac16d"/><stop offset="0.97" stop-color="#5ec962"/><stop offset="1.00" stop-color="#65cb5e"/></linearGradient><linearGradient id="b87" x1="0" y1="0" x2="0" y2="1"><stop offset="0.00" stop-color="#471063"/><stop offset="0.12" stop-color="#471164"/><stop offset="0.24" stop-color="#481467"/><stop offset="0.36" stop-color="#481a6c"/><stop offset="0.46" stop-color="#482071"/><stop offset="0.55" stop-color="#472c7a"/><stop offset="0.63" stop-color="#443a83"/><stop offset="0.70" stop-color="#3c4f8a"/><stop offset="0.76" stop-color="#31678e"/><stop offset="0.81" stop-color="#277f8e"/><stop offset="0.86" stop-color="#1f9a8a"/><stop offset="0.90" stop-color="#2cb17e"/><stop offset="0.94" stop-color="#4ec36b"/><stop offset="0.97" stop-color="#63cb5f"/><stop offset="1.00" stop-color="#69cd5b"/></linearGradient><linearGradient id="b88" x1="0" y1="0" x2="0" y2="1"><stop offset="0.00" stop-color="#471063"/><stop offset="0.12" stop-color="#471164"/><stop offset="0.24" stop-color="#481467"/><stop offset="0.36" stop-color="#481a6c"/><stop offset="0.46" stop-color="#482071"/><stop offset="0.55" stop-color="#472c7a"/><stop offset="0.63" stop-color="#443b84"/><stop offset="0.70" stop-color="#3c508b"/><stop offset="0.76" stop-color="#31678e"/><stop offset="0.81" stop-color="#27808e"/><stop offset="0.86" stop-color="#1e9c89"/><stop offset="0.90" stop-color="#2db27d"/><stop offset="0.94" stop-color="#50c46a"/><stop offset="0.97" stop-color="#67cc5c"/><stop offset="1.00" stop-color="#6ece58"/></linearGradient><linearGradient id="b89" x1="0" y1="0" x2="0" y2="1"><stop offset="0.00" stop-color="#471063"/><stop offset="0.12" stop-color="#471164"/><stop offset="0.24" stop-color="#481467"/><stop offset="0.36" stop-color="#481a6c"/><stop offset="0.46" stop-color="#482071"/><stop offset="0.55" stop-color="#472c7a"/><stop offset="0.63" stop-color="#443b84"/><stop offset="0.70" stop-color="#3c508b"/><stop offset="0.76" stop-color="#31688e"/><stop offset="0.81" stop-color="#27808e"/><stop offset="0.86" stop-color="#1e9d89"/><stop offset="0.90" stop-color="#2fb47c"/><stop offset="0.94" stop-color="#54c568"/><stop offset="0.97" stop-color="#69cd5b"/><stop offset="1.00" stop-color="#73d056"/></linearGradient><linearGradient id="b90" x1="0" y1="0" x2="0" y2="1"><stop offset="0.00" stop-color="#471063"/><stop offset="0.12" stop-color="#471164"/><stop offset="0.24" stop-color="#481467"/><stop offset="0.36" stop-color="#481a6c"/><stop offset="0.46" stop-color="#482173"/><stop offset="0.55" stop-color="#472c7a"/><stop offset="0.63" stop-color="#443b84"/><stop offset="0.70" stop-color="#3c508b"/><stop offset="0.76" stop-color="#31688e"/><stop offset="0.81" stop-color="#26818e"/><stop offset="0.86" stop-color="#1f9e89"/><stop offset="0.90" stop-color="#31b57b"/><stop offset="0.94" stop-color="#56c667"/><stop offset="0.97" stop-color="#6ece58"/><stop offset="1.00" stop-color="#77d153"/></linearGradient><linearGradient id="b91" x1="0" y1="0" x2="0" y2="1"><stop offset="0.00" stop-color="#471063"/><stop offset="0.12" stop-color="#471164"/><stop offset="0.24" stop-color="#481467"/><stop offset="0.36" stop-color="#481a6c"/><stop offset="0.46" stop-color="#482173"/><stop offset="0.55" stop-color="#472c7a"/><stop offset="0.63" stop-color="#443b84"/><stop offset="0.70" stop-color="#3b518b"/><stop offset="0.76" stop-color="#30698e"/><stop offset="0.81" stop-color="#26828e"/><stop offset="0.86" stop-color="#1f9f88"/><stop offset="0.90" stop-color="#32b67a"/><stop offset="0.94" stop-color="#5ac864"/><stop offset="0.97" stop-color="#70cf57"/><stop offset="1.00" stop-color="#7ad151"/></linearGradient><linearGradient id="b92" x1="0" y1="0" x2="0" y2="1"><stop offset="0.00" stop-color="#471063"/><stop offset="0.12" stop-color="#471164"/><stop offset="0.24" stop-color="#481467"/><stop offset="0.36" stop-color="#481a6c"/><stop offset="0.46" stop-color="#482173"/><stop offset="0.55" stop-color="#472c7a"/><stop offset="0.63" stop-color="#443b84"/><stop offset="0.70" stop-color="#3b518b"/><stop offset="0.76" stop-color="#30698e"/><stop offset="0.81" stop-color="#26828e"/><stop offset="0.86" stop-color="#1fa088"/><stop offset="0.90" stop-color="#34b679"/><stop offset="0.94" stop-color="#5cc863"/><stop offset="0.97" stop-color="#75d054"/><stop offset="1.00" stop-color="#7fd34e"/></linearGradient><linearGradient id="b93" x1="0" y1="0" x2="0" y2="1"><stop offset="0.00" stop-color="#471063"/><stop offset="0.12" stop-color="#471164"/><stop offset="0.24" stop-color="#481467"/><stop offset="0.36" stop-color="#481a6c"/><stop offset="0.46" stop-color="#482173"/><stop offset="0.55" stop-color="#472c7a"/><stop offset="0.63" stop-color="#433d84"/><stop offset="0.70" stop-color="#3b518b"/><stop offset="0.76" stop-color="#306a8e"/><stop offset="0.81" stop-color="#26828e"/><stop offset="0.86" stop-color="#1fa188"/><stop offset="0.90" stop-color="#35b779"/><stop offset="0.94" stop-color="#60ca60"/><stop offset="0.97" stop-color="#77d153"/><stop offset="1.00" stop-color="#81d34d"/></linearGradient><linearGradient id="b94" x1="0" y1="0" x2="0" y2="1"><stop offset="0.00" stop-color="#471063"/><stop offset="0.12" stop-color="#471164"/><stop offset="0.24" stop-color="#481467"/><stop offset="0.36" stop-color="#481a6c"/><stop offset="0.46" stop-color="#482173"/><stop offset="0.55" stop-color="#472d7b"/><stop offset="0.63" stop-color="#433d84"/><stop offset="0.70" stop-color="#3b518b"/><stop offset="0.76" stop-color="#306a8e"/><stop offset="0.81" stop-color="#25838e"/><stop offset="0.86" stop-color="#1fa188"/><stop offset="0.90" stop-color="#37b878"/><stop offset="0.94" stop-color="#63cb5f"/><stop offset="0.97" stop-color="#7cd250"/><stop offset="1.00" stop-color="#84d44b"/></linearGradient><linearGradient id="b95" x1="0" y1="0" x2="0" y2="1"><stop offset="0.00" stop-color="#471063"/><stop offset="0.12" stop-color="#471164"/><stop offset="0.24" stop-color="#481467"/><stop offset="0.36" stop-color="#481a6c"/><stop offset="0.46" stop-color="#482173"/><stop offset="0.55" stop-color="#472d7b"/><stop offset="0.63" stop-color="#433d84"/><stop offset="0.70" stop-color="#3b528b"/><stop offset="0.76" stop-color="#306a8e"/><stop offset="0.81" stop-color="#25838e"/><stop offset="0.86" stop-color="#1fa187"/><stop offset="0.90" stop-color="#38b977"/><stop offset="0.94" stop-color="#65cb5e"/><stop offset="0.97" stop-color="#7fd34e"/><stop offset="1.00" stop-color="#86d549"/></linearGradient><linearGradient id="b96" x1="0" y1="0" x2="0" y2="1"><stop offset="0.00" stop-color="#471063"/><stop offset="0.12" stop-color="#471164"/><stop offset="0.24" stop-color="#481467"/><stop offset="0.36" stop-color="#481a6c"/><stop offset="0.46" stop-color="#482173"/><stop offset="0.55" stop-color="#472d7b"/><stop offset="0.63" stop-color="#433d84"/><stop offset="0.70" stop-color="#3b528b"/><stop offset="0.76" stop-color="#2f6b8e"/><stop offset="0.81" stop-color="#25838e"/><stop offset="0.86" stop-color="#1fa187"/><stop offset="0.90" stop-color="#3aba76"/><stop offset="0.94" stop-color="#65cb5e"/><stop offset="0.97" stop-color="#81d34d"/><stop offset="1.00" stop-color="#89d548"/></linearGradient><linearGradient id="b97" x1="0" y1="0" x2="0" y2="1"><stop offset="0.00" stop-color="#471063"/><stop offset="0.12" stop-color="#471164"/><stop offset="0.24" stop-color="#481467"/><stop offset="0.36" stop-color="#481a6c"/><stop offset="0.46" stop-color="#482173"/><stop offset="0.55" stop-color="#472d7b"/><stop offset="0.63" stop-color="#433d84"/><stop offset="0.70" stop-color="#3b528b"/><stop offset="0.76" stop-color="#2f6b8e"/><stop offset="0.81" stop-color="#25848e"/><stop offset="0.86" stop-color="#1fa287"/><stop offset="0.90" stop-color="#3bbb75"/><stop offset="0.94" stop-color="#67cc5c"/><stop offset="0.97" stop-color="#81d34d"/><stop offset="1.00" stop-color="#8bd646"/></linearGradient><linearGradient id="b98" x1="0" y1="0" x2="0" y2="1"><stop offset="0.00" stop-color="#471063"/><stop offset="0.12" stop-color="#471164"/><stop offset="0.24" stop-color="#481467"/><stop offset="0.36" stop-color="#481a6c"/><stop offset="0.46" stop-color="#482173"/><stop offset="0.55" stop-color="#472d7b"/><stop offset="0.63" stop-color="#433d84"/><stop offset="0.70" stop-color="#3b528b"/><stop offset="0.76" stop-color="#2f6b8e"/><stop offset="0.81" stop-color="#25848e"/><stop offset="0.86" stop-color="#1fa287"/><stop offset="0.90" stop-color="#3bbb75"/><stop offset="0.94" stop-color="#69cd5b"/><stop offset="0.97" stop-color="#84d44b"/><stop offset="1.00" stop-color="#8ed645"/></linearGradient><linearGradient id="b99" x1="0" y1="0" x2="0" y2="1"><stop offset="0.00" stop-color="#471063"/><stop offset="0.12" stop-color="#471164"/><stop offset="0.24" stop-color="#481467"/><stop offset="0.36" stop-color="#481a6c"/><stop offset="0.46" stop-color="#482173"/><stop offset="0.55" stop-color="#472d7b"/><stop offset="0.63" stop-color="#433d84"/><stop offset="0.70" stop-color="#3b528b"/><stop offset="0.76" stop-color="#2f6b8e"/><stop offset="0.81" stop-color="#25848e"/><stop offset="0.86" stop-color="#20a386"/><stop offset="0.90" stop-color="#3bbb75"/><stop offset="0.94" stop-color="#69cd5b"/><stop offset="0.97" stop-color="#86d549"/><stop offset="1.00" stop-color="#90d743"/></linearGradient><linearGradient id="b100" x1="0" y1="0" x2="0" y2="1"><stop offset="0.00" stop-color="#471063"/><stop offset="0.12" stop-color="#471164"/><stop offset="0.24" stop-color="#481467"/><stop offset="0.36" stop-color="#481a6c"/><stop offset="0.46" stop-color="#482173"/><stop offset="0.55" stop-color="#472d7b"/><stop offset="0.63" stop-color="#433d84"/><stop offset="0.70" stop-color="#3b528b"/><stop offset="0.76" stop-color="#2f6b8e"/><stop offset="0.81" stop-color="#25848e"/><stop offset="0.86" stop-color="#20a386"/><stop offset="0.90" stop-color="#3dbc74"/><stop offset="0.94" stop-color="#6ccd5a"/><stop offset="0.97" stop-color="#86d549"/><stop offset="1.00" stop-color="#90d743"/></linearGradient><linearGradient id="b101" x1="0" y1="0" x2="0" y2="1"><stop offset="0.00" stop-color="#471063"/><stop offset="0.12" stop-color="#471164"/><stop offset="0.24" stop-color="#481467"/><stop offset="0.36" stop-color="#481a6c"/><stop offset="0.46" stop-color="#482173"/><stop offset="0.55" stop-color="#472c7a"/><stop offset="0.63" stop-color="#433d84"/><stop offset="0.70" stop-color="#3b528b"/><stop offset="0.76" stop-color="#2f6b8e"/><stop offset="0.81" stop-color="#25848e"/><stop offset="0.86" stop-color="#1fa287"/><stop offset="0.90" stop-color="#3bbb75"/><stop offset="0.94" stop-color="#69cd5b"/><stop offset="0.97" stop-color="#86d549"/><stop offset="1.00" stop-color="#90d743"/></linearGradient><linearGradient id="b102" x1="0" y1="0" x2="0" y2="1"><stop offset="0.00" stop-color="#471063"/><stop offset="0.12" stop-color="#471164"/><stop offset="0.24" stop-color="#481467"/><stop offset="0.36" stop-color="#481a6c"/><stop offset="0.46" stop-color="#482173"/><stop offset="0.55" stop-color="#472c7a"/><stop offset="0.63" stop-color="#443b84"/><stop offset="0.70" stop-color="#3b518b"/><stop offset="0.76" stop-color="#306a8e"/><stop offset="0.81" stop-color="#25838e"/><stop offset="0.86" stop-color="#1fa287"/><stop offset="0.90" stop-color="#3bbb75"/><stop offset="0.94" stop-color="#69cd5b"/><stop offset="0.97" stop-color="#84d44b"/><stop offset="1.00" stop-color="#8ed645"/></linearGradient><linearGradient id="b103" x1="0" y1="0" x2="0" y2="1"><stop offset="0.00" stop-color="#471063"/><stop offset="0.12" stop-color="#471164"/><stop offset="0.24" stop-color="#481467"/><stop offset="0.36" stop-color="#481a6c"/><stop offset="0.46" stop-color="#482071"/><stop offset="0.55" stop-color="#472c7a"/><stop offset="0.63" stop-color="#443b84"/><stop offset="0.70" stop-color="#3b518b"/><stop offset="0.76" stop-color="#306a8e"/><stop offset="0.81" stop-color="#26828e"/><stop offset="0.86" stop-color="#1fa187"/><stop offset="0.90" stop-color="#3aba76"/><stop offset="0.94" stop-color="#67cc5c"/><stop offset="0.97" stop-color="#81d34d"/><stop offset="1.00" stop-color="#8bd646"/></linearGradient><linearGradient id="b104" x1="0" y1="0" x2="0" y2="1"><stop offset="0.00" stop-color="#471063"/><stop offset="0.12" stop-color="#471164"/><stop offset="0.24" stop-color="#481467"/><stop offset="0.36" stop-color="#481a6c"/><stop offset="0.46" stop-color="#482071"/><stop offset="0.55" stop-color="#472c7a"/><stop offset="0.63" stop-color="#443b84"/><stop offset="0.70" stop-color="#3c508b"/><stop offset="0.76" stop-color="#30698e"/><stop offset="0.81" stop-color="#26828e"/><stop offset="0.86" stop-color="#1fa188"/><stop offset="0.90" stop-color="#38b977"/><stop offset="0.94" stop-color="#65cb5e"/><stop offset="0.97" stop-color="#7fd34e"/><stop offset="1.00" stop-color="#89d548"/></linearGradient><linearGradient id="b105" x1="0" y1="0" x2="0" y2="1"><stop offset="0.00" stop-color="#471063"/><stop offset="0.12" stop-color="#471164"/><stop offset="0.24" stop-color="#481467"/><stop offset="0.36" stop-color="#481a6c"/><stop offset="0.46" stop-color="#482071"/><stop offset="0.55" stop-color="#472a7a"/><stop offset="0.63" stop-color="#443a83"/><stop offset="0.70" stop-color="#3c508b"/><stop offset="0.76" stop-color="#31688e"/><stop offset="0.81" stop-color="#26828e"/><stop offset="0.86" stop-color="#1fa088"/><stop offset="0.90" stop-color="#37b878"/><stop offset="0.94" stop-color="#63cb5f"/><stop offset="0.97" stop-color="#7cd250"/><stop offset="1.00" stop-color="#86d549"/></linearGradient><linearGradient id="b106" x1="0" y1="0" x2="0" y2="1"><stop offset="0.00" stop-color="#471063"/><stop offset="0.12" stop-color="#471164"/><stop offset="0.24" stop-color="#481467"/><stop offset="0.36" stop-color="#48186a"/><stop offset="0.46" stop-color="#482071"/><stop offset="0.55" stop-color="#472a7a"/><stop offset="0.63" stop-color="#443a83"/><stop offset="0.70" stop-color="#3c4f8a"/><stop offset="0.76" stop-color="#31678e"/><stop offset="0.81" stop-color="#26818e"/><stop offset="0.86" stop-color="#1f9f88"/><stop offset="0.90" stop-color="#34b679"/><stop offset="0.94" stop-color="#5ec962"/><stop offset="0.97" stop-color="#7ad151"/><stop offset="1.00" stop-color="#84d44b"/></linearGradient><linearGradient id="b107" x1="0" y1="0" x2="0" y2="1"><stop offset="0.00" stop-color="#471063"/><stop offset="0.12" stop-color="#471164"/><stop offset="0.24" stop-color="#481467"/><stop offset="0.36" stop-color="#48186a"/><stop offset="0.46" stop-color="#482071"/><stop offset="0.55" stop-color="#472a7a"/><stop offset="0.63" stop-color="#443983"/><stop offset="0.70" stop-color="#3d4e8a"/><stop offset="0.76" stop-color="#31668e"/><stop offset="0.81" stop-color="#277f8e"/><stop offset="0.86" stop-color="#1e9d89"/><stop offset="0.90" stop-color="#32b67a"/><stop offset="0.94" stop-color="#5cc863"/><stop offset="0.97" stop-color="#75d054"/><stop offset="1.00" stop-color="#7fd34e"/></linearGradient><linearGradient id="b108" x1="0" y1="0" x2="0" y2="1"><stop offset="0.00" stop-color="#471063"/><stop offset="0.12" stop-color="#471164"/><stop offset="0.24" stop-color="#481467"/><stop offset="0.36" stop-color="#48186a"/><stop offset="0.46" stop-color="#481f70"/><stop offset="0.55" stop-color="#482979"/><stop offset="0.63" stop-color="#443983"/><stop offset="0.70" stop-color="#3d4d8a"/><stop offset="0.76" stop-color="#32658e"/><stop offset="0.81" stop-color="#277e8e"/><stop offset="0.86" stop-color="#1e9b8a"/><stop offset="0.90" stop-color="#2fb47c"/><stop offset="0.94" stop-color="#56c667"/><stop offset="0.97" stop-color="#70cf57"/><stop offset="1.00" stop-color="#7ad151"/></linearGradient><linearGradient id="b109" x1="0" y1="0" x2="0" y2="1"><stop offset="0.00" stop-color="#471063"/><stop offset="0.12" stop-color="#471164"/><stop offset="0.24" stop-color="#481467"/><stop offset="0.36" stop-color="#48186a"/><stop offset="0.46" stop-color="#481f70"/><stop offset="0.55" stop-color="#482979"/><stop offset="0.63" stop-color="#453882"/><stop offset="0.70" stop-color="#3e4c8a"/><stop offset="0.76" stop-color="#32648e"/><stop offset="0.81" stop-color="#287c8e"/><stop offset="0.86" stop-color="#1f998a"/><stop offset="0.90" stop-color="#2cb17e"/><stop offset="0.94" stop-color="#52c569"/><stop offset="0.97" stop-color="#69cd5b"/><stop offset="1.00" stop-color="#73d056"/></linearGradient><linearGradient id="b110" x1="0" y1="0" x2="0" y2="1"><stop offset="0.00" stop-color="#471063"/><stop offset="0.12" stop-color="#471164"/><stop offset="0.24" stop-color="#471365"/><stop offset="0.36" stop-color="#48186a"/><stop offset="0.46" stop-color="#481f70"/><stop offset="0.55" stop-color="#482878"/><stop offset="0.63" stop-color="#453781"/><stop offset="0.70" stop-color="#3e4a89"/><stop offset="0.76" stop-color="#33628d"/><stop offset="0.81" stop-color="#297b8e"/><stop offset="0.86" stop-color="#1f978b"/><stop offset="0.90" stop-color="#29af7f"/><stop offset="0.94" stop-color="#4cc26c"/><stop offset="0.97" stop-color="#63cb5f"/><stop offset="1.00" stop-color="#6ccd5a"/></linearGradient><linearGradient id="b111" x1="0" y1="0" x2="0" y2="1"><stop offset="0.00" stop-color="#471063"/><stop offset="0.12" stop-color="#471164"/><stop offset="0.24" stop-color="#471365"/><stop offset="0.36" stop-color="#48186a"/><stop offset="0.46" stop-color="#481d6f"/><stop offset="0.55" stop-color="#482878"/><stop offset="0.63" stop-color="#453781"/><stop offset="0.70" stop-color="#3e4989"/><stop offset="0.76" stop-color="#34618d"/><stop offset="0.81" stop-color="#29798e"/><stop offset="0.86" stop-color="#1f958b"/><stop offset="0.90" stop-color="#26ad81"/><stop offset="0.94" stop-color="#48c16e"/><stop offset="0.97" stop-color="#5cc863"/><stop offset="1.00" stop-color="#65cb5e"/></linearGradient><linearGradient id="b112" x1="0" y1="0" x2="0" y2="1"><stop offset="0.00" stop-color="#470e61"/><stop offset="0.12" stop-color="#471063"/><stop offset="0.24" stop-color="#471365"/><stop offset="0.36" stop-color="#481769"/><stop offset="0.46" stop-color="#481d6f"/><stop offset="0.55" stop-color="#482878"/><stop offset="0.63" stop-color="#453581"/><stop offset="0.70" stop-color="#3f4889"/><stop offset="0.76" stop-color="#34608d"/><stop offset="0.81" stop-color="#2a778e"/><stop offset="0.86" stop-color="#20938c"/><stop offset="0.90" stop-color="#25ab82"/><stop offset="0.94" stop-color="#42be71"/><stop offset="0.97" stop-color="#56c667"/><stop offset="1.00" stop-color="#5ec962"/></linearGradient><linearGradient id="b113" x1="0" y1="0" x2="0" y2="1"><stop offset="0.00" stop-color="#470e61"/><stop offset="0.12" stop-color="#471063"/><stop offset="0.24" stop-color="#471365"/><stop offset="0.36" stop-color="#481769"/><stop offset="0.46" stop-color="#481d6f"/><stop offset="0.55" stop-color="#482677"/><stop offset="0.63" stop-color="#463480"/><stop offset="0.70" stop-color="#3f4788"/><stop offset="0.76" stop-color="#355e8d"/><stop offset="0.81" stop-color="#2b758e"/><stop offset="0.86" stop-color="#21918c"/><stop offset="0.90" stop-color="#22a884"/><stop offset="0.94" stop-color="#3bbb75"/><stop offset="0.97" stop-color="#50c46a"/><stop offset="1.00" stop-color="#58c765"/></linearGradient><linearGradient id="b114" x1="0" y1="0" x2="0" y2="1"><stop offset="0.00" stop-color="#470e61"/><stop offset="0.12" stop-color="#471063"/><stop offset="0.24" stop-color="#471365"/><stop offset="0.36" stop-color="#481769"/><stop offset="0.46" stop-color="#481c6e"/><stop offset="0.55" stop-color="#482677"/><stop offset="0.63" stop-color="#46337f"/><stop offset="0.70" stop-color="#404688"/><stop offset="0.76" stop-color="#365c8d"/><stop offset="0.81" stop-color="#2c738e"/><stop offset="0.86" stop-color="#218e8d"/><stop offset="0.90" stop-color="#21a585"/><stop offset="0.94" stop-color="#37b878"/><stop offset="0.97" stop-color="#48c16e"/><stop offset="1.00" stop-color="#50c46a"/></linearGradient><linearGradient id="b115" x1="0" y1="0" x2="0" y2="1"><stop offset="0.00" stop-color="#470e61"/><stop offset="0.12" stop-color="#471063"/><stop offset="0.24" stop-color="#471365"/><stop offset="0.36" stop-color="#481769"/><stop offset="0.46" stop-color="#481c6e"/><stop offset="0.55" stop-color="#482576"/><stop offset="0.63" stop-color="#46337f"/><stop offset="0.70" stop-color="#404588"/><stop offset="0.76" stop-color="#375b8d"/><stop offset="0.81" stop-color="#2c718e"/><stop offset="0.86" stop-color="#228c8d"/><stop offset="0.90" stop-color="#1fa287"/><stop offset="0.94" stop-color="#31b57b"/><stop offset="0.97" stop-color="#42be71"/><stop offset="1.00" stop-color="#48c16e"/></linearGradient><linearGradient id="b116" x1="0" y1="0" x2="0" y2="1"><stop offset="0.00" stop-color="#470e61"/><stop offset="0.12" stop-color="#471063"/><stop offset="0.24" stop-color="#471365"/><stop offset="0.36" stop-color="#481668"/><stop offset="0.46" stop-color="#481c6e"/><stop offset="0.55" stop-color="#482475"/><stop offset="0.63" stop-color="#46327e"/><stop offset="0.70" stop-color="#414287"/><stop offset="0.76" stop-color="#38598c"/><stop offset="0.81" stop-color="#2e6f8e"/><stop offset="0.86" stop-color="#23898e"/><stop offset="0.90" stop-color="#1f9f88"/><stop offset="0.94" stop-color="#2cb17e"/><stop offset="0.97" stop-color="#3bbb75"/><stop offset="1.00" stop-color="#40bd72"/></linearGradient><linearGradient id="b117" x1="0" y1="0" x2="0" y2="1"><stop offset="0.00" stop-color="#470e61"/><stop offset="0.12" stop-color="#471063"/><stop offset="0.24" stop-color="#471365"/><stop offset="0.36" stop-color="#481668"/><stop offset="0.46" stop-color="#481b6d"/><stop offset="0.55" stop-color="#482475"/><stop offset="0.63" stop-color="#46307e"/><stop offset="0.70" stop-color="#424186"/><stop offset="0.76" stop-color="#39568c"/><stop offset="0.81" stop-color="#2e6d8e"/><stop offset="0.86" stop-color="#24868e"/><stop offset="0.90" stop-color="#1e9c89"/><stop offset="0.94" stop-color="#28ae80"/><stop offset="0.97" stop-color="#34b679"/><stop offset="1.00" stop-color="#3aba76"/></linearGradient><linearGradient id="b118" x1="0" y1="0" x2="0" y2="1"><stop offset="0.00" stop-color="#470e61"/><stop offset="0.12" stop-color="#471063"/><stop offset="0.24" stop-color="#471164"/><stop offset="0.36" stop-color="#481668"/><stop offset="0.46" stop-color="#481b6d"/><stop offset="0.55" stop-color="#482374"/><stop offset="0.63" stop-color="#472f7d"/><stop offset="0.70" stop-color="#424086"/><stop offset="0.76" stop-color="#3a548c"/><stop offset="0.81" stop-color="#2f6b8e"/><stop offset="0.86" stop-color="#25838e"/><stop offset="0.90" stop-color="#1f988b"/><stop offset="0.94" stop-color="#25ab82"/><stop offset="0.97" stop-color="#2eb37c"/><stop offset="1.00" stop-color="#34b679"/></linearGradient><linearGradient id="b119" x1="0" y1="0" x2="0" y2="1"><stop offset="0.00" stop-color="#470e61"/><stop offset="0.12" stop-color="#471063"/><stop offset="0.24" stop-color="#471164"/><stop offset="0.36" stop-color="#481668"/><stop offset="0.46" stop-color="#481b6d"/><stop offset="0.55" stop-color="#482374"/><stop offset="0.63" stop-color="#472e7c"/><stop offset="0.70" stop-color="#423f85"/><stop offset="0.76" stop-color="#3b528b"/><stop offset="0.81" stop-color="#31688e"/><stop offset="0.86" stop-color="#26818e"/><stop offset="0.90" stop-color="#1f948c"/><stop offset="0.94" stop-color="#22a785"/><stop offset="0.97" stop-color="#29af7f"/><stop offset="1.00" stop-color="#2db27d"/></linearGradient><linearGradient id="b120" x1="0" y1="0" x2="0" y2="1"><stop offset="0.00" stop-color="#470e61"/><stop offset="0.12" stop-color="#471063"/><stop offset="0.24" stop-color="#471164"/><stop offset="0.36" stop-color="#481668"/><stop offset="0.46" stop-color="#481a6c"/><stop offset="0.55" stop-color="#482173"/><stop offset="0.63" stop-color="#472d7b"/><stop offset="0.70" stop-color="#433d84"/><stop offset="0.76" stop-color="#3c508b"/><stop offset="0.81" stop-color="#32658e"/><stop offset="0.86" stop-color="#287d8e"/><stop offset="0.90" stop-color="#20928c"/><stop offset="0.94" stop-color="#1fa287"/><stop offset="0.97" stop-color="#25ac82"/><stop offset="1.00" stop-color="#28ae80"/></linearGradient><linearGradient id="b121" x1="0" y1="0" x2="0" y2="1"><stop offset="0.00" stop-color="#470e61"/><stop offset="0.12" stop-color="#471063"/><stop offset="0.24" stop-color="#471164"/><stop offset="0.36" stop-color="#481467"/><stop offset="0.46" stop-color="#481a6c"/><stop offset="0.55" stop-color="#482071"/><stop offset="0.63" stop-color="#472c7a"/><stop offset="0.70" stop-color="#443a83"/><stop offset="0.76" stop-color="#3d4e8a"/><stop offset="0.81" stop-color="#33628d"/><stop offset="0.86" stop-color="#297a8e"/><stop offset="0.90" stop-color="#228d8d"/><stop offset="0.94" stop-color="#1f9f88"/><stop offset="0.97" stop-color="#22a785"/><stop offset="1.00" stop-color="#24aa83"/></linearGradient><linearGradient id="b122" x1="0" y1="0" x2="0" y2="1"><stop offset="0.00" stop-color="#470e61"/><stop offset="0.12" stop-color="#470e61"/><stop offset="0.24" stop-color="#471164"/><stop offset="0.36" stop-color="#481467"/><stop offset="0.46" stop-color="#48186a"/><stop offset="0.55" stop-color="#481f70"/><stop offset="0.63" stop-color="#472a7a"/><stop offset="0.70" stop-color="#443983"/><stop offset="0.76" stop-color="#3e4c8a"/><stop offset="0.81" stop-color="#355f8d"/><stop offset="0.86" stop-color="#2a768e"/><stop offset="0.90" stop-color="#23898e"/><stop offset="0.94" stop-color="#1f9a8a"/><stop offset="0.97" stop-color="#1fa287"/><stop offset="1.00" stop-color="#21a585"/></linearGradient><linearGradient id="b123" x1="0" y1="0" x2="0" y2="1"><stop offset="0.00" stop-color="#470e61"/><stop offset="0.12" stop-color="#470e61"/><stop offset="0.24" stop-color="#471063"/><stop offset="0.36" stop-color="#481467"/><stop offset="0.46" stop-color="#48186a"/><stop offset="0.55" stop-color="#481f70"/><stop offset="0.63" stop-color="#482878"/><stop offset="0.70" stop-color="#453781"/><stop offset="0.76" stop-color="#3f4889"/><stop offset="0.81" stop-color="#365c8d"/><stop offset="0.86" stop-color="#2c728e"/><stop offset="0.90" stop-color="#25848e"/><stop offset="0.94" stop-color="#1f958b"/><stop offset="0.97" stop-color="#1f9e89"/><stop offset="1.00" stop-color="#1fa188"/></linearGradient><linearGradient id="b124" x1="0" y1="0" x2="0" y2="1"><stop offset="0.00" stop-color="#470e61"/><stop offset="0.12" stop-color="#470e61"/><stop offset="0.24" stop-color="#471063"/><stop offset="0.36" stop-color="#471365"/><stop offset="0.46" stop-color="#481769"/><stop offset="0.55" stop-color="#481d6f"/><stop offset="0.63" stop-color="#482677"/><stop offset="0.70" stop-color="#463480"/><stop offset="0.76" stop-color="#404688"/><stop offset="0.81" stop-color="#38598c"/><stop offset="0.86" stop-color="#2e6f8e"/><stop offset="0.90" stop-color="#26818e"/><stop offset="0.94" stop-color="#21918c"/><stop offset="0.97" stop-color="#1f988b"/><stop offset="1.00" stop-color="#1e9b8a"/></linearGradient><linearGradient id="b125" x1="0" y1="0" x2="0" y2="1"><stop offset="0.00" stop-color="#470d60"/><stop offset="0.12" stop-color="#470e61"/><stop offset="0.24" stop-color="#471063"/><stop offset="0.36" stop-color="#471365"/><stop offset="0.46" stop-color="#481769"/><stop offset="0.55" stop-color="#481c6e"/><stop offset="0.63" stop-color="#482576"/><stop offset="0.70" stop-color="#46327e"/><stop offset="0.76" stop-color="#414287"/><stop offset="0.81" stop-color="#39558c"/><stop offset="0.86" stop-color="#2f6b8e"/><stop offset="0.90" stop-color="#287c8e"/><stop offset="0.94" stop-color="#228b8d"/><stop offset="0.97" stop-color="#20938c"/><stop offset="1.00" stop-color="#1f968b"/></linearGradient><linearGradient id="b126" x1="0" y1="0" x2="0" y2="1"><stop offset="0.00" stop-color="#470d60"/><stop offset="0.12" stop-color="#470e61"/><stop offset="0.24" stop-color="#471063"/><stop offset="0.36" stop-color="#471365"/><stop offset="0.46" stop-color="#481668"/><stop offset="0.55" stop-color="#481b6d"/><stop offset="0.63" stop-color="#482475"/><stop offset="0.70" stop-color="#46307e"/><stop offset="0.76" stop-color="#424086"/><stop offset="0.81" stop-color="#3b518b"/><stop offset="0.86" stop-color="#31678e"/><stop offset="0.90" stop-color="#2a778e"/><stop offset="0.94" stop-color="#24868e"/><stop offset="0.97" stop-color="#218e8d"/><stop offset="1.00" stop-color="#21918c"/></linearGradient><linearGradient id="b127" x1="0" y1="0" x2="0" y2="1"><stop offset="0.00" stop-color="#470d60"/><stop offset="0.12" stop-color="#470e61"/><stop offset="0.24" stop-color="#471063"/><stop offset="0.36" stop-color="#471164"/><stop offset="0.46" stop-color="#481668"/><stop offset="0.55" stop-color="#481b6d"/><stop offset="0.63" stop-color="#482374"/><stop offset="0.70" stop-color="#472e7c"/><stop offset="0.76" stop-color="#433d84"/><stop offset="0.81" stop-color="#3d4e8a"/><stop offset="0.86" stop-color="#33628d"/><stop offset="0.90" stop-color="#2c728e"/><stop offset="0.94" stop-color="#26818e"/><stop offset="0.97" stop-color="#23888e"/><stop offset="1.00" stop-color="#228b8d"/></linearGradient><linearGradient id="b128" x1="0" y1="0" x2="0" y2="1"><stop offset="0.00" stop-color="#470d60"/><stop offset="0.12" stop-color="#470e61"/><stop offset="0.24" stop-color="#470e61"/><stop offset="0.36" stop-color="#471164"/><stop offset="0.46" stop-color="#481467"/><stop offset="0.55" stop-color="#481a6c"/><stop offset="0.63" stop-color="#482071"/><stop offset="0.70" stop-color="#472c7a"/><stop offset="0.76" stop-color="#443a83"/><stop offset="0.81" stop-color="#3e4989"/><stop offset="0.86" stop-color="#365d8d"/><stop offset="0.90" stop-color="#2e6d8e"/><stop offset="0.94" stop-color="#297b8e"/><stop offset="0.97" stop-color="#26828e"/><stop offset="1.00" stop-color="#25848e"/></linearGradient><linearGradient id="b129" x1="0" y1="0" x2="0" y2="1"><stop offset="0.00" stop-color="#470d60"/><stop offset="0.12" stop-color="#470e61"/><stop offset="0.24" stop-color="#470e61"/><stop offset="0.36" stop-color="#471164"/><stop offset="0.46" stop-color="#481467"/><stop offset="0.55" stop-color="#48186a"/><stop offset="0.63" stop-color="#481f70"/><stop offset="0.70" stop-color="#482979"/><stop offset="0.76" stop-color="#453781"/><stop offset="0.81" stop-color="#404688"/><stop offset="0.86" stop-color="#38588c"/><stop offset="0.90" stop-color="#31688e"/><stop offset="0.94" stop-color="#2b748e"/><stop offset="0.97" stop-color="#297b8e"/><stop offset="1.00" stop-color="#277e8e"/></linearGradient><linearGradient id="b130" x1="0" y1="0" x2="0" y2="1"><stop offset="0.00" stop-color="#470d60"/><stop offset="0.12" stop-color="#470d60"/><stop offset="0.24" stop-color="#470e61"/><stop offset="0.36" stop-color="#471063"/><stop offset="0.46" stop-color="#471365"/><stop offset="0.55" stop-color="#481769"/><stop offset="0.63" stop-color="#481d6f"/><stop offset="0.70" stop-color="#482677"/><stop offset="0.76" stop-color="#46337f"/><stop offset="0.81" stop-color="#424186"/><stop offset="0.86" stop-color="#3b528b"/><stop offset="0.90" stop-color="#34618d"/><stop offset="0.94" stop-color="#2e6e8e"/><stop offset="0.97" stop-color="#2c738e"/><stop offset="1.00" stop-color="#2a768e"/></linearGradient><linearGradient id="b131" x1="0" y1="0" x2="0" y2="1"><stop offset="0.00" stop-color="#470d60"/><stop offset="0.12" stop-color="#470d60"/><stop offset="0.24" stop-color="#470e61"/><stop offset="0.36" stop-color="#471063"/><stop offset="0.46" stop-color="#471365"/><stop offset="0.55" stop-color="#481668"/><stop offset="0.63" stop-color="#481b6d"/><stop offset="0.70" stop-color="#482475"/><stop offset="0.76" stop-color="#472e7c"/><stop offset="0.81" stop-color="#443b84"/><stop offset="0.86" stop-color="#3e4c8a"/><stop offset="0.90" stop-color="#375a8c"/><stop offset="0.94" stop-color="#31668e"/><stop offset="0.97" stop-color="#2f6c8e"/><stop offset="1.00" stop-color="#2e6e8e"/></linearGradient><linearGradient id="b132" x1="0" y1="0" x2="0" y2="1"><stop offset="0.00" stop-color="#470d60"/><stop offset="0.12" stop-color="#470d60"/><stop offset="0.24" stop-color="#470e61"/><stop offset="0.36" stop-color="#471063"/><stop offset="0.46" stop-color="#471164"/><stop offset="0.55" stop-color="#481467"/><stop offset="0.63" stop-color="#481a6c"/><stop offset="0.70" stop-color="#482071"/><stop offset="0.76" stop-color="#472a7a"/><stop offset="0.81" stop-color="#453581"/><stop offset="0.86" stop-color="#404588"/><stop offset="0.90" stop-color="#3b518b"/><stop offset="0.94" stop-color="#365c8d"/><stop offset="0.97" stop-color="#33628d"/><stop offset="1.00" stop-color="#32648e"/></linearGradient><linearGradient id="b133" x1="0" y1="0" x2="0" y2="1"><stop offset="0.00" stop-color="#470d60"/><stop offset="0.12" stop-color="#470d60"/><stop offset="0.24" stop-color="#470d60"/><stop offset="0.36" stop-color="#470e61"/><stop offset="0.46" stop-color="#471164"/><stop offset="0.55" stop-color="#481467"/><stop offset="0.63" stop-color="#48186a"/><stop offset="0.70" stop-color="#481f70"/><stop offset="0.76" stop-color="#482878"/><stop offset="0.81" stop-color="#46337f"/><stop offset="0.86" stop-color="#424186"/><stop offset="0.90" stop-color="#3d4d8a"/><stop offset="0.94" stop-color="#38588c"/><stop offset="0.97" stop-color="#365d8d"/><stop offset="1.00" stop-color="#355f8d"/></linearGradient><linearGradient id="b134" x1="0" y1="0" x2="0" y2="1"><stop offset="0.00" stop-color="#470d60"/><stop offset="0.12" stop-color="#470d60"/><stop offset="0.24" stop-color="#470d60"/><stop offset="0.36" stop-color="#470e61"/><stop offset="0.46" stop-color="#471164"/><stop offset="0.55" stop-color="#481467"/><stop offset="0.63" stop-color="#48186a"/><stop offset="0.70" stop-color="#481f70"/><stop offset="0.76" stop-color="#482878"/><stop offset="0.81" stop-color="#46337f"/><stop offset="0.86" stop-color="#424186"/><stop offset="0.90" stop-color="#3d4d8a"/><stop offset="0.94" stop-color="#38588c"/><stop offset="0.97" stop-color="#365d8d"/><stop offset="1.00" stop-color="#355f8d"/></linearGradient><clipPath id="clipb"><rect x="70.60" y="318.30" width="1306.20" height="242.50"/></clipPath>
<linearGradient id="cb" x1="0" y1="1" x2="0" y2="0"><stop offset="0.000" stop-color="#440154"/><stop offset="0.042" stop-color="#471063"/><stop offset="0.083" stop-color="#481f70"/><stop offset="0.125" stop-color="#472d7b"/><stop offset="0.167" stop-color="#443983"/><stop offset="0.208" stop-color="#404688"/><stop offset="0.250" stop-color="#3b528b"/><stop offset="0.292" stop-color="#365d8d"/><stop offset="0.333" stop-color="#31688e"/><stop offset="0.375" stop-color="#2c728e"/><stop offset="0.417" stop-color="#287c8e"/><stop offset="0.458" stop-color="#24868e"/><stop offset="0.500" stop-color="#21918c"/><stop offset="0.542" stop-color="#1f9a8a"/><stop offset="0.583" stop-color="#20a486"/><stop offset="0.625" stop-color="#28ae80"/><stop offset="0.667" stop-color="#35b779"/><stop offset="0.708" stop-color="#48c16e"/><stop offset="0.750" stop-color="#5ec962"/><stop offset="0.792" stop-color="#75d054"/><stop offset="0.833" stop-color="#90d743"/><stop offset="0.875" stop-color="#addc30"/><stop offset="0.917" stop-color="#c8e020"/><stop offset="0.958" stop-color="#e5e419"/><stop offset="1.000" stop-color="#fde725"/></linearGradient>
<radialGradient id="blob"><stop offset="0" stop-color="#26828e" stop-opacity="0.42"/><stop offset="0.6" stop-color="#26828e" stop-opacity="0.3"/><stop offset="1" stop-color="#26828e" stop-opacity="0"/></radialGradient>
<clipPath id="clipc"><rect x="70.60" y="604.10" width="1307.10" height="240.40"/></clipPath>
</defs>
<rect width="1649" height="925" fill="#ffffff"/>
<g clip-path="url(#clipa)"><g filter="url(#hb)" shape-rendering="crispEdges"><rect x="50" y="40.5" width="10" height="240.5" fill="url(#a0)"/><rect x="60" y="40.5" width="10" height="240.5" fill="url(#a1)"/><rect x="70" y="40.5" width="10" height="240.5" fill="url(#a2)"/><rect x="80" y="40.5" width="10" height="240.5" fill="url(#a3)"/><rect x="90" y="40.5" width="10" height="240.5" fill="url(#a4)"/><rect x="100" y="40.5" width="10" height="240.5" fill="url(#a5)"/><rect x="110" y="40.5" width="10" height="240.5" fill="url(#a6)"/><rect x="120" y="40.5" width="10" height="240.5" fill="url(#a7)"/><rect x="130" y="40.5" width="10" height="240.5" fill="url(#a8)"/><rect x="140" y="40.5" width="10" height="240.5" fill="url(#a9)"/><rect x="150" y="40.5" width="10" height="240.5" fill="url(#a10)"/><rect x="160" y="40.5" width="10" height="240.5" fill="url(#a11)"/><rect x="170" y="40.5" width="10" height="240.5" fill="url(#a12)"/><rect x="180" y="40.5" width="11" height="240.5" fill="url(#a13)"/><rect x="191" y="40.5" width="10" height="240.5" fill="url(#a14)"/><rect x="201" y="40.5" width="10" height="240.5" fill="url(#a15)"/><rect x="211" y="40.5" width="10" height="240.5" fill="url(#a16)"/><rect x="221" y="40.5" width="10" height="240.5" fill="url(#a17)"/><rect x="231" y="40.5" width="10" height="240.5" fill="url(#a18)"/><rect x="241" y="40.5" width="10" height="240.5" fill="url(#a19)"/><rect x="251" y="40.5" width="10" height="240.5" fill="url(#a20)"/><rect x="261" y="40.5" width="10" height="240.5" fill="url(#a21)"/><rect x="271" y="40.5" width="10" height="240.5" fill="url(#a22)"/><rect x="281" y="40.5" width="10" height="240.5" fill="url(#a23)"/><rect x="291" y="40.5" width="10" height="240.5" fill="url(#a24)"/><rect x="301" y="40.5" width="10" height="240.5" fill="url(#a25)"/><rect x="311" y="40.5" width="10" height="240.5" fill="url(#a26)"/><rect x="321" y="40.5" width="10" height="240.5" fill="url(#a27)"/><rect x="331" y="40.5" width="10" height="240.5" fill="url(#a28)"/><rect x="341" y="40.5" width="10" height="240.5" fill="url(#a29)"/><rect x="351" y="40.5" width="10" height="240.5" fill="url(#a30)"/><rect x="361" y="40.5" width="10" height="240.5" fill="url(#a31)"/><rect x="371" y="40.5" width="10" height="240.5" fill="url(#a32)"/><rect x="381" y="40.5" width="10" height="240.5" fill="url(#a33)"/><rect x="391" y="40.5" width="10" height="240.5" fill="url(#a34)"/><rect x="401" y="40.5" width="10" height="240.5" fill="url(#a35)"/><rect x="411" y="40.5" width="10" height="240.5" fill="url(#a36)"/><rect x="421" y="40.5" width="10" height="240.5" fill="url(#a37)"/><rect x="431" y="40.5" width="10" height="240.5" fill="url(#a38)"/><rect x="441" y="40.5" width="10" height="240.5" fill="url(#a39)"/><rect x="451" y="40.5" width="11" height="240.5" fill="url(#a40)"/><rect x="462" y="40.5" width="10" height="240.5" fill="url(#a41)"/><rect x="472" y="40.5" width="10" height="240.5" fill="url(#a42)"/><rect x="482" y="40.5" width="10" height="240.5" fill="url(#a43)"/><rect x="492" y="40.5" width="10" height="240.5" fill="url(#a44)"/><rect x="502" y="40.5" width="10" height="240.5" fill="url(#a45)"/><rect x="512" y="40.5" width="10" height="240.5" fill="url(#a46)"/><rect x="522" y="40.5" width="10" height="240.5" fill="url(#a47)"/><rect x="532" y="40.5" width="10" height="240.5" fill="url(#a48)"/><rect x="542" y="40.5" width="10" height="240.5" fill="url(#a49)"/><rect x="552" y="40.5" width="10" height="240.5" fill="url(#a50)"/><rect x="562" y="40.5" width="10" height="240.5" fill="url(#a51)"/><rect x="572" y="40.5" width="10" height="240.5" fill="url(#a52)"/><rect x="582" y="40.5" width="10" height="240.5" fill="url(#a53)"/><rect x="592" y="40.5" width="10" height="240.5" fill="url(#a54)"/><rect x="602" y="40.5" width="10" height="240.5" fill="url(#a55)"/><rect x="612" y="40.5" width="10" height="240.5" fill="url(#a56)"/><rect x="622" y="40.5" width="10" height="240.5" fill="url(#a57)"/><rect x="632" y="40.5" width="10" height="240.5" fill="url(#a58)"/><rect x="642" y="40.5" width="10" height="240.5" fill="url(#a59)"/><rect x="652" y="40.5" width="10" height="240.5" fill="url(#a60)"/><rect x="662" y="40.5" width="10" height="240.5" fill="url(#a61)"/><rect x="672" y="40.5" width="10" height="240.5" fill="url(#a62)"/><rect x="682" y="40.5" width="10" height="240.5" fill="url(#a63)"/><rect x="692" y="40.5" width="10" height="240.5" fill="url(#a64)"/><rect x="702" y="40.5" width="10" height="240.5" fill="url(#a65)"/><rect x="712" y="40.5" width="10" height="240.5" fill="url(#a66)"/><rect x="722" y="40.5" width="11" height="240.5" fill="url(#a67)"/><rect x="733" y="40.5" width="10" height="240.5" fill="url(#a68)"/><rect x="743" y="40.5" width="10" height="240.5" fill="url(#a69)"/><rect x="753" y="40.5" width="10" height="240.5" fill="url(#a70)"/><rect x="763" y="40.5" width="10" height="240.5" fill="url(#a71)"/><rect x="773" y="40.5" width="10" height="240.5" fill="url(#a72)"/><rect x="783" y="40.5" width="10" height="240.5" fill="url(#a73)"/><rect x="793" y="40.5" width="10" height="240.5" fill="url(#a74)"/><rect x="803" y="40.5" width="10" height="240.5" fill="url(#a75)"/><rect x="813" y="40.5" width="10" height="240.5" fill="url(#a76)"/><rect x="823" y="40.5" width="10" height="240.5" fill="url(#a77)"/><rect x="833" y="40.5" width="10" height="240.5" fill="url(#a78)"/><rect x="843" y="40.5" width="10" height="240.5" fill="url(#a79)"/><rect x="853" y="40.5" width="10" height="240.5" fill="url(#a80)"/><rect x="863" y="40.5" width="10" height="240.5" fill="url(#a81)"/><rect x="873" y="40.5" width="10" height="240.5" fill="url(#a82)"/><rect x="883" y="40.5" width="10" height="240.5" fill="url(#a83)"/><rect x="893" y="40.5" width="10" height="240.5" fill="url(#a84)"/><rect x="903" y="40.5" width="10" height="240.5" fill="url(#a85)"/><rect x="913" y="40.5" width="10" height="240.5" fill="url(#a86)"/><rect x="923" y="40.5" width="10" height="240.5" fill="url(#a87)"/><rect x="933" y="40.5" width="10" height="240.5" fill="url(#a88)"/><rect x="943" y="40.5" width="10" height="240.5" fill="url(#a89)"/><rect x="953" y="40.5" width="10" height="240.5" fill="url(#a90)"/><rect x="963" y="40.5" width="10" height="240.5" fill="url(#a91)"/><rect x="973" y="40.5" width="10" height="240.5" fill="url(#a92)"/><rect x="983" y="40.5" width="11" height="240.5" fill="url(#a93)"/><rect x="994" y="40.5" width="10" height="240.5" fill="url(#a94)"/><rect x="1004" y="40.5" width="10" height="240.5" fill="url(#a95)"/><rect x="1014" y="40.5" width="10" height="240.5" fill="url(#a96)"/><rect x="1024" y="40.5" width="10" height="240.5" fill="url(#a97)"/><rect x="1034" y="40.5" width="10" height="240.5" fill="url(#a98)"/><rect x="1044" y="40.5" width="10" height="240.5" fill="url(#a99)"/><rect x="1054" y="40.5" width="10" height="240.5" fill="url(#a100)"/><rect x="1064" y="40.5" width="10" height="240.5" fill="url(#a101)"/><rect x="1074" y="40.5" width="10" height="240.5" fill="url(#a102)"/><rect x="1084" y="40.5" width="10" height="240.5" fill="url(#a103)"/><rect x="1094" y="40.5" width="10" height="240.5" fill="url(#a104)"/><rect x="1104" y="40.5" width="10" height="240.5" fill="url(#a105)"/><rect x="1114" y="40.5" width="10" height="240.5" fill="url(#a106)"/><rect x="1124" y="40.5" width="10" height="240.5" fill="url(#a107)"/><rect x="1134" y="40.5" width="10" height="240.5" fill="url(#a108)"/><rect x="1144" y="40.5" width="10" height="240.5" fill="url(#a109)"/><rect x="1154" y="40.5" width="10" height="240.5" fill="url(#a110)"/><rect x="1164" y="40.5" width="10" height="240.5" fill="url(#a111)"/><rect x="1174" y="40.5" width="10" height="240.5" fill="url(#a112)"/><rect x="1184" y="40.5" width="10" height="240.5" fill="url(#a113)"/><rect x="1194" y="40.5" width="10" height="240.5" fill="url(#a114)"/><rect x="1204" y="40.5" width="10" height="240.5" fill="url(#a115)"/><rect x="1214" y="40.5" width="10" height="240.5" fill="url(#a116)"/><rect x="1224" y="40.5" width="10" height="240.5" fill="url(#a117)"/><rect x="1234" y="40.5" width="10" height="240.5" fill="url(#a118)"/><rect x="1244" y="40.5" width="10" height="240.5" fill="url(#a119)"/><rect x="1254" y="40.5" width="11" height="240.5" fill="url(#a120)"/><rect x="1265" y="40.5" width="10" height="240.5" fill="url(#a121)"/><rect x="1275" y="40.5" width="10" height="240.5" fill="url(#a122)"/><rect x="1285" y="40.5" width="10" height="240.5" fill="url(#a123)"/><rect x="1295" y="40.5" width="10" height="240.5" fill="url(#a124)"/><rect x="1305" y="40.5" width="10" height="240.5" fill="url(#a125)"/><rect x="1315" y="40.5" width="10" height="240.5" fill="url(#a126)"/><rect x="1325" y="40.5" width="10" height="240.5" fill="url(#a127)"/><rect x="1335" y="40.5" width="10" height="240.5" fill="url(#a128)"/><rect x="1345" y="40.5" width="10" height="240.5" fill="url(#a129)"/><rect x="1355" y="40.5" width="10" height="240.5" fill="url(#a130)"/><rect x="1365" y="40.5" width="10" height="240.5" fill="url(#a131)"/><rect x="1375" y="40.5" width="10" height="240.5" fill="url(#a132)"/><rect x="1385" y="40.5" width="10" height="240.5" fill="url(#a133)"/></g></g>
<g clip-path="url(#clipb)"><g filter="url(#hb)" shape-rendering="crispEdges"><rect x="50" y="318.3" width="10" height="242.5" fill="url(#b0)"/><rect x="60" y="318.3" width="10" height="242.5" fill="url(#b1)"/><rect x="70" y="318.3" width="10" height="242.5" fill="url(#b2)"/><rect x="80" y="318.3" width="10" height="242.5" fill="url(#b3)"/><rect x="90" y="318.3" width="10" height="242.5" fill="url(#b4)"/><rect x="100" y="318.3" width="10" height="242.5" fill="url(#b5)"/><rect x="110" y="318.3" width="10" height="242.5" fill="url(#b6)"/><rect x="120" y="318.3" width="10" height="242.5" fill="url(#b7)"/><rect x="130" y="318.3" width="10" height="242.5" fill="url(#b8)"/><rect x="140" y="318.3" width="10" height="242.5" fill="url(#b9)"/><rect x="150" y="318.3" width="10" height="242.5" fill="url(#b10)"/><rect x="160" y="318.3" width="10" height="242.5" fill="url(#b11)"/><rect x="170" y="318.3" width="10" height="242.5" fill="url(#b12)"/><rect x="180" y="318.3" width="10" height="242.5" fill="url(#b13)"/><rect x="190" y="318.3" width="10" height="242.5" fill="url(#b14)"/><rect x="200" y="318.3" width="10" height="242.5" fill="url(#b15)"/><rect x="210" y="318.3" width="10" height="242.5" fill="url(#b16)"/><rect x="220" y="318.3" width="10" height="242.5" fill="url(#b17)"/><rect x="230" y="318.3" width="10" height="242.5" fill="url(#b18)"/><rect x="240" y="318.3" width="10" height="242.5" fill="url(#b19)"/><rect x="250" y="318.3" width="10" height="242.5" fill="url(#b20)"/><rect x="260" y="318.3" width="10" height="242.5" fill="url(#b21)"/><rect x="270" y="318.3" width="9" height="242.5" fill="url(#b22)"/><rect x="279" y="318.3" width="10" height="242.5" fill="url(#b23)"/><rect x="289" y="318.3" width="10" height="242.5" fill="url(#b24)"/><rect x="299" y="318.3" width="10" height="242.5" fill="url(#b25)"/><rect x="309" y="318.3" width="10" height="242.5" fill="url(#b26)"/><rect x="319" y="318.3" width="10" height="242.5" fill="url(#b27)"/><rect x="329" y="318.3" width="10" height="242.5" fill="url(#b28)"/><rect x="339" y="318.3" width="10" height="242.5" fill="url(#b29)"/><rect x="349" y="318.3" width="10" height="242.5" fill="url(#b30)"/><rect x="359" y="318.3" width="10" height="242.5" fill="url(#b31)"/><rect x="369" y="318.3" width="10" height="242.5" fill="url(#b32)"/><rect x="379" y="318.3" width="10" height="242.5" fill="url(#b33)"/><rect x="389" y="318.3" width="10" height="242.5" fill="url(#b34)"/><rect x="399" y="318.3" width="10" height="242.5" fill="url(#b35)"/><rect x="409" y="318.3" width="10" height="242.5" fill="url(#b36)"/><rect x="419" y="318.3" width="10" height="242.5" fill="url(#b37)"/><rect x="429" y="318.3" width="10" height="242.5" fill="url(#b38)"/><rect x="439" y="318.3" width="10" height="242.5" fill="url(#b39)"/><rect x="449" y="318.3" width="10" height="242.5" fill="url(#b40)"/><rect x="459" y="318.3" width="10" height="242.5" fill="url(#b41)"/><rect x="469" y="318.3" width="10" height="242.5" fill="url(#b42)"/><rect x="479" y="318.3" width="10" height="242.5" fill="url(#b43)"/><rect x="489" y="318.3" width="10" height="242.5" fill="url(#b44)"/><rect x="499" y="318.3" width="10" height="242.5" fill="url(#b45)"/><rect x="509" y="318.3" width="10" height="242.5" fill="url(#b46)"/><rect x="519" y="318.3" width="10" height="242.5" fill="url(#b47)"/><rect x="529" y="318.3" width="10" height="242.5" fill="url(#b48)"/><rect x="539" y="318.3" width="10" height="242.5" fill="url(#b49)"/><rect x="549" y="318.3" width="10" height="242.5" fill="url(#b50)"/><rect x="559" y="318.3" width="10" height="242.5" fill="url(#b51)"/><rect x="569" y="318.3" width="10" height="242.5" fill="url(#b52)"/><rect x="579" y="318.3" width="10" height="242.5" fill="url(#b53)"/><rect x="589" y="318.3" width="10" height="242.5" fill="url(#b54)"/><rect x="599" y="318.3" width="10" height="242.5" fill="url(#b55)"/><rect x="609" y="318.3" width="10" height="242.5" fill="url(#b56)"/><rect x="619" y="318.3" width="10" height="242.5" fill="url(#b57)"/><rect x="629" y="318.3" width="10" height="242.5" fill="url(#b58)"/><rect x="639" y="318.3" width="10" height="242.5" fill="url(#b59)"/><rect x="649" y="318.3" width="10" height="242.5" fill="url(#b60)"/><rect x="659" y="318.3" width="10" height="242.5" fill="url(#b61)"/><rect x="669" y="318.3" width="10" height="242.5" fill="url(#b62)"/><rect x="679" y="318.3" width="10" height="242.5" fill="url(#b63)"/><rect x="689" y="318.3" width="10" height="242.5" fill="url(#b64)"/><rect x="699" y="318.3" width="10" height="242.5" fill="url(#b65)"/><rect x="709" y="318.3" width="10" height="242.5" fill="url(#b66)"/><rect x="719" y="318.3" width="9" height="242.5" fill="url(#b67)"/><rect x="728" y="318.3" width="10" height="242.5" fill="url(#b68)"/><rect x="738" y="318.3" width="10" height="242.5" fill="url(#b69)"/><rect x="748" y="318.3" width="10" height="242.5" fill="url(#b70)"/><rect x="758" y="318.3" width="10" height="242.5" fill="url(#b71)"/><rect x="768" y="318.3" width="10" height="242.5" fill="url(#b72)"/><rect x="778" y="318.3" width="10" height="242.5" fill="url(#b73)"/><rect x="788" y="318.3" width="10" height="242.5" fill="url(#b74)"/><rect x="798" y="318.3" width="10" height="242.5" fill="url(#b75)"/><rect x="808" y="318.3" width="10" height="242.5" fill="url(#b76)"/><rect x="818" y="318.3" width="10" height="242.5" fill="url(#b77)"/><rect x="828" y="318.3" width="10" height="242.5" fill="url(#b78)"/><rect x="838" y="318.3" width="10" height="242.5" fill="url(#b79)"/><rect x="848" y="318.3" width="10" height="242.5" fill="url(#b80)"/><rect x="858" y="318.3" width="10" height="242.5" fill="url(#b81)"/><rect x="868" y="318.3" width="10" height="242.5" fill="url(#b82)"/><rect x="878" y="318.3" width="10" height="242.5" fill="url(#b83)"/><rect x="888" y="318.3" width="10" height="242.5" fill="url(#b84)"/><rect x="898" y="318.3" width="10" height="242.5" fill="url(#b85)"/><rect x="908" y="318.3" width="10" height="242.5" fill="url(#b86)"/><rect x="918" y="318.3" width="10" height="242.5" fill="url(#b87)"/><rect x="928" y="318.3" width="10" height="242.5" fill="url(#b88)"/><rect x="938" y="318.3" width="10" height="242.5" fill="url(#b89)"/><rect x="948" y="318.3" width="10" height="242.5" fill="url(#b90)"/><rect x="958" y="318.3" width="10" height="242.5" fill="url(#b91)"/><rect x="968" y="318.3" width="10" height="242.5" fill="url(#b92)"/><rect x="978" y="318.3" width="10" height="242.5" fill="url(#b93)"/><rect x="988" y="318.3" width="10" height="242.5" fill="url(#b94)"/><rect x="998" y="318.3" width="10" height="242.5" fill="url(#b95)"/><rect x="1008" y="318.3" width="10" height="242.5" fill="url(#b96)"/><rect x="1018" y="318.3" width="10" height="242.5" fill="url(#b97)"/><rect x="1028" y="318.3" width="10" height="242.5" fill="url(#b98)"/><rect x="1038" y="318.3" width="10" height="242.5" fill="url(#b99)"/><rect x="1048" y="318.3" width="10" height="242.5" fill="url(#b100)"/><rect x="1058" y="318.3" width="10" height="242.5" fill="url(#b101)"/><rect x="1068" y="318.3" width="10" height="242.5" fill="url(#b102)"/><rect x="1078" y="318.3" width="10" height="242.5" fill="url(#b103)"/><rect x="1088" y="318.3" width="10" height="242.5" fill="url(#b104)"/><rect x="1098" y="318.3" width="10" height="242.5" fill="url(#b105)"/><rect x="1108" y="318.3" width="10" height="242.5" fill="url(#b106)"/><rect x="1118" y="318.3" width="10" height="242.5" fill="url(#b107)"/><rect x="1128" y="318.3" width="10" height="242.5" fill="url(#b108)"/><rect x="1138" y="318.3" width="10" height="242.5" fill="url(#b109)"/><rect x="1148" y="318.3" width="10" height="242.5" fill="url(#b110)"/><rect x="1158" y="318.3" width="10" height="242.5" fill="url(#b111)"/><rect x="1168" y="318.3" width="9" height="242.5" fill="url(#b112)"/><rect x="1177" y="318.3" width="10" height="242.5" fill="url(#b113)"/><rect x="1187" y="318.3" width="10" height="242.5" fill="url(#b114)"/><rect x="1197" y="318.3" width="10" height="242.5" fill="url(#b115)"/><rect x="1207" y="318.3" width="10" height="242.5" fill="url(#b116)"/><rect x="1217" y="318.3" width="10" height="242.5" fill="url(#b117)"/><rect x="1227" y="318.3" width="10" height="242.5" fill="url(#b118)"/><rect x="1237" y="318.3" width="10" height="242.5" fill="url(#b119)"/><rect x="1247" y="318.3" width="10" height="242.5" fill="url(#b120)"/><rect x="1257" y="318.3" width="10" height="242.5" fill="url(#b121)"/><rect x="1267" y="318.3" width="10" height="242.5" fill="url(#b122)"/><rect x="1277" y="318.3" width="10" height="242.5" fill="url(#b123)"/><rect x="1287" y="318.3" width="10" height="242.5" fill="url(#b124)"/><rect x="1297" y="318.3" width="10" height="242.5" fill="url(#b125)"/><rect x="1307" y="318.3" width="10" height="242.5" fill="url(#b126)"/><rect x="1317" y="318.3" width="10" height="242.5" fill="url(#b127)"/><rect x="1327" y="318.3" width="10" height="242.5" fill="url(#b128)"/><rect x="1337" y="318.3" width="10" height="242.5" fill="url(#b129)"/><rect x="1347" y="318.3" width="10" height="242.5" fill="url(#b130)"/><rect x="1357" y="318.3" width="10" height="242.5" fill="url(#b131)"/><rect x="1367" y="318.3" width="10" height="242.5" fill="url(#b132)"/><rect x="1377" y="318.3" width="10" height="242.5" fill="url(#b133)"/><rect x="1387" y="318.3" width="10" height="242.5" fill="url(#b134)"/></g></g>
<rect x="70.60" y="604.10" width="1307.10" height="240.40" fill="#20918b"/>
<g clip-path="url(#clipc)"><ellipse cx="137" cy="820" rx="30" ry="30" fill="url(#blob)"/><ellipse cx="1316" cy="818" rx="42" ry="28" fill="url(#blob)"/><ellipse cx="1040" cy="806" rx="130" ry="8" fill="url(#blob)" opacity="0.45" transform="rotate(-2 1040 806)"/></g>
<line x1="71.6" x2="1373.7" y1="59.40" y2="59.40" stroke="#b8b8b8" stroke-opacity="0.52" stroke-width="1.1"/>
<line x1="71.6" x2="1373.7" y1="170.20" y2="170.20" stroke="#b8b8b8" stroke-opacity="0.52" stroke-width="1.1"/>
<line x1="722.80" x2="722.80" y1="41.5" y2="280.0" stroke="#b8b8b8" stroke-opacity="0.55" stroke-width="0.9"/>
<line x1="71.6" x2="1375.8" y1="336.50" y2="336.50" stroke="#b8b8b8" stroke-opacity="0.52" stroke-width="1.1"/>
<line x1="71.6" x2="1375.8" y1="447.60" y2="447.60" stroke="#b8b8b8" stroke-opacity="0.52" stroke-width="1.1"/>
<line x1="723.20" x2="723.20" y1="319.3" y2="559.8" stroke="#b8b8b8" stroke-opacity="0.55" stroke-width="0.9"/>
<line x1="71.6" x2="1376.7" y1="622.50" y2="622.50" stroke="#b8b8b8" stroke-opacity="0.50" stroke-width="1.1"/>
<line x1="71.6" x2="1376.7" y1="733.30" y2="733.30" stroke="#b8b8b8" stroke-opacity="0.50" stroke-width="1.1"/>
<line x1="98.20" x2="98.20" y1="605.1" y2="843.5" stroke="#b8b8b8" stroke-opacity="0.45" stroke-width="0.9"/>
<line x1="294.00" x2="294.00" y1="605.1" y2="843.5" stroke="#b8b8b8" stroke-opacity="0.45" stroke-width="0.9"/>
<line x1="489.40" x2="489.40" y1="605.1" y2="843.5" stroke="#b8b8b8" stroke-opacity="0.45" stroke-width="0.9"/>
<line x1="723.80" x2="723.80" y1="605.1" y2="843.5" stroke="#b8b8b8" stroke-opacity="0.45" stroke-width="0.9"/>
<line x1="959.20" x2="959.20" y1="605.1" y2="843.5" stroke="#b8b8b8" stroke-opacity="0.45" stroke-width="0.9"/>
<line x1="1154.40" x2="1154.40" y1="605.1" y2="843.5" stroke="#b8b8b8" stroke-opacity="0.45" stroke-width="0.9"/>
<line x1="1350.40" x2="1350.40" y1="605.1" y2="843.5" stroke="#b8b8b8" stroke-opacity="0.45" stroke-width="0.9"/>
<rect x="71.25" y="41.15" width="1302.80" height="239.20" fill="none" stroke="#101010" stroke-width="1.3"/>
<rect x="71.25" y="318.95" width="1304.90" height="241.20" fill="none" stroke="#101010" stroke-width="1.3"/>
<rect x="71.20" y="604.70" width="1305.90" height="239.20" fill="none" stroke="#2a2a2a" stroke-width="1.2"/>
<line x1="73.5" x2="503.0" y1="40.9" y2="40.9" stroke="#0b800b" stroke-width="3.7"/>
<line x1="508.2" x2="937.2" y1="40.9" y2="40.9" stroke="#0b800b" stroke-width="3.7"/>
<line x1="942.2" x2="1373.0" y1="40.9" y2="40.9" stroke="#0b800b" stroke-width="3.7"/>
<polyline points="82.5,29.3 73.6,40.9 82.5,52.5" stroke="#0b800b" fill="none" stroke-width="3.1" stroke-linecap="round" stroke-linejoin="round"/>
<polyline points="494.0,29.3 502.9,40.9 494.0,52.5" stroke="#0b800b" fill="none" stroke-width="3.1" stroke-linecap="round" stroke-linejoin="round"/>
<polyline points="517.3,29.3 508.4,40.9 517.3,52.5" stroke="#0b800b" fill="none" stroke-width="3.1" stroke-linecap="round" stroke-linejoin="round"/>
<polyline points="928.2,29.3 937.1,40.9 928.2,52.5" stroke="#0b800b" fill="none" stroke-width="3.1" stroke-linecap="round" stroke-linejoin="round"/>
<polyline points="951.3,29.3 942.4,40.9 951.3,52.5" stroke="#0b800b" fill="none" stroke-width="3.1" stroke-linecap="round" stroke-linejoin="round"/>
<polyline points="1364.1,29.3 1373.0,40.9 1364.1,52.5" stroke="#0b800b" fill="none" stroke-width="3.1" stroke-linecap="round" stroke-linejoin="round"/>
<text fill="#0b800b"><tspan x="206.05" y="22.20" font-family="DejaVu Sans, 'Liberation Sans', sans-serif" font-size="28.6" font-style="italic">T</tspan><tspan x="223.05" y="27.60" font-family="DejaVu Sans, 'Liberation Sans', sans-serif" font-size="21.3">g</tspan> <tspan x="243.70" y="22.80" font-family="DejaVu Sans, 'Liberation Sans', sans-serif" font-size="28.6">=</tspan> <tspan x="273.85" y="22.60" font-family="DejaVu Sans, 'Liberation Sans', sans-serif" font-size="29.0">3.1</tspan> <tspan x="329.15" y="24.00" font-family="DejaVu Sans, 'Liberation Sans', sans-serif" font-size="32.0">μ</tspan><tspan x="349.85" y="23.00" font-family="DejaVu Sans, 'Liberation Sans', sans-serif" font-size="32.2">s</tspan></text>
<text fill="#0b800b"><tspan x="635.15" y="22.20" font-family="DejaVu Sans, 'Liberation Sans', sans-serif" font-size="28.6" font-style="italic">T</tspan><tspan x="653.05" y="27.60" font-family="DejaVu Sans, 'Liberation Sans', sans-serif" font-size="21.3">g</tspan> <tspan x="673.70" y="22.80" font-family="DejaVu Sans, 'Liberation Sans', sans-serif" font-size="28.6">=</tspan> <tspan x="703.25" y="22.60" font-family="DejaVu Sans, 'Liberation Sans', sans-serif" font-size="29.0">3.0</tspan> <tspan x="761.55" y="24.00" font-family="DejaVu Sans, 'Liberation Sans', sans-serif" font-size="32.0">μ</tspan><tspan x="782.25" y="23.00" font-family="DejaVu Sans, 'Liberation Sans', sans-serif" font-size="32.2">s</tspan></text>
<text fill="#0b800b"><tspan x="1074.35" y="22.20" font-family="DejaVu Sans, 'Liberation Sans', sans-serif" font-size="28.6" font-style="italic">T</tspan><tspan x="1092.15" y="27.60" font-family="DejaVu Sans, 'Liberation Sans', sans-serif" font-size="21.3">g</tspan> <tspan x="1112.20" y="22.80" font-family="DejaVu Sans, 'Liberation Sans', sans-serif" font-size="28.6">=</tspan> <tspan x="1143.25" y="22.60" font-family="DejaVu Sans, 'Liberation Sans', sans-serif" font-size="29.0">2.9</tspan> <tspan x="1200.95" y="24.00" font-family="DejaVu Sans, 'Liberation Sans', sans-serif" font-size="32.0">μ</tspan><tspan x="1220.95" y="23.00" font-family="DejaVu Sans, 'Liberation Sans', sans-serif" font-size="32.2">s</tspan></text>
<text x="50.40" y="71.15" font-family="DejaVu Sans, 'Liberation Sans', sans-serif" font-size="29.8" fill="#000">6</text>
<text x="50.90" y="181.95" font-family="DejaVu Sans, 'Liberation Sans', sans-serif" font-size="29.8" fill="#000">3</text>
<text x="50.40" y="293.05" font-family="DejaVu Sans, 'Liberation Sans', sans-serif" font-size="29.8" fill="#000">0</text>
<text x="50.40" y="347.65" font-family="DejaVu Sans, 'Liberation Sans', sans-serif" font-size="29.8" fill="#000">6</text>
<text x="50.90" y="458.95" font-family="DejaVu Sans, 'Liberation Sans', sans-serif" font-size="29.8" fill="#000">3</text>
<text x="50.40" y="571.35" font-family="DejaVu Sans, 'Liberation Sans', sans-serif" font-size="29.8" fill="#000">0</text>
<text x="50.40" y="633.45" font-family="DejaVu Sans, 'Liberation Sans', sans-serif" font-size="29.8" fill="#000">6</text>
<text x="50.90" y="744.45" font-family="DejaVu Sans, 'Liberation Sans', sans-serif" font-size="29.8" fill="#000">3</text>
<text x="50.40" y="855.45" font-family="DejaVu Sans, 'Liberation Sans', sans-serif" font-size="29.8" fill="#000">0</text>
<text x="66.88" y="869.30" font-family="DejaVu Sans, 'Liberation Sans', sans-serif" font-size="29.8" fill="#000">−16</text>
<text x="262.15" y="869.30" font-family="DejaVu Sans, 'Liberation Sans', sans-serif" font-size="29.8" fill="#000">−11</text>
<text x="467.68" y="869.30" font-family="DejaVu Sans, 'Liberation Sans', sans-serif" font-size="29.8" fill="#000">−6</text>
<text x="714.60" y="869.30" font-family="DejaVu Sans, 'Liberation Sans', sans-serif" font-size="29.8" fill="#000">0</text>
<text x="949.80" y="869.30" font-family="DejaVu Sans, 'Liberation Sans', sans-serif" font-size="29.8" fill="#000">6</text>
<text x="1135.75" y="869.30" font-family="DejaVu Sans, 'Liberation Sans', sans-serif" font-size="29.8" fill="#000">11</text>
<text x="1331.58" y="869.30" font-family="DejaVu Sans, 'Liberation Sans', sans-serif" font-size="29.8" fill="#000">16</text>
<text x="600.05" y="915.10" font-family="DejaVu Sans, 'Liberation Sans', sans-serif" font-size="32.0" fill="#000"><tspan font-style="italic">x</tspan> position [mm]</text>
<text transform="translate(27.20,285.55) rotate(-90)" font-family="DejaVu Sans, 'Liberation Sans', sans-serif" font-size="32.0" fill="#000"><tspan font-style="italic">y</tspan> position [mm]</text>
<text transform="translate(27.20,565.05) rotate(-90)" font-family="DejaVu Sans, 'Liberation Sans', sans-serif" font-size="32.0" fill="#000"><tspan font-style="italic">y</tspan> position [mm]</text>
<text transform="translate(27.20,849.55) rotate(-90)" font-family="DejaVu Sans, 'Liberation Sans', sans-serif" font-size="32.0" fill="#000"><tspan font-style="italic">y</tspan> position [mm]</text>
<text fill="#fff" transform="scale(1,1.0450)"><tspan x="86.35" y="92.73" font-family="Liberation Sans, Arial, sans-serif" font-size="44.5" font-weight="bold">(a)</tspan> <tspan x="153.85" y="92.73" font-family="Liberation Sans, Arial, sans-serif" font-size="44.5" font-weight="bold" font-style="italic">P</tspan><tspan x="182.25" y="102.20" font-family="Liberation Sans, Arial, sans-serif" font-size="30.3" font-weight="bold">exp</tspan></text>
<text fill="#fff" transform="scale(1,1.0450)"><tspan x="86.35" y="361.72" font-family="Liberation Sans, Arial, sans-serif" font-size="44.5" font-weight="bold">(b)</tspan> <tspan x="156.55" y="361.72" font-family="Liberation Sans, Arial, sans-serif" font-size="44.5" font-weight="bold" font-style="italic">P</tspan><tspan x="184.30" y="371.67" font-family="Liberation Sans, Arial, sans-serif" font-size="30.3" font-weight="bold">rec</tspan></text>
<text fill="#fff" transform="scale(1,1.0450)"><tspan x="86.05" y="628.52" font-family="Liberation Sans, Arial, sans-serif" font-size="44.5" font-weight="bold">(c) Residual</tspan></text>
<rect x="1505.9" y="178.0" width="12.3" height="242.9" fill="url(#cb)"/>
<rect x="1505.9" y="178.0" width="12.3" height="242.9" fill="none" stroke="#b8b8c8" stroke-opacity="0.8" stroke-width="0.7"/>
<rect x="1503.3" y="605.2" width="13.0" height="240.5" fill="url(#cb)"/>
<rect x="1503.3" y="605.2" width="13.0" height="240.5" fill="none" stroke="#b8b8c8" stroke-opacity="0.8" stroke-width="0.7"/>
<text x="1521.05" y="190.35" font-family="DejaVu Sans, 'Liberation Sans', sans-serif" font-size="30.2" fill="#000">12000</text>
<text x="1521.60" y="271.50" font-family="DejaVu Sans, 'Liberation Sans', sans-serif" font-size="30.2" fill="#000">8000</text>
<text x="1522.10" y="352.20" font-family="DejaVu Sans, 'Liberation Sans', sans-serif" font-size="30.2" fill="#000">4000</text>
<text x="1521.60" y="433.00" font-family="DejaVu Sans, 'Liberation Sans', sans-serif" font-size="30.2" fill="#000">0</text>
<text x="1519.20" y="618.48" font-family="DejaVu Sans, 'Liberation Sans', sans-serif" font-size="32.7" fill="#000">12000</text>
<text x="1519.45" y="677.98" font-family="DejaVu Sans, 'Liberation Sans', sans-serif" font-size="32.7" fill="#000">6000</text>
<text x="1519.45" y="738.17" font-family="DejaVu Sans, 'Liberation Sans', sans-serif" font-size="32.7" fill="#000">0</text>
<text x="1519.80" y="798.38" font-family="DejaVu Sans, 'Liberation Sans', sans-serif" font-size="32.7" fill="#000">−6000</text>
<text x="1519.80" y="858.48" font-family="DejaVu Sans, 'Liberation Sans', sans-serif" font-size="32.7" fill="#000">−12000</text>
<line x1="1518.2" x2="1520.0" y1="178.2" y2="178.2" stroke="#555" stroke-width="0.9"/>
<line x1="1518.2" x2="1520.0" y1="259.3" y2="259.3" stroke="#555" stroke-width="0.9"/>
<line x1="1518.2" x2="1520.0" y1="340.3" y2="340.3" stroke="#555" stroke-width="0.9"/>
<line x1="1518.2" x2="1520.0" y1="420.7" y2="420.7" stroke="#555" stroke-width="0.9"/>
<line x1="1516.3" x2="1518.1" y1="605.4" y2="605.4" stroke="#555" stroke-width="0.9"/>
<line x1="1516.3" x2="1518.1" y1="665.5" y2="665.5" stroke="#555" stroke-width="0.9"/>
<line x1="1516.3" x2="1518.1" y1="725.6" y2="725.6" stroke="#555" stroke-width="0.9"/>
<line x1="1516.3" x2="1518.1" y1="785.6" y2="785.6" stroke="#555" stroke-width="0.9"/>
<line x1="1516.3" x2="1518.1" y1="845.5" y2="845.5" stroke="#555" stroke-width="0.9"/>
<text x="1448.55" y="140.40" font-family="Liberation Sans, Arial, sans-serif" font-size="40.5" fill="#000">Intensity</text>
<text x="1471.10" y="572.50" font-family="Liberation Sans, Arial, sans-serif" font-size="42.0" fill="#000">Resi</text>
</svg>
</body></html>
